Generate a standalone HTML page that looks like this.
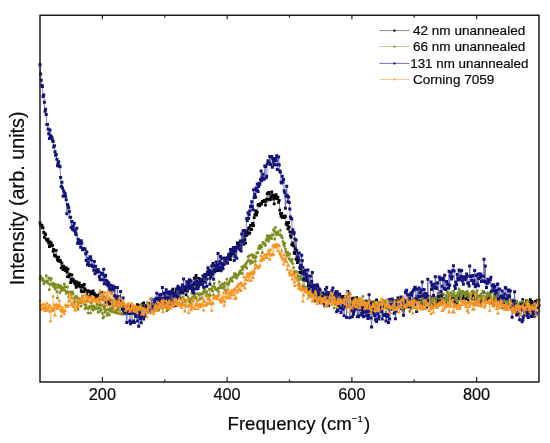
<!DOCTYPE html>
<html><head><meta charset="utf-8"><title>Raman spectra</title>
<style>
html,body{margin:0;padding:0;background:#fff}
svg{display:block}
text{font-family:"Liberation Sans",Arial,Helvetica,sans-serif;fill:#0a0a0a;stroke:#0a0a0a;stroke-width:0.2px}
</style></head>
<body>
<svg width="550" height="443" viewBox="0 0 550 443">
<rect width="550" height="443" fill="#fff"/>
<g id="data">
<path d="M40.0 223.0 L40.6 225.4 L41.2 225.3 L41.9 225.1 L42.5 227.8 L43.1 227.8 L43.7 232.3 L44.4 237.4 L45.0 233.6 L45.6 234.6 L46.2 239.2 L46.9 240.2 L47.5 240.8 L48.1 239.2 L48.7 243.1 L49.4 246.5 L50.0 241.9 L50.6 245.7 L51.2 242.8 L51.9 245.8 L52.5 245.4 L53.1 251.3 L53.7 249.5 L54.4 255.1 L55.0 255.9 L55.6 256.0 L56.2 250.4 L56.9 257.1 L57.5 259.5 L58.1 260.9 L58.7 257.1 L59.4 261.0 L60.0 260.4 L60.6 261.7 L61.2 267.9 L61.9 263.2 L62.5 266.3 L63.1 269.7 L63.7 266.2 L64.4 268.4 L65.0 269.8 L65.6 270.5 L66.2 267.6 L66.9 272.2 L67.5 276.7 L68.1 269.1 L68.7 276.9 L69.4 275.5 L70.0 274.1 L70.6 282.5 L71.2 279.7 L71.9 274.8 L72.5 279.2 L73.1 281.4 L73.7 280.0 L74.3 283.2 L75.0 281.7 L75.6 284.5 L76.2 287.4 L76.8 281.9 L77.5 285.1 L78.1 283.8 L78.7 286.2 L79.3 283.0 L80.0 285.3 L80.6 287.0 L81.2 290.7 L81.8 291.9 L82.5 285.1 L83.1 287.1 L83.7 291.6 L84.3 284.3 L85.0 289.0 L85.6 290.4 L86.2 294.6 L86.8 293.3 L87.5 290.6 L88.1 290.7 L88.7 291.3 L89.3 296.7 L90.0 291.3 L90.6 292.0 L91.2 294.2 L91.8 293.1 L92.5 293.2 L93.1 290.8 L93.7 294.3 L94.3 293.4 L95.0 298.3 L95.6 297.2 L96.2 295.5 L96.8 297.8 L97.5 295.2 L98.1 299.6 L98.7 296.8 L99.3 298.8 L100.0 293.7 L100.6 298.8 L101.2 293.2 L101.8 292.5 L102.5 297.8 L103.1 296.4 L103.7 299.8 L104.3 306.2 L105.0 297.6 L105.6 298.5 L106.2 301.3 L106.8 302.5 L107.4 300.9 L108.1 301.1 L108.7 304.1 L109.3 303.9 L109.9 299.7 L110.6 302.8 L111.2 303.5 L111.8 300.6 L112.4 304.7 L113.1 301.7 L113.7 307.3 L114.3 305.3 L114.9 305.2 L115.6 303.5 L116.2 305.1 L116.8 299.9 L117.4 302.6 L118.1 307.2 L118.7 300.2 L119.3 309.0 L119.9 301.7 L120.6 309.2 L121.2 304.8 L121.8 309.7 L122.4 308.0 L123.1 303.4 L123.7 311.6 L124.3 312.4 L124.9 308.1 L125.6 307.7 L126.2 308.1 L126.8 305.9 L127.4 312.0 L128.1 307.3 L128.7 308.8 L129.3 306.7 L129.9 307.2 L130.6 305.3 L131.2 312.6 L131.8 308.5 L132.4 311.8 L133.1 309.0 L133.7 306.9 L134.3 308.0 L134.9 307.2 L135.6 308.9 L136.2 307.7 L136.8 307.9 L137.4 304.7 L138.1 306.3 L138.7 313.4 L139.3 306.6 L139.9 305.5 L140.5 309.4 L141.2 312.5 L141.8 304.1 L142.4 307.7 L143.0 306.4 L143.7 303.0 L144.3 310.2 L144.9 307.9 L145.5 308.1 L146.2 305.6 L146.8 309.0 L147.4 306.0 L148.0 307.0 L148.7 304.0 L149.3 303.5 L149.9 310.7 L150.5 305.1 L151.2 307.2 L151.8 306.0 L152.4 304.5 L153.0 304.0 L153.7 307.0 L154.3 304.0 L154.9 304.1 L155.5 304.3 L156.2 307.3 L156.8 305.5 L157.4 304.3 L158.0 301.2 L158.7 298.5 L159.3 304.9 L159.9 304.6 L160.5 301.1 L161.2 302.7 L161.8 303.0 L162.4 302.8 L163.0 302.7 L163.7 298.4 L164.3 303.8 L164.9 295.4 L165.5 301.2 L166.2 299.8 L166.8 300.6 L167.4 303.3 L168.0 301.8 L168.7 293.9 L169.3 292.0 L169.9 299.0 L170.5 293.4 L171.2 296.0 L171.8 298.2 L172.4 290.7 L173.0 289.1 L173.6 295.6 L174.3 294.7 L174.9 293.6 L175.5 294.1 L176.1 291.2 L176.8 289.1 L177.4 292.7 L178.0 290.0 L178.6 287.8 L179.3 293.7 L179.9 291.8 L180.5 292.9 L181.1 288.5 L181.8 289.2 L182.4 287.9 L183.0 287.9 L183.6 290.7 L184.3 287.6 L184.9 290.6 L185.5 290.2 L186.1 294.8 L186.8 284.6 L187.4 290.8 L188.0 287.7 L188.6 287.6 L189.3 283.1 L189.9 285.6 L190.5 288.7 L191.1 286.0 L191.8 286.1 L192.4 284.7 L193.0 288.5 L193.6 284.8 L194.3 278.1 L194.9 282.1 L195.5 278.0 L196.1 275.5 L196.8 281.4 L197.4 286.4 L198.0 282.2 L198.6 278.3 L199.3 278.6 L199.9 284.1 L200.5 280.9 L201.1 280.2 L201.8 279.4 L202.4 279.3 L203.0 281.0 L203.6 279.8 L204.3 278.4 L204.9 274.3 L205.5 278.3 L206.1 274.4 L206.7 279.1 L207.4 271.8 L208.0 274.6 L208.6 274.5 L209.2 270.1 L209.9 278.5 L210.5 277.2 L211.1 271.1 L211.7 274.2 L212.4 272.6 L213.0 263.4 L213.6 271.2 L214.2 269.8 L214.9 269.7 L215.5 265.8 L216.1 267.6 L216.7 267.3 L217.4 270.7 L218.0 267.7 L218.6 266.2 L219.2 270.1 L219.9 263.5 L220.5 263.4 L221.1 258.7 L221.7 268.0 L222.4 265.7 L223.0 265.0 L223.6 263.7 L224.2 261.5 L224.9 261.2 L225.5 259.2 L226.1 258.8 L226.7 258.9 L227.4 262.5 L228.0 259.1 L228.6 256.7 L229.2 254.6 L229.9 253.8 L230.5 259.6 L231.1 255.8 L231.7 253.8 L232.4 252.0 L233.0 249.1 L233.6 251.4 L234.2 253.5 L234.9 249.1 L235.5 248.9 L236.1 248.2 L236.7 248.4 L237.4 242.8 L238.0 246.0 L238.6 243.5 L239.2 247.8 L239.8 242.3 L240.5 245.5 L241.1 247.5 L241.7 241.4 L242.3 239.8 L243.0 241.3 L243.6 239.9 L244.2 236.2 L244.8 239.6 L245.5 243.2 L246.1 235.7 L246.7 234.8 L247.3 231.4 L248.0 234.2 L248.6 228.5 L249.2 227.6 L249.8 233.1 L250.5 225.3 L251.1 229.5 L251.7 229.2 L252.3 224.0 L253.0 223.3 L253.6 225.7 L254.2 217.7 L254.8 214.7 L255.5 210.6 L256.1 212.8 L256.7 215.2 L257.3 212.1 L258.0 205.2 L258.6 204.4 L259.2 204.5 L259.8 205.9 L260.5 203.7 L261.1 204.1 L261.7 203.6 L262.3 201.3 L263.0 201.4 L263.6 201.6 L264.2 200.3 L264.8 201.6 L265.5 205.1 L266.1 201.0 L266.7 199.1 L267.3 193.7 L268.0 199.4 L268.6 192.3 L269.2 193.6 L269.8 199.9 L270.5 199.3 L271.1 196.6 L271.7 192.0 L272.3 195.9 L272.9 195.1 L273.6 199.0 L274.2 203.9 L274.8 198.2 L275.4 195.5 L276.1 194.6 L276.7 198.4 L277.3 198.9 L277.9 197.2 L278.6 202.3 L279.2 200.3 L279.8 210.1 L280.4 213.7 L281.1 216.3 L281.7 213.3 L282.3 217.4 L282.9 216.5 L283.6 216.7 L284.2 217.7 L284.8 215.8 L285.4 216.5 L286.1 224.2 L286.7 222.7 L287.3 225.2 L287.9 228.9 L288.6 222.5 L289.2 227.1 L289.8 231.9 L290.4 235.6 L291.1 237.0 L291.7 244.6 L292.3 244.8 L292.9 242.9 L293.6 245.8 L294.2 252.7 L294.8 253.5 L295.4 248.3 L296.1 259.4 L296.7 258.9 L297.3 262.7 L297.9 259.4 L298.6 261.2 L299.2 260.4 L299.8 272.5 L300.4 266.2 L301.1 272.8 L301.7 267.7 L302.3 271.4 L302.9 267.4 L303.6 272.5 L304.2 277.8 L304.8 272.6 L305.4 280.7 L306.1 279.8 L306.7 277.1 L307.3 279.8 L307.9 281.1 L308.5 283.4 L309.2 283.0 L309.8 283.1 L310.4 285.4 L311.0 284.1 L311.7 284.0 L312.3 288.2 L312.9 291.6 L313.5 285.2 L314.2 290.2 L314.8 288.9 L315.4 288.5 L316.0 294.3 L316.7 290.8 L317.3 297.2 L317.9 291.0 L318.5 294.8 L319.2 293.4 L319.8 292.3 L320.4 296.5 L321.0 294.7 L321.7 297.2 L322.3 295.6 L322.9 292.8 L323.5 295.9 L324.2 296.6 L324.8 299.4 L325.4 294.2 L326.0 296.9 L326.7 292.2 L327.3 299.3 L327.9 294.5 L328.5 292.6 L329.2 297.8 L329.8 301.3 L330.4 293.9 L331.0 295.3 L331.7 296.5 L332.3 295.5 L332.9 300.0 L333.5 296.7 L334.2 297.1 L334.8 301.0 L335.4 297.3 L336.0 300.8 L336.7 296.9 L337.3 296.3 L337.9 294.6 L338.5 305.5 L339.2 299.3 L339.8 301.0 L340.4 300.3 L341.0 301.0 L341.6 300.8 L342.3 306.3 L342.9 297.8 L343.5 296.4 L344.1 298.1 L344.8 297.3 L345.4 303.4 L346.0 303.7 L346.6 298.7 L347.3 297.5 L347.9 300.6 L348.5 305.8 L349.1 294.0 L349.8 303.5 L350.4 298.9 L351.0 305.2 L351.6 299.2 L352.3 301.6 L352.9 298.1 L353.5 299.8 L354.1 306.7 L354.8 305.2 L355.4 301.8 L356.0 300.5 L356.6 297.7 L357.3 302.1 L357.9 303.3 L358.5 303.3 L359.1 303.4 L359.8 300.5 L360.4 303.7 L361.0 303.8 L361.6 307.8 L362.3 309.6 L362.9 303.9 L363.5 302.2 L364.1 304.3 L364.8 302.8 L365.4 302.5 L366.0 304.6 L366.6 301.9 L367.3 306.7 L367.9 304.8 L368.5 305.9 L369.1 304.7 L369.8 303.2 L370.4 302.6 L371.0 304.8 L371.6 303.9 L372.3 306.3 L372.9 305.6 L373.5 301.8 L374.1 305.9 L374.7 301.9 L375.4 304.1 L376.0 305.0 L376.6 299.9 L377.2 306.2 L377.9 306.4 L378.5 305.5 L379.1 304.8 L379.7 304.9 L380.4 303.2 L381.0 305.2 L381.6 304.4 L382.2 306.3 L382.9 302.5 L383.5 306.6 L384.1 306.4 L384.7 305.5 L385.4 304.6 L386.0 307.5 L386.6 301.0 L387.2 307.2 L387.9 306.5 L388.5 306.6 L389.1 306.9 L389.7 303.8 L390.4 304.9 L391.0 307.5 L391.6 306.9 L392.2 306.2 L392.9 301.2 L393.5 307.1 L394.1 308.8 L394.7 308.3 L395.4 306.0 L396.0 300.8 L396.6 308.0 L397.2 304.8 L397.9 297.8 L398.5 306.2 L399.1 300.7 L399.7 301.3 L400.4 303.1 L401.0 308.6 L401.6 303.8 L402.2 305.6 L402.9 309.8 L403.5 309.3 L404.1 304.3 L404.7 303.8 L405.4 300.8 L406.0 302.4 L406.6 305.6 L407.2 305.4 L407.8 304.6 L408.5 307.1 L409.1 301.9 L409.7 303.9 L410.3 306.1 L411.0 305.6 L411.6 307.0 L412.2 304.9 L412.8 302.8 L413.5 304.7 L414.1 300.7 L414.7 298.8 L415.3 305.2 L416.0 303.2 L416.6 304.2 L417.2 298.4 L417.8 302.2 L418.5 301.4 L419.1 300.6 L419.7 296.5 L420.3 302.0 L421.0 305.5 L421.6 303.9 L422.2 301.0 L422.8 302.7 L423.5 304.8 L424.1 294.7 L424.7 302.1 L425.3 304.0 L426.0 304.3 L426.6 307.2 L427.2 305.5 L427.8 303.0 L428.5 302.9 L429.1 304.2 L429.7 300.3 L430.3 301.6 L431.0 304.3 L431.6 307.2 L432.2 301.0 L432.8 301.2 L433.5 301.9 L434.1 305.1 L434.7 301.0 L435.3 305.3 L436.0 298.1 L436.6 300.3 L437.2 300.2 L437.8 302.9 L438.5 303.6 L439.1 296.1 L439.7 297.7 L440.3 301.3 L440.9 298.3 L441.6 295.7 L442.2 303.0 L442.8 301.4 L443.4 301.3 L444.1 298.4 L444.7 302.6 L445.3 298.9 L445.9 302.7 L446.6 296.8 L447.2 296.9 L447.8 299.9 L448.4 297.1 L449.1 301.1 L449.7 299.8 L450.3 296.3 L450.9 299.1 L451.6 297.8 L452.2 301.4 L452.8 296.8 L453.4 297.3 L454.1 302.0 L454.7 304.9 L455.3 304.1 L455.9 298.4 L456.6 298.8 L457.2 302.5 L457.8 297.6 L458.4 295.1 L459.1 298.2 L459.7 299.1 L460.3 295.3 L460.9 292.8 L461.6 293.4 L462.2 299.4 L462.8 295.2 L463.4 296.9 L464.1 297.9 L464.7 299.0 L465.3 296.2 L465.9 298.6 L466.6 294.5 L467.2 296.0 L467.8 294.1 L468.4 300.3 L469.1 296.9 L469.7 294.9 L470.3 296.0 L470.9 296.4 L471.6 299.0 L472.2 292.4 L472.8 294.1 L473.4 296.0 L474.0 304.5 L474.7 299.9 L475.3 296.9 L475.9 299.3 L476.5 303.3 L477.2 296.7 L477.8 296.3 L478.4 301.0 L479.0 299.0 L479.7 299.6 L480.3 296.2 L480.9 303.3 L481.5 302.8 L482.2 299.5 L482.8 300.0 L483.4 292.2 L484.0 300.0 L484.7 297.7 L485.3 299.6 L485.9 300.4 L486.5 297.5 L487.2 293.7 L487.8 299.7 L488.4 296.6 L489.0 297.9 L489.7 297.2 L490.3 298.1 L490.9 292.4 L491.5 302.8 L492.2 300.1 L492.8 302.7 L493.4 305.4 L494.0 299.9 L494.7 294.8 L495.3 297.6 L495.9 296.8 L496.5 299.1 L497.2 300.9 L497.8 295.1 L498.4 302.1 L499.0 296.9 L499.7 302.3 L500.3 301.3 L500.9 300.9 L501.5 301.8 L502.2 300.7 L502.8 300.6 L503.4 297.7 L504.0 302.7 L504.7 308.3 L505.3 308.9 L505.9 307.1 L506.5 305.5 L507.1 301.6 L507.8 307.8 L508.4 303.6 L509.0 303.7 L509.6 303.1 L510.3 304.3 L510.9 302.8 L511.5 303.9 L512.1 301.1 L512.8 303.2 L513.4 311.0 L514.0 304.2 L514.6 303.8 L515.3 306.1 L515.9 306.7 L516.5 301.5 L517.1 304.2 L517.8 307.5 L518.4 305.7 L519.0 305.3 L519.6 309.5 L520.3 303.1 L520.9 305.3 L521.5 303.7 L522.1 309.5 L522.8 299.6 L523.4 303.4 L524.0 303.8 L524.6 307.3 L525.3 307.2 L525.9 309.6 L526.5 301.0 L527.1 307.8 L527.8 304.8 L528.4 303.7 L529.0 307.3 L529.6 303.1 L530.3 299.7 L530.9 304.7 L531.5 301.5 L532.1 304.0 L532.8 307.0 L533.4 306.8 L534.0 310.5 L534.6 305.4 L535.3 301.5 L535.9 303.8 L536.5 303.3 L537.1 302.5 L537.8 307.3 L538.4 304.1 L539.0 300.3" fill="none" stroke="#6e6e78" stroke-width="0.7"/>
<path d="M38.6 221.6h2.8v2.8h-2.8zM39.2 224.0h2.8v2.8h-2.8zM39.8 223.9h2.8v2.8h-2.8zM40.5 223.7h2.8v2.8h-2.8zM41.1 226.4h2.8v2.8h-2.8zM41.7 226.4h2.8v2.8h-2.8zM42.3 230.9h2.8v2.8h-2.8zM43.0 236.0h2.8v2.8h-2.8zM43.6 232.2h2.8v2.8h-2.8zM44.2 233.2h2.8v2.8h-2.8zM44.8 237.8h2.8v2.8h-2.8zM45.5 238.8h2.8v2.8h-2.8zM46.1 239.4h2.8v2.8h-2.8zM46.7 237.8h2.8v2.8h-2.8zM47.3 241.7h2.8v2.8h-2.8zM48.0 245.1h2.8v2.8h-2.8zM48.6 240.5h2.8v2.8h-2.8zM49.2 244.3h2.8v2.8h-2.8zM49.8 241.4h2.8v2.8h-2.8zM50.5 244.4h2.8v2.8h-2.8zM51.1 244.0h2.8v2.8h-2.8zM51.7 249.9h2.8v2.8h-2.8zM52.3 248.1h2.8v2.8h-2.8zM53.0 253.7h2.8v2.8h-2.8zM53.6 254.5h2.8v2.8h-2.8zM54.2 254.6h2.8v2.8h-2.8zM54.8 249.0h2.8v2.8h-2.8zM55.5 255.7h2.8v2.8h-2.8zM56.1 258.1h2.8v2.8h-2.8zM56.7 259.5h2.8v2.8h-2.8zM57.3 255.7h2.8v2.8h-2.8zM58.0 259.6h2.8v2.8h-2.8zM58.6 259.0h2.8v2.8h-2.8zM59.2 260.3h2.8v2.8h-2.8zM59.8 266.5h2.8v2.8h-2.8zM60.5 261.8h2.8v2.8h-2.8zM61.1 264.9h2.8v2.8h-2.8zM61.7 268.3h2.8v2.8h-2.8zM62.3 264.8h2.8v2.8h-2.8zM63.0 267.0h2.8v2.8h-2.8zM63.6 268.4h2.8v2.8h-2.8zM64.2 269.1h2.8v2.8h-2.8zM64.8 266.2h2.8v2.8h-2.8zM65.5 270.8h2.8v2.8h-2.8zM66.1 275.3h2.8v2.8h-2.8zM66.7 267.7h2.8v2.8h-2.8zM67.3 275.5h2.8v2.8h-2.8zM68.0 274.1h2.8v2.8h-2.8zM68.6 272.7h2.8v2.8h-2.8zM69.2 281.1h2.8v2.8h-2.8zM69.8 278.3h2.8v2.8h-2.8zM70.5 273.4h2.8v2.8h-2.8zM71.1 277.8h2.8v2.8h-2.8zM71.7 280.0h2.8v2.8h-2.8zM72.3 278.6h2.8v2.8h-2.8zM72.9 281.8h2.8v2.8h-2.8zM73.6 280.3h2.8v2.8h-2.8zM74.2 283.1h2.8v2.8h-2.8zM74.8 286.0h2.8v2.8h-2.8zM75.4 280.5h2.8v2.8h-2.8zM76.1 283.7h2.8v2.8h-2.8zM76.7 282.4h2.8v2.8h-2.8zM77.3 284.8h2.8v2.8h-2.8zM77.9 281.6h2.8v2.8h-2.8zM78.6 283.9h2.8v2.8h-2.8zM79.2 285.6h2.8v2.8h-2.8zM79.8 289.3h2.8v2.8h-2.8zM80.4 290.5h2.8v2.8h-2.8zM81.1 283.7h2.8v2.8h-2.8zM81.7 285.7h2.8v2.8h-2.8zM82.3 290.2h2.8v2.8h-2.8zM82.9 282.9h2.8v2.8h-2.8zM83.6 287.6h2.8v2.8h-2.8zM84.2 289.0h2.8v2.8h-2.8zM84.8 293.2h2.8v2.8h-2.8zM85.4 291.9h2.8v2.8h-2.8zM86.1 289.2h2.8v2.8h-2.8zM86.7 289.3h2.8v2.8h-2.8zM87.3 289.9h2.8v2.8h-2.8zM87.9 295.3h2.8v2.8h-2.8zM88.6 289.9h2.8v2.8h-2.8zM89.2 290.6h2.8v2.8h-2.8zM89.8 292.8h2.8v2.8h-2.8zM90.4 291.7h2.8v2.8h-2.8zM91.1 291.8h2.8v2.8h-2.8zM91.7 289.4h2.8v2.8h-2.8zM92.3 292.9h2.8v2.8h-2.8zM92.9 292.0h2.8v2.8h-2.8zM93.6 296.9h2.8v2.8h-2.8zM94.2 295.8h2.8v2.8h-2.8zM94.8 294.1h2.8v2.8h-2.8zM95.4 296.4h2.8v2.8h-2.8zM96.1 293.8h2.8v2.8h-2.8zM96.7 298.2h2.8v2.8h-2.8zM97.3 295.4h2.8v2.8h-2.8zM97.9 297.4h2.8v2.8h-2.8zM98.6 292.3h2.8v2.8h-2.8zM99.2 297.4h2.8v2.8h-2.8zM99.8 291.8h2.8v2.8h-2.8zM100.4 291.1h2.8v2.8h-2.8zM101.1 296.4h2.8v2.8h-2.8zM101.7 295.0h2.8v2.8h-2.8zM102.3 298.4h2.8v2.8h-2.8zM102.9 304.8h2.8v2.8h-2.8zM103.6 296.2h2.8v2.8h-2.8zM104.2 297.1h2.8v2.8h-2.8zM104.8 299.9h2.8v2.8h-2.8zM105.4 301.1h2.8v2.8h-2.8zM106.0 299.5h2.8v2.8h-2.8zM106.7 299.7h2.8v2.8h-2.8zM107.3 302.7h2.8v2.8h-2.8zM107.9 302.5h2.8v2.8h-2.8zM108.5 298.3h2.8v2.8h-2.8zM109.2 301.4h2.8v2.8h-2.8zM109.8 302.1h2.8v2.8h-2.8zM110.4 299.2h2.8v2.8h-2.8zM111.0 303.3h2.8v2.8h-2.8zM111.7 300.3h2.8v2.8h-2.8zM112.3 305.9h2.8v2.8h-2.8zM112.9 303.9h2.8v2.8h-2.8zM113.5 303.8h2.8v2.8h-2.8zM114.2 302.1h2.8v2.8h-2.8zM114.8 303.7h2.8v2.8h-2.8zM115.4 298.5h2.8v2.8h-2.8zM116.0 301.2h2.8v2.8h-2.8zM116.7 305.8h2.8v2.8h-2.8zM117.3 298.8h2.8v2.8h-2.8zM117.9 307.6h2.8v2.8h-2.8zM118.5 300.3h2.8v2.8h-2.8zM119.2 307.8h2.8v2.8h-2.8zM119.8 303.4h2.8v2.8h-2.8zM120.4 308.3h2.8v2.8h-2.8zM121.0 306.6h2.8v2.8h-2.8zM121.7 302.0h2.8v2.8h-2.8zM122.3 310.2h2.8v2.8h-2.8zM122.9 311.0h2.8v2.8h-2.8zM123.5 306.7h2.8v2.8h-2.8zM124.2 306.3h2.8v2.8h-2.8zM124.8 306.7h2.8v2.8h-2.8zM125.4 304.5h2.8v2.8h-2.8zM126.0 310.6h2.8v2.8h-2.8zM126.7 305.9h2.8v2.8h-2.8zM127.3 307.4h2.8v2.8h-2.8zM127.9 305.3h2.8v2.8h-2.8zM128.5 305.8h2.8v2.8h-2.8zM129.2 303.9h2.8v2.8h-2.8zM129.8 311.2h2.8v2.8h-2.8zM130.4 307.1h2.8v2.8h-2.8zM131.0 310.4h2.8v2.8h-2.8zM131.7 307.6h2.8v2.8h-2.8zM132.3 305.5h2.8v2.8h-2.8zM132.9 306.6h2.8v2.8h-2.8zM133.5 305.8h2.8v2.8h-2.8zM134.2 307.5h2.8v2.8h-2.8zM134.8 306.3h2.8v2.8h-2.8zM135.4 306.5h2.8v2.8h-2.8zM136.0 303.3h2.8v2.8h-2.8zM136.7 304.9h2.8v2.8h-2.8zM137.3 312.0h2.8v2.8h-2.8zM137.9 305.2h2.8v2.8h-2.8zM138.5 304.1h2.8v2.8h-2.8zM139.1 308.0h2.8v2.8h-2.8zM139.8 311.1h2.8v2.8h-2.8zM140.4 302.7h2.8v2.8h-2.8zM141.0 306.3h2.8v2.8h-2.8zM141.6 305.0h2.8v2.8h-2.8zM142.3 301.6h2.8v2.8h-2.8zM142.9 308.8h2.8v2.8h-2.8zM143.5 306.5h2.8v2.8h-2.8zM144.1 306.7h2.8v2.8h-2.8zM144.8 304.2h2.8v2.8h-2.8zM145.4 307.6h2.8v2.8h-2.8zM146.0 304.6h2.8v2.8h-2.8zM146.6 305.6h2.8v2.8h-2.8zM147.3 302.6h2.8v2.8h-2.8zM147.9 302.1h2.8v2.8h-2.8zM148.5 309.3h2.8v2.8h-2.8zM149.1 303.7h2.8v2.8h-2.8zM149.8 305.8h2.8v2.8h-2.8zM150.4 304.6h2.8v2.8h-2.8zM151.0 303.1h2.8v2.8h-2.8zM151.6 302.6h2.8v2.8h-2.8zM152.3 305.6h2.8v2.8h-2.8zM152.9 302.6h2.8v2.8h-2.8zM153.5 302.7h2.8v2.8h-2.8zM154.1 302.9h2.8v2.8h-2.8zM154.8 305.9h2.8v2.8h-2.8zM155.4 304.1h2.8v2.8h-2.8zM156.0 302.9h2.8v2.8h-2.8zM156.6 299.8h2.8v2.8h-2.8zM157.3 297.1h2.8v2.8h-2.8zM157.9 303.5h2.8v2.8h-2.8zM158.5 303.2h2.8v2.8h-2.8zM159.1 299.7h2.8v2.8h-2.8zM159.8 301.3h2.8v2.8h-2.8zM160.4 301.6h2.8v2.8h-2.8zM161.0 301.4h2.8v2.8h-2.8zM161.6 301.3h2.8v2.8h-2.8zM162.3 297.0h2.8v2.8h-2.8zM162.9 302.4h2.8v2.8h-2.8zM163.5 294.0h2.8v2.8h-2.8zM164.1 299.8h2.8v2.8h-2.8zM164.8 298.4h2.8v2.8h-2.8zM165.4 299.2h2.8v2.8h-2.8zM166.0 301.9h2.8v2.8h-2.8zM166.6 300.4h2.8v2.8h-2.8zM167.3 292.5h2.8v2.8h-2.8zM167.9 290.6h2.8v2.8h-2.8zM168.5 297.6h2.8v2.8h-2.8zM169.1 292.0h2.8v2.8h-2.8zM169.8 294.6h2.8v2.8h-2.8zM170.4 296.8h2.8v2.8h-2.8zM171.0 289.3h2.8v2.8h-2.8zM171.6 287.7h2.8v2.8h-2.8zM172.2 294.2h2.8v2.8h-2.8zM172.9 293.3h2.8v2.8h-2.8zM173.5 292.2h2.8v2.8h-2.8zM174.1 292.7h2.8v2.8h-2.8zM174.7 289.8h2.8v2.8h-2.8zM175.4 287.7h2.8v2.8h-2.8zM176.0 291.3h2.8v2.8h-2.8zM176.6 288.6h2.8v2.8h-2.8zM177.2 286.4h2.8v2.8h-2.8zM177.9 292.3h2.8v2.8h-2.8zM178.5 290.4h2.8v2.8h-2.8zM179.1 291.5h2.8v2.8h-2.8zM179.7 287.1h2.8v2.8h-2.8zM180.4 287.8h2.8v2.8h-2.8zM181.0 286.5h2.8v2.8h-2.8zM181.6 286.5h2.8v2.8h-2.8zM182.2 289.3h2.8v2.8h-2.8zM182.9 286.2h2.8v2.8h-2.8zM183.5 289.2h2.8v2.8h-2.8zM184.1 288.8h2.8v2.8h-2.8zM184.7 293.4h2.8v2.8h-2.8zM185.4 283.2h2.8v2.8h-2.8zM186.0 289.4h2.8v2.8h-2.8zM186.6 286.3h2.8v2.8h-2.8zM187.2 286.2h2.8v2.8h-2.8zM187.9 281.7h2.8v2.8h-2.8zM188.5 284.2h2.8v2.8h-2.8zM189.1 287.3h2.8v2.8h-2.8zM189.7 284.6h2.8v2.8h-2.8zM190.4 284.7h2.8v2.8h-2.8zM191.0 283.3h2.8v2.8h-2.8zM191.6 287.1h2.8v2.8h-2.8zM192.2 283.4h2.8v2.8h-2.8zM192.9 276.7h2.8v2.8h-2.8zM193.5 280.7h2.8v2.8h-2.8zM194.1 276.6h2.8v2.8h-2.8zM194.7 274.1h2.8v2.8h-2.8zM195.4 280.0h2.8v2.8h-2.8zM196.0 285.0h2.8v2.8h-2.8zM196.6 280.8h2.8v2.8h-2.8zM197.2 276.9h2.8v2.8h-2.8zM197.9 277.2h2.8v2.8h-2.8zM198.5 282.7h2.8v2.8h-2.8zM199.1 279.5h2.8v2.8h-2.8zM199.7 278.8h2.8v2.8h-2.8zM200.4 278.0h2.8v2.8h-2.8zM201.0 277.9h2.8v2.8h-2.8zM201.6 279.6h2.8v2.8h-2.8zM202.2 278.4h2.8v2.8h-2.8zM202.9 277.0h2.8v2.8h-2.8zM203.5 272.9h2.8v2.8h-2.8zM204.1 276.9h2.8v2.8h-2.8zM204.7 273.0h2.8v2.8h-2.8zM205.3 277.7h2.8v2.8h-2.8zM206.0 270.4h2.8v2.8h-2.8zM206.6 273.2h2.8v2.8h-2.8zM207.2 273.1h2.8v2.8h-2.8zM207.8 268.7h2.8v2.8h-2.8zM208.5 277.1h2.8v2.8h-2.8zM209.1 275.8h2.8v2.8h-2.8zM209.7 269.7h2.8v2.8h-2.8zM210.3 272.8h2.8v2.8h-2.8zM211.0 271.2h2.8v2.8h-2.8zM211.6 262.0h2.8v2.8h-2.8zM212.2 269.8h2.8v2.8h-2.8zM212.8 268.4h2.8v2.8h-2.8zM213.5 268.3h2.8v2.8h-2.8zM214.1 264.4h2.8v2.8h-2.8zM214.7 266.2h2.8v2.8h-2.8zM215.3 265.9h2.8v2.8h-2.8zM216.0 269.3h2.8v2.8h-2.8zM216.6 266.3h2.8v2.8h-2.8zM217.2 264.8h2.8v2.8h-2.8zM217.8 268.7h2.8v2.8h-2.8zM218.5 262.1h2.8v2.8h-2.8zM219.1 262.0h2.8v2.8h-2.8zM219.7 257.3h2.8v2.8h-2.8zM220.3 266.6h2.8v2.8h-2.8zM221.0 264.3h2.8v2.8h-2.8zM221.6 263.6h2.8v2.8h-2.8zM222.2 262.3h2.8v2.8h-2.8zM222.8 260.1h2.8v2.8h-2.8zM223.5 259.8h2.8v2.8h-2.8zM224.1 257.8h2.8v2.8h-2.8zM224.7 257.4h2.8v2.8h-2.8zM225.3 257.5h2.8v2.8h-2.8zM226.0 261.1h2.8v2.8h-2.8zM226.6 257.7h2.8v2.8h-2.8zM227.2 255.3h2.8v2.8h-2.8zM227.8 253.2h2.8v2.8h-2.8zM228.5 252.4h2.8v2.8h-2.8zM229.1 258.2h2.8v2.8h-2.8zM229.7 254.4h2.8v2.8h-2.8zM230.3 252.4h2.8v2.8h-2.8zM231.0 250.6h2.8v2.8h-2.8zM231.6 247.7h2.8v2.8h-2.8zM232.2 250.0h2.8v2.8h-2.8zM232.8 252.1h2.8v2.8h-2.8zM233.5 247.7h2.8v2.8h-2.8zM234.1 247.5h2.8v2.8h-2.8zM234.7 246.8h2.8v2.8h-2.8zM235.3 247.0h2.8v2.8h-2.8zM236.0 241.4h2.8v2.8h-2.8zM236.6 244.6h2.8v2.8h-2.8zM237.2 242.1h2.8v2.8h-2.8zM237.8 246.4h2.8v2.8h-2.8zM238.4 240.9h2.8v2.8h-2.8zM239.1 244.1h2.8v2.8h-2.8zM239.7 246.1h2.8v2.8h-2.8zM240.3 240.0h2.8v2.8h-2.8zM240.9 238.4h2.8v2.8h-2.8zM241.6 239.9h2.8v2.8h-2.8zM242.2 238.5h2.8v2.8h-2.8zM242.8 234.8h2.8v2.8h-2.8zM243.4 238.2h2.8v2.8h-2.8zM244.1 241.8h2.8v2.8h-2.8zM244.7 234.3h2.8v2.8h-2.8zM245.3 233.4h2.8v2.8h-2.8zM245.9 230.0h2.8v2.8h-2.8zM246.6 232.8h2.8v2.8h-2.8zM247.2 227.1h2.8v2.8h-2.8zM247.8 226.2h2.8v2.8h-2.8zM248.4 231.7h2.8v2.8h-2.8zM249.1 223.9h2.8v2.8h-2.8zM249.7 228.1h2.8v2.8h-2.8zM250.3 227.8h2.8v2.8h-2.8zM250.9 222.6h2.8v2.8h-2.8zM251.6 221.9h2.8v2.8h-2.8zM252.2 224.3h2.8v2.8h-2.8zM252.8 216.3h2.8v2.8h-2.8zM253.4 213.3h2.8v2.8h-2.8zM254.1 209.2h2.8v2.8h-2.8zM254.7 211.4h2.8v2.8h-2.8zM255.3 213.8h2.8v2.8h-2.8zM255.9 210.7h2.8v2.8h-2.8zM256.6 203.8h2.8v2.8h-2.8zM257.2 203.0h2.8v2.8h-2.8zM257.8 203.1h2.8v2.8h-2.8zM258.4 204.5h2.8v2.8h-2.8zM259.1 202.3h2.8v2.8h-2.8zM259.7 202.7h2.8v2.8h-2.8zM260.3 202.2h2.8v2.8h-2.8zM260.9 199.9h2.8v2.8h-2.8zM261.6 200.0h2.8v2.8h-2.8zM262.2 200.2h2.8v2.8h-2.8zM262.8 198.9h2.8v2.8h-2.8zM263.4 200.2h2.8v2.8h-2.8zM264.1 203.7h2.8v2.8h-2.8zM264.7 199.6h2.8v2.8h-2.8zM265.3 197.7h2.8v2.8h-2.8zM265.9 192.3h2.8v2.8h-2.8zM266.6 198.0h2.8v2.8h-2.8zM267.2 190.9h2.8v2.8h-2.8zM267.8 192.2h2.8v2.8h-2.8zM268.4 198.5h2.8v2.8h-2.8zM269.1 197.9h2.8v2.8h-2.8zM269.7 195.2h2.8v2.8h-2.8zM270.3 190.6h2.8v2.8h-2.8zM270.9 194.5h2.8v2.8h-2.8zM271.5 193.7h2.8v2.8h-2.8zM272.2 197.6h2.8v2.8h-2.8zM272.8 202.5h2.8v2.8h-2.8zM273.4 196.8h2.8v2.8h-2.8zM274.0 194.1h2.8v2.8h-2.8zM274.7 193.2h2.8v2.8h-2.8zM275.3 197.0h2.8v2.8h-2.8zM275.9 197.5h2.8v2.8h-2.8zM276.5 195.8h2.8v2.8h-2.8zM277.2 200.9h2.8v2.8h-2.8zM277.8 198.9h2.8v2.8h-2.8zM278.4 208.7h2.8v2.8h-2.8zM279.0 212.3h2.8v2.8h-2.8zM279.7 214.9h2.8v2.8h-2.8zM280.3 211.9h2.8v2.8h-2.8zM280.9 216.0h2.8v2.8h-2.8zM281.5 215.1h2.8v2.8h-2.8zM282.2 215.3h2.8v2.8h-2.8zM282.8 216.3h2.8v2.8h-2.8zM283.4 214.4h2.8v2.8h-2.8zM284.0 215.1h2.8v2.8h-2.8zM284.7 222.8h2.8v2.8h-2.8zM285.3 221.3h2.8v2.8h-2.8zM285.9 223.8h2.8v2.8h-2.8zM286.5 227.5h2.8v2.8h-2.8zM287.2 221.1h2.8v2.8h-2.8zM287.8 225.7h2.8v2.8h-2.8zM288.4 230.5h2.8v2.8h-2.8zM289.0 234.2h2.8v2.8h-2.8zM289.7 235.6h2.8v2.8h-2.8zM290.3 243.2h2.8v2.8h-2.8zM290.9 243.4h2.8v2.8h-2.8zM291.5 241.5h2.8v2.8h-2.8zM292.2 244.4h2.8v2.8h-2.8zM292.8 251.3h2.8v2.8h-2.8zM293.4 252.1h2.8v2.8h-2.8zM294.0 246.9h2.8v2.8h-2.8zM294.7 258.0h2.8v2.8h-2.8zM295.3 257.5h2.8v2.8h-2.8zM295.9 261.3h2.8v2.8h-2.8zM296.5 258.0h2.8v2.8h-2.8zM297.2 259.8h2.8v2.8h-2.8zM297.8 259.0h2.8v2.8h-2.8zM298.4 271.1h2.8v2.8h-2.8zM299.0 264.8h2.8v2.8h-2.8zM299.7 271.4h2.8v2.8h-2.8zM300.3 266.3h2.8v2.8h-2.8zM300.9 270.0h2.8v2.8h-2.8zM301.5 266.0h2.8v2.8h-2.8zM302.2 271.1h2.8v2.8h-2.8zM302.8 276.4h2.8v2.8h-2.8zM303.4 271.2h2.8v2.8h-2.8zM304.0 279.3h2.8v2.8h-2.8zM304.7 278.4h2.8v2.8h-2.8zM305.3 275.7h2.8v2.8h-2.8zM305.9 278.4h2.8v2.8h-2.8zM306.5 279.7h2.8v2.8h-2.8zM307.1 282.0h2.8v2.8h-2.8zM307.8 281.6h2.8v2.8h-2.8zM308.4 281.7h2.8v2.8h-2.8zM309.0 284.0h2.8v2.8h-2.8zM309.6 282.7h2.8v2.8h-2.8zM310.3 282.6h2.8v2.8h-2.8zM310.9 286.8h2.8v2.8h-2.8zM311.5 290.2h2.8v2.8h-2.8zM312.1 283.8h2.8v2.8h-2.8zM312.8 288.8h2.8v2.8h-2.8zM313.4 287.5h2.8v2.8h-2.8zM314.0 287.1h2.8v2.8h-2.8zM314.6 292.9h2.8v2.8h-2.8zM315.3 289.4h2.8v2.8h-2.8zM315.9 295.8h2.8v2.8h-2.8zM316.5 289.6h2.8v2.8h-2.8zM317.1 293.4h2.8v2.8h-2.8zM317.8 292.0h2.8v2.8h-2.8zM318.4 290.9h2.8v2.8h-2.8zM319.0 295.1h2.8v2.8h-2.8zM319.6 293.3h2.8v2.8h-2.8zM320.3 295.8h2.8v2.8h-2.8zM320.9 294.2h2.8v2.8h-2.8zM321.5 291.4h2.8v2.8h-2.8zM322.1 294.5h2.8v2.8h-2.8zM322.8 295.2h2.8v2.8h-2.8zM323.4 298.0h2.8v2.8h-2.8zM324.0 292.8h2.8v2.8h-2.8zM324.6 295.5h2.8v2.8h-2.8zM325.3 290.8h2.8v2.8h-2.8zM325.9 297.9h2.8v2.8h-2.8zM326.5 293.1h2.8v2.8h-2.8zM327.1 291.2h2.8v2.8h-2.8zM327.8 296.4h2.8v2.8h-2.8zM328.4 299.9h2.8v2.8h-2.8zM329.0 292.5h2.8v2.8h-2.8zM329.6 293.9h2.8v2.8h-2.8zM330.3 295.1h2.8v2.8h-2.8zM330.9 294.1h2.8v2.8h-2.8zM331.5 298.6h2.8v2.8h-2.8zM332.1 295.3h2.8v2.8h-2.8zM332.8 295.7h2.8v2.8h-2.8zM333.4 299.6h2.8v2.8h-2.8zM334.0 295.9h2.8v2.8h-2.8zM334.6 299.4h2.8v2.8h-2.8zM335.3 295.5h2.8v2.8h-2.8zM335.9 294.9h2.8v2.8h-2.8zM336.5 293.2h2.8v2.8h-2.8zM337.1 304.1h2.8v2.8h-2.8zM337.8 297.9h2.8v2.8h-2.8zM338.4 299.6h2.8v2.8h-2.8zM339.0 298.9h2.8v2.8h-2.8zM339.6 299.6h2.8v2.8h-2.8zM340.2 299.4h2.8v2.8h-2.8zM340.9 304.9h2.8v2.8h-2.8zM341.5 296.4h2.8v2.8h-2.8zM342.1 295.0h2.8v2.8h-2.8zM342.7 296.7h2.8v2.8h-2.8zM343.4 295.9h2.8v2.8h-2.8zM344.0 302.0h2.8v2.8h-2.8zM344.6 302.3h2.8v2.8h-2.8zM345.2 297.3h2.8v2.8h-2.8zM345.9 296.1h2.8v2.8h-2.8zM346.5 299.2h2.8v2.8h-2.8zM347.1 304.4h2.8v2.8h-2.8zM347.7 292.6h2.8v2.8h-2.8zM348.4 302.1h2.8v2.8h-2.8zM349.0 297.5h2.8v2.8h-2.8zM349.6 303.8h2.8v2.8h-2.8zM350.2 297.8h2.8v2.8h-2.8zM350.9 300.2h2.8v2.8h-2.8zM351.5 296.7h2.8v2.8h-2.8zM352.1 298.4h2.8v2.8h-2.8zM352.7 305.3h2.8v2.8h-2.8zM353.4 303.8h2.8v2.8h-2.8zM354.0 300.4h2.8v2.8h-2.8zM354.6 299.1h2.8v2.8h-2.8zM355.2 296.3h2.8v2.8h-2.8zM355.9 300.7h2.8v2.8h-2.8zM356.5 301.9h2.8v2.8h-2.8zM357.1 301.9h2.8v2.8h-2.8zM357.7 302.0h2.8v2.8h-2.8zM358.4 299.1h2.8v2.8h-2.8zM359.0 302.3h2.8v2.8h-2.8zM359.6 302.4h2.8v2.8h-2.8zM360.2 306.4h2.8v2.8h-2.8zM360.9 308.2h2.8v2.8h-2.8zM361.5 302.5h2.8v2.8h-2.8zM362.1 300.8h2.8v2.8h-2.8zM362.7 302.9h2.8v2.8h-2.8zM363.4 301.4h2.8v2.8h-2.8zM364.0 301.1h2.8v2.8h-2.8zM364.6 303.2h2.8v2.8h-2.8zM365.2 300.5h2.8v2.8h-2.8zM365.9 305.3h2.8v2.8h-2.8zM366.5 303.4h2.8v2.8h-2.8zM367.1 304.5h2.8v2.8h-2.8zM367.7 303.3h2.8v2.8h-2.8zM368.4 301.8h2.8v2.8h-2.8zM369.0 301.2h2.8v2.8h-2.8zM369.6 303.4h2.8v2.8h-2.8zM370.2 302.5h2.8v2.8h-2.8zM370.9 304.9h2.8v2.8h-2.8zM371.5 304.2h2.8v2.8h-2.8zM372.1 300.4h2.8v2.8h-2.8zM372.7 304.5h2.8v2.8h-2.8zM373.3 300.5h2.8v2.8h-2.8zM374.0 302.7h2.8v2.8h-2.8zM374.6 303.6h2.8v2.8h-2.8zM375.2 298.5h2.8v2.8h-2.8zM375.8 304.8h2.8v2.8h-2.8zM376.5 305.0h2.8v2.8h-2.8zM377.1 304.1h2.8v2.8h-2.8zM377.7 303.4h2.8v2.8h-2.8zM378.3 303.5h2.8v2.8h-2.8zM379.0 301.8h2.8v2.8h-2.8zM379.6 303.8h2.8v2.8h-2.8zM380.2 303.0h2.8v2.8h-2.8zM380.8 304.9h2.8v2.8h-2.8zM381.5 301.1h2.8v2.8h-2.8zM382.1 305.2h2.8v2.8h-2.8zM382.7 305.0h2.8v2.8h-2.8zM383.3 304.1h2.8v2.8h-2.8zM384.0 303.2h2.8v2.8h-2.8zM384.6 306.1h2.8v2.8h-2.8zM385.2 299.6h2.8v2.8h-2.8zM385.8 305.8h2.8v2.8h-2.8zM386.5 305.1h2.8v2.8h-2.8zM387.1 305.2h2.8v2.8h-2.8zM387.7 305.5h2.8v2.8h-2.8zM388.3 302.4h2.8v2.8h-2.8zM389.0 303.5h2.8v2.8h-2.8zM389.6 306.1h2.8v2.8h-2.8zM390.2 305.5h2.8v2.8h-2.8zM390.8 304.8h2.8v2.8h-2.8zM391.5 299.8h2.8v2.8h-2.8zM392.1 305.7h2.8v2.8h-2.8zM392.7 307.4h2.8v2.8h-2.8zM393.3 306.9h2.8v2.8h-2.8zM394.0 304.6h2.8v2.8h-2.8zM394.6 299.4h2.8v2.8h-2.8zM395.2 306.6h2.8v2.8h-2.8zM395.8 303.4h2.8v2.8h-2.8zM396.5 296.4h2.8v2.8h-2.8zM397.1 304.8h2.8v2.8h-2.8zM397.7 299.3h2.8v2.8h-2.8zM398.3 299.9h2.8v2.8h-2.8zM399.0 301.7h2.8v2.8h-2.8zM399.6 307.2h2.8v2.8h-2.8zM400.2 302.4h2.8v2.8h-2.8zM400.8 304.2h2.8v2.8h-2.8zM401.5 308.4h2.8v2.8h-2.8zM402.1 307.9h2.8v2.8h-2.8zM402.7 302.9h2.8v2.8h-2.8zM403.3 302.4h2.8v2.8h-2.8zM404.0 299.4h2.8v2.8h-2.8zM404.6 301.0h2.8v2.8h-2.8zM405.2 304.2h2.8v2.8h-2.8zM405.8 304.0h2.8v2.8h-2.8zM406.4 303.2h2.8v2.8h-2.8zM407.1 305.7h2.8v2.8h-2.8zM407.7 300.5h2.8v2.8h-2.8zM408.3 302.5h2.8v2.8h-2.8zM408.9 304.7h2.8v2.8h-2.8zM409.6 304.2h2.8v2.8h-2.8zM410.2 305.6h2.8v2.8h-2.8zM410.8 303.5h2.8v2.8h-2.8zM411.4 301.4h2.8v2.8h-2.8zM412.1 303.3h2.8v2.8h-2.8zM412.7 299.3h2.8v2.8h-2.8zM413.3 297.4h2.8v2.8h-2.8zM413.9 303.8h2.8v2.8h-2.8zM414.6 301.8h2.8v2.8h-2.8zM415.2 302.8h2.8v2.8h-2.8zM415.8 297.0h2.8v2.8h-2.8zM416.4 300.8h2.8v2.8h-2.8zM417.1 300.0h2.8v2.8h-2.8zM417.7 299.2h2.8v2.8h-2.8zM418.3 295.1h2.8v2.8h-2.8zM418.9 300.6h2.8v2.8h-2.8zM419.6 304.1h2.8v2.8h-2.8zM420.2 302.5h2.8v2.8h-2.8zM420.8 299.6h2.8v2.8h-2.8zM421.4 301.3h2.8v2.8h-2.8zM422.1 303.4h2.8v2.8h-2.8zM422.7 293.3h2.8v2.8h-2.8zM423.3 300.7h2.8v2.8h-2.8zM423.9 302.6h2.8v2.8h-2.8zM424.6 302.9h2.8v2.8h-2.8zM425.2 305.8h2.8v2.8h-2.8zM425.8 304.1h2.8v2.8h-2.8zM426.4 301.6h2.8v2.8h-2.8zM427.1 301.5h2.8v2.8h-2.8zM427.7 302.8h2.8v2.8h-2.8zM428.3 298.9h2.8v2.8h-2.8zM428.9 300.2h2.8v2.8h-2.8zM429.6 302.9h2.8v2.8h-2.8zM430.2 305.8h2.8v2.8h-2.8zM430.8 299.6h2.8v2.8h-2.8zM431.4 299.8h2.8v2.8h-2.8zM432.1 300.5h2.8v2.8h-2.8zM432.7 303.7h2.8v2.8h-2.8zM433.3 299.6h2.8v2.8h-2.8zM433.9 303.9h2.8v2.8h-2.8zM434.6 296.7h2.8v2.8h-2.8zM435.2 298.9h2.8v2.8h-2.8zM435.8 298.8h2.8v2.8h-2.8zM436.4 301.5h2.8v2.8h-2.8zM437.1 302.2h2.8v2.8h-2.8zM437.7 294.7h2.8v2.8h-2.8zM438.3 296.3h2.8v2.8h-2.8zM438.9 299.9h2.8v2.8h-2.8zM439.5 296.9h2.8v2.8h-2.8zM440.2 294.3h2.8v2.8h-2.8zM440.8 301.6h2.8v2.8h-2.8zM441.4 300.0h2.8v2.8h-2.8zM442.0 299.9h2.8v2.8h-2.8zM442.7 297.0h2.8v2.8h-2.8zM443.3 301.2h2.8v2.8h-2.8zM443.9 297.5h2.8v2.8h-2.8zM444.5 301.3h2.8v2.8h-2.8zM445.2 295.4h2.8v2.8h-2.8zM445.8 295.5h2.8v2.8h-2.8zM446.4 298.5h2.8v2.8h-2.8zM447.0 295.7h2.8v2.8h-2.8zM447.7 299.7h2.8v2.8h-2.8zM448.3 298.4h2.8v2.8h-2.8zM448.9 294.9h2.8v2.8h-2.8zM449.5 297.7h2.8v2.8h-2.8zM450.2 296.4h2.8v2.8h-2.8zM450.8 300.0h2.8v2.8h-2.8zM451.4 295.4h2.8v2.8h-2.8zM452.0 295.9h2.8v2.8h-2.8zM452.7 300.6h2.8v2.8h-2.8zM453.3 303.5h2.8v2.8h-2.8zM453.9 302.7h2.8v2.8h-2.8zM454.5 297.0h2.8v2.8h-2.8zM455.2 297.4h2.8v2.8h-2.8zM455.8 301.1h2.8v2.8h-2.8zM456.4 296.2h2.8v2.8h-2.8zM457.0 293.7h2.8v2.8h-2.8zM457.7 296.8h2.8v2.8h-2.8zM458.3 297.7h2.8v2.8h-2.8zM458.9 293.9h2.8v2.8h-2.8zM459.5 291.4h2.8v2.8h-2.8zM460.2 292.0h2.8v2.8h-2.8zM460.8 298.0h2.8v2.8h-2.8zM461.4 293.8h2.8v2.8h-2.8zM462.0 295.5h2.8v2.8h-2.8zM462.7 296.5h2.8v2.8h-2.8zM463.3 297.6h2.8v2.8h-2.8zM463.9 294.8h2.8v2.8h-2.8zM464.5 297.2h2.8v2.8h-2.8zM465.2 293.1h2.8v2.8h-2.8zM465.8 294.6h2.8v2.8h-2.8zM466.4 292.7h2.8v2.8h-2.8zM467.0 298.9h2.8v2.8h-2.8zM467.7 295.5h2.8v2.8h-2.8zM468.3 293.5h2.8v2.8h-2.8zM468.9 294.6h2.8v2.8h-2.8zM469.5 295.0h2.8v2.8h-2.8zM470.2 297.6h2.8v2.8h-2.8zM470.8 291.0h2.8v2.8h-2.8zM471.4 292.7h2.8v2.8h-2.8zM472.0 294.6h2.8v2.8h-2.8zM472.6 303.1h2.8v2.8h-2.8zM473.3 298.5h2.8v2.8h-2.8zM473.9 295.5h2.8v2.8h-2.8zM474.5 297.9h2.8v2.8h-2.8zM475.1 301.9h2.8v2.8h-2.8zM475.8 295.3h2.8v2.8h-2.8zM476.4 294.9h2.8v2.8h-2.8zM477.0 299.6h2.8v2.8h-2.8zM477.6 297.6h2.8v2.8h-2.8zM478.3 298.2h2.8v2.8h-2.8zM478.9 294.8h2.8v2.8h-2.8zM479.5 301.9h2.8v2.8h-2.8zM480.1 301.4h2.8v2.8h-2.8zM480.8 298.1h2.8v2.8h-2.8zM481.4 298.6h2.8v2.8h-2.8zM482.0 290.8h2.8v2.8h-2.8zM482.6 298.6h2.8v2.8h-2.8zM483.3 296.3h2.8v2.8h-2.8zM483.9 298.2h2.8v2.8h-2.8zM484.5 299.0h2.8v2.8h-2.8zM485.1 296.1h2.8v2.8h-2.8zM485.8 292.3h2.8v2.8h-2.8zM486.4 298.3h2.8v2.8h-2.8zM487.0 295.2h2.8v2.8h-2.8zM487.6 296.5h2.8v2.8h-2.8zM488.3 295.8h2.8v2.8h-2.8zM488.9 296.7h2.8v2.8h-2.8zM489.5 291.0h2.8v2.8h-2.8zM490.1 301.4h2.8v2.8h-2.8zM490.8 298.7h2.8v2.8h-2.8zM491.4 301.3h2.8v2.8h-2.8zM492.0 304.0h2.8v2.8h-2.8zM492.6 298.5h2.8v2.8h-2.8zM493.3 293.4h2.8v2.8h-2.8zM493.9 296.2h2.8v2.8h-2.8zM494.5 295.4h2.8v2.8h-2.8zM495.1 297.7h2.8v2.8h-2.8zM495.8 299.5h2.8v2.8h-2.8zM496.4 293.7h2.8v2.8h-2.8zM497.0 300.7h2.8v2.8h-2.8zM497.6 295.5h2.8v2.8h-2.8zM498.3 300.9h2.8v2.8h-2.8zM498.9 299.9h2.8v2.8h-2.8zM499.5 299.5h2.8v2.8h-2.8zM500.1 300.4h2.8v2.8h-2.8zM500.8 299.3h2.8v2.8h-2.8zM501.4 299.2h2.8v2.8h-2.8zM502.0 296.3h2.8v2.8h-2.8zM502.6 301.3h2.8v2.8h-2.8zM503.3 306.9h2.8v2.8h-2.8zM503.9 307.5h2.8v2.8h-2.8zM504.5 305.7h2.8v2.8h-2.8zM505.1 304.1h2.8v2.8h-2.8zM505.7 300.2h2.8v2.8h-2.8zM506.4 306.4h2.8v2.8h-2.8zM507.0 302.2h2.8v2.8h-2.8zM507.6 302.3h2.8v2.8h-2.8zM508.2 301.7h2.8v2.8h-2.8zM508.9 302.9h2.8v2.8h-2.8zM509.5 301.4h2.8v2.8h-2.8zM510.1 302.5h2.8v2.8h-2.8zM510.7 299.7h2.8v2.8h-2.8zM511.4 301.8h2.8v2.8h-2.8zM512.0 309.6h2.8v2.8h-2.8zM512.6 302.8h2.8v2.8h-2.8zM513.2 302.4h2.8v2.8h-2.8zM513.9 304.7h2.8v2.8h-2.8zM514.5 305.3h2.8v2.8h-2.8zM515.1 300.1h2.8v2.8h-2.8zM515.7 302.8h2.8v2.8h-2.8zM516.4 306.1h2.8v2.8h-2.8zM517.0 304.3h2.8v2.8h-2.8zM517.6 303.9h2.8v2.8h-2.8zM518.2 308.1h2.8v2.8h-2.8zM518.9 301.7h2.8v2.8h-2.8zM519.5 303.9h2.8v2.8h-2.8zM520.1 302.3h2.8v2.8h-2.8zM520.7 308.1h2.8v2.8h-2.8zM521.4 298.2h2.8v2.8h-2.8zM522.0 302.0h2.8v2.8h-2.8zM522.6 302.4h2.8v2.8h-2.8zM523.2 305.9h2.8v2.8h-2.8zM523.9 305.8h2.8v2.8h-2.8zM524.5 308.2h2.8v2.8h-2.8zM525.1 299.6h2.8v2.8h-2.8zM525.7 306.4h2.8v2.8h-2.8zM526.4 303.4h2.8v2.8h-2.8zM527.0 302.3h2.8v2.8h-2.8zM527.6 305.9h2.8v2.8h-2.8zM528.2 301.7h2.8v2.8h-2.8zM528.9 298.3h2.8v2.8h-2.8zM529.5 303.3h2.8v2.8h-2.8zM530.1 300.1h2.8v2.8h-2.8zM530.7 302.6h2.8v2.8h-2.8zM531.4 305.6h2.8v2.8h-2.8zM532.0 305.4h2.8v2.8h-2.8zM532.6 309.1h2.8v2.8h-2.8zM533.2 304.0h2.8v2.8h-2.8zM533.9 300.1h2.8v2.8h-2.8zM534.5 302.4h2.8v2.8h-2.8zM535.1 301.9h2.8v2.8h-2.8zM535.7 301.1h2.8v2.8h-2.8zM536.4 305.9h2.8v2.8h-2.8zM537.0 302.7h2.8v2.8h-2.8zM537.6 298.9h2.8v2.8h-2.8z" fill="#000000"/>
<path d="M40.0 278.6 L40.6 276.1 L41.2 278.5 L41.9 278.1 L42.5 280.6 L43.1 278.9 L43.7 283.9 L44.4 281.4 L45.0 281.7 L45.6 282.3 L46.2 275.8 L46.9 281.1 L47.5 281.2 L48.1 283.4 L48.7 278.0 L49.4 289.7 L50.0 284.4 L50.6 279.9 L51.2 278.4 L51.9 284.2 L52.5 285.3 L53.1 283.3 L53.7 286.7 L54.4 284.3 L55.0 289.1 L55.6 284.7 L56.2 287.6 L56.9 291.8 L57.5 298.1 L58.1 285.0 L58.7 287.3 L59.4 286.3 L60.0 292.7 L60.6 285.7 L61.2 288.6 L61.9 290.6 L62.5 287.4 L63.1 287.8 L63.7 289.9 L64.4 284.2 L65.0 287.0 L65.6 291.2 L66.2 293.6 L66.9 292.7 L67.5 287.0 L68.1 292.3 L68.7 297.3 L69.4 296.8 L70.0 294.7 L70.6 292.0 L71.2 298.0 L71.9 293.9 L72.5 292.0 L73.1 293.7 L73.7 302.6 L74.3 298.3 L75.0 302.2 L75.6 296.5 L76.2 302.2 L76.8 296.8 L77.5 298.9 L78.1 309.2 L78.7 303.1 L79.3 298.8 L80.0 300.7 L80.6 302.6 L81.2 306.3 L81.8 300.3 L82.5 296.0 L83.1 301.8 L83.7 303.2 L84.3 303.9 L85.0 308.7 L85.6 305.3 L86.2 307.4 L86.8 300.5 L87.5 308.2 L88.1 313.1 L88.7 308.4 L89.3 306.8 L90.0 306.7 L90.6 313.1 L91.2 303.2 L91.8 306.5 L92.5 308.9 L93.1 310.2 L93.7 306.0 L94.3 309.0 L95.0 307.1 L95.6 308.7 L96.2 308.0 L96.8 304.3 L97.5 308.7 L98.1 312.2 L98.7 305.3 L99.3 308.1 L100.0 311.6 L100.6 305.1 L101.2 309.9 L101.8 305.3 L102.5 313.6 L103.1 318.0 L103.7 317.0 L104.3 308.6 L105.0 312.3 L105.6 310.0 L106.2 309.9 L106.8 315.4 L107.4 304.7 L108.1 313.6 L108.7 309.5 L109.3 315.0 L109.9 310.5 L110.6 307.8 L111.2 310.6 L111.8 312.0 L112.4 310.0 L113.1 311.4 L113.7 308.4 L114.3 303.6 L114.9 312.7 L115.6 312.1 L116.2 310.5 L116.8 310.3 L117.4 313.3 L118.1 308.8 L118.7 308.1 L119.3 309.7 L119.9 313.9 L120.6 306.2 L121.2 314.0 L121.8 308.5 L122.4 307.2 L123.1 314.3 L123.7 310.3 L124.3 306.7 L124.9 309.6 L125.6 313.5 L126.2 314.3 L126.8 309.5 L127.4 312.0 L128.1 313.0 L128.7 308.9 L129.3 311.9 L129.9 310.8 L130.6 309.3 L131.2 309.5 L131.8 311.2 L132.4 311.1 L133.1 309.3 L133.7 309.7 L134.3 314.3 L134.9 311.6 L135.6 313.7 L136.2 314.6 L136.8 312.7 L137.4 317.7 L138.1 308.4 L138.7 313.2 L139.3 309.8 L139.9 316.2 L140.5 315.7 L141.2 304.7 L141.8 307.5 L142.4 312.3 L143.0 312.6 L143.7 312.3 L144.3 309.8 L144.9 311.3 L145.5 311.8 L146.2 309.5 L146.8 312.7 L147.4 302.7 L148.0 311.2 L148.7 306.1 L149.3 312.0 L149.9 308.3 L150.5 306.2 L151.2 309.9 L151.8 305.9 L152.4 305.8 L153.0 303.7 L153.7 308.2 L154.3 309.6 L154.9 311.1 L155.5 307.4 L156.2 310.8 L156.8 307.6 L157.4 307.1 L158.0 308.9 L158.7 310.2 L159.3 305.9 L159.9 306.0 L160.5 306.1 L161.2 306.6 L161.8 303.5 L162.4 309.1 L163.0 304.7 L163.7 307.1 L164.3 303.0 L164.9 306.4 L165.5 306.3 L166.2 303.7 L166.8 310.9 L167.4 305.8 L168.0 309.8 L168.7 307.2 L169.3 302.2 L169.9 302.9 L170.5 305.2 L171.2 303.9 L171.8 303.7 L172.4 302.6 L173.0 297.9 L173.6 302.5 L174.3 296.3 L174.9 304.0 L175.5 300.5 L176.1 300.4 L176.8 301.8 L177.4 303.1 L178.0 297.9 L178.6 296.8 L179.3 298.7 L179.9 295.6 L180.5 298.7 L181.1 306.2 L181.8 298.2 L182.4 303.2 L183.0 296.9 L183.6 301.8 L184.3 299.8 L184.9 300.5 L185.5 302.2 L186.1 305.6 L186.8 300.8 L187.4 300.4 L188.0 297.0 L188.6 301.5 L189.3 298.8 L189.9 301.9 L190.5 299.1 L191.1 304.3 L191.8 293.0 L192.4 297.9 L193.0 301.2 L193.6 297.3 L194.3 295.8 L194.9 297.2 L195.5 293.7 L196.1 298.0 L196.8 304.8 L197.4 300.7 L198.0 293.7 L198.6 294.2 L199.3 295.3 L199.9 299.3 L200.5 293.6 L201.1 293.8 L201.8 298.3 L202.4 297.9 L203.0 294.0 L203.6 291.5 L204.3 290.0 L204.9 292.3 L205.5 287.4 L206.1 296.1 L206.7 291.7 L207.4 294.8 L208.0 298.7 L208.6 296.4 L209.2 289.2 L209.9 295.0 L210.5 295.6 L211.1 289.7 L211.7 288.8 L212.4 291.1 L213.0 286.4 L213.6 295.3 L214.2 283.5 L214.9 287.1 L215.5 289.3 L216.1 289.2 L216.7 290.1 L217.4 290.1 L218.0 288.4 L218.6 292.1 L219.2 282.0 L219.9 288.1 L220.5 285.6 L221.1 287.8 L221.7 287.7 L222.4 283.9 L223.0 284.3 L223.6 288.2 L224.2 286.4 L224.9 282.9 L225.5 290.6 L226.1 290.9 L226.7 279.2 L227.4 284.0 L228.0 290.1 L228.6 284.4 L229.2 282.3 L229.9 280.5 L230.5 279.0 L231.1 279.5 L231.7 277.9 L232.4 281.3 L233.0 277.4 L233.6 276.7 L234.2 273.9 L234.9 276.8 L235.5 273.7 L236.1 275.2 L236.7 278.3 L237.4 275.7 L238.0 275.5 L238.6 274.5 L239.2 273.0 L239.8 271.8 L240.5 270.7 L241.1 273.2 L241.7 267.1 L242.3 273.7 L243.0 269.2 L243.6 266.2 L244.2 266.3 L244.8 265.0 L245.5 266.8 L246.1 263.5 L246.7 268.3 L247.3 261.8 L248.0 256.6 L248.6 260.4 L249.2 255.8 L249.8 260.9 L250.5 263.5 L251.1 261.4 L251.7 254.7 L252.3 255.6 L253.0 262.4 L253.6 257.3 L254.2 255.5 L254.8 257.9 L255.5 261.3 L256.1 257.1 L256.7 252.9 L257.3 252.8 L258.0 252.8 L258.6 248.4 L259.2 246.3 L259.8 248.8 L260.5 245.1 L261.1 246.9 L261.7 246.7 L262.3 252.7 L263.0 242.4 L263.6 243.9 L264.2 243.1 L264.8 244.3 L265.5 245.5 L266.1 240.3 L266.7 238.8 L267.3 235.8 L268.0 237.4 L268.6 241.3 L269.2 239.3 L269.8 235.6 L270.5 237.1 L271.1 237.8 L271.7 238.6 L272.3 234.7 L272.9 235.1 L273.6 229.8 L274.2 231.3 L274.8 239.2 L275.4 227.5 L276.1 233.0 L276.7 234.7 L277.3 233.0 L277.9 231.9 L278.6 234.4 L279.2 234.8 L279.8 235.0 L280.4 230.3 L281.1 236.6 L281.7 235.7 L282.3 237.9 L282.9 241.6 L283.6 244.1 L284.2 246.3 L284.8 243.5 L285.4 249.3 L286.1 251.7 L286.7 253.1 L287.3 255.5 L287.9 252.5 L288.6 254.2 L289.2 258.9 L289.8 254.1 L290.4 260.6 L291.1 260.0 L291.7 262.1 L292.3 259.5 L292.9 263.6 L293.6 267.7 L294.2 271.8 L294.8 273.5 L295.4 271.7 L296.1 272.6 L296.7 271.9 L297.3 276.8 L297.9 275.9 L298.6 279.5 L299.2 284.0 L299.8 279.6 L300.4 276.2 L301.1 279.0 L301.7 278.1 L302.3 279.8 L302.9 288.1 L303.6 285.7 L304.2 281.2 L304.8 288.6 L305.4 291.2 L306.1 287.1 L306.7 286.9 L307.3 288.6 L307.9 291.2 L308.5 292.9 L309.2 295.1 L309.8 295.8 L310.4 296.2 L311.0 297.1 L311.7 295.4 L312.3 289.2 L312.9 293.7 L313.5 295.4 L314.2 293.6 L314.8 297.8 L315.4 294.3 L316.0 292.9 L316.7 300.3 L317.3 298.2 L317.9 297.1 L318.5 299.5 L319.2 300.1 L319.8 298.1 L320.4 289.9 L321.0 295.5 L321.7 296.3 L322.3 294.9 L322.9 298.6 L323.5 301.7 L324.2 296.8 L324.8 295.0 L325.4 304.6 L326.0 297.3 L326.7 295.1 L327.3 299.6 L327.9 300.3 L328.5 297.0 L329.2 301.6 L329.8 297.9 L330.4 296.7 L331.0 300.1 L331.7 301.9 L332.3 297.8 L332.9 300.8 L333.5 299.6 L334.2 308.1 L334.8 298.0 L335.4 304.3 L336.0 300.1 L336.7 300.0 L337.3 302.6 L337.9 303.2 L338.5 304.4 L339.2 301.6 L339.8 298.9 L340.4 299.2 L341.0 302.4 L341.6 302.7 L342.3 305.2 L342.9 302.3 L343.5 304.3 L344.1 305.8 L344.8 301.8 L345.4 296.9 L346.0 297.9 L346.6 297.2 L347.3 306.4 L347.9 299.2 L348.5 305.5 L349.1 303.6 L349.8 307.1 L350.4 305.1 L351.0 301.8 L351.6 301.6 L352.3 302.6 L352.9 303.0 L353.5 300.9 L354.1 302.5 L354.8 307.6 L355.4 297.7 L356.0 303.7 L356.6 300.3 L357.3 303.7 L357.9 305.8 L358.5 303.2 L359.1 305.8 L359.8 298.8 L360.4 307.1 L361.0 302.0 L361.6 305.8 L362.3 304.6 L362.9 296.4 L363.5 302.0 L364.1 305.0 L364.8 309.1 L365.4 305.5 L366.0 305.5 L366.6 300.6 L367.3 309.2 L367.9 310.4 L368.5 305.2 L369.1 304.5 L369.8 300.4 L370.4 308.0 L371.0 313.5 L371.6 307.6 L372.3 309.3 L372.9 307.2 L373.5 302.7 L374.1 309.7 L374.7 302.1 L375.4 305.2 L376.0 306.7 L376.6 308.6 L377.2 307.2 L377.9 307.1 L378.5 303.7 L379.1 302.1 L379.7 306.2 L380.4 303.9 L381.0 302.1 L381.6 302.2 L382.2 304.5 L382.9 300.4 L383.5 301.9 L384.1 301.0 L384.7 306.5 L385.4 307.1 L386.0 311.9 L386.6 301.3 L387.2 303.8 L387.9 308.5 L388.5 305.1 L389.1 304.7 L389.7 310.8 L390.4 304.6 L391.0 302.1 L391.6 301.6 L392.2 306.5 L392.9 306.3 L393.5 301.2 L394.1 302.3 L394.7 306.8 L395.4 306.9 L396.0 303.2 L396.6 306.9 L397.2 306.7 L397.9 299.6 L398.5 303.9 L399.1 306.0 L399.7 303.0 L400.4 298.2 L401.0 303.7 L401.6 306.7 L402.2 309.2 L402.9 297.8 L403.5 312.1 L404.1 300.8 L404.7 307.0 L405.4 307.7 L406.0 306.9 L406.6 304.3 L407.2 300.3 L407.8 305.6 L408.5 301.5 L409.1 295.9 L409.7 311.5 L410.3 305.5 L411.0 308.7 L411.6 300.4 L412.2 307.5 L412.8 307.8 L413.5 307.6 L414.1 302.8 L414.7 299.1 L415.3 302.1 L416.0 295.9 L416.6 297.4 L417.2 302.7 L417.8 299.3 L418.5 301.7 L419.1 301.8 L419.7 307.8 L420.3 305.8 L421.0 301.7 L421.6 305.4 L422.2 299.3 L422.8 300.6 L423.5 304.2 L424.1 297.6 L424.7 300.4 L425.3 297.1 L426.0 301.3 L426.6 305.8 L427.2 298.5 L427.8 301.3 L428.5 297.8 L429.1 296.9 L429.7 296.5 L430.3 304.4 L431.0 307.0 L431.6 301.2 L432.2 297.5 L432.8 301.6 L433.5 298.3 L434.1 301.6 L434.7 299.9 L435.3 299.7 L436.0 300.6 L436.6 296.9 L437.2 297.3 L437.8 293.2 L438.5 296.9 L439.1 293.8 L439.7 297.5 L440.3 294.9 L440.9 297.9 L441.6 298.9 L442.2 293.1 L442.8 294.8 L443.4 294.3 L444.1 299.2 L444.7 302.0 L445.3 299.3 L445.9 295.6 L446.6 300.9 L447.2 291.9 L447.8 300.8 L448.4 294.3 L449.1 288.0 L449.7 304.0 L450.3 300.7 L450.9 292.8 L451.6 296.3 L452.2 295.1 L452.8 295.9 L453.4 291.1 L454.1 293.4 L454.7 296.8 L455.3 295.9 L455.9 298.8 L456.6 295.3 L457.2 302.1 L457.8 292.8 L458.4 295.6 L459.1 289.0 L459.7 291.0 L460.3 298.6 L460.9 291.7 L461.6 296.1 L462.2 294.2 L462.8 291.2 L463.4 293.3 L464.1 292.7 L464.7 292.8 L465.3 296.4 L465.9 296.1 L466.6 292.4 L467.2 291.3 L467.8 294.9 L468.4 293.7 L469.1 297.1 L469.7 302.0 L470.3 296.5 L470.9 293.9 L471.6 293.5 L472.2 291.5 L472.8 291.3 L473.4 291.1 L474.0 292.9 L474.7 292.9 L475.3 296.4 L475.9 293.0 L476.5 293.7 L477.2 290.7 L477.8 299.3 L478.4 296.0 L479.0 299.9 L479.7 297.0 L480.3 299.1 L480.9 294.0 L481.5 296.9 L482.2 303.0 L482.8 291.3 L483.4 298.6 L484.0 300.2 L484.7 296.5 L485.3 297.6 L485.9 299.2 L486.5 293.5 L487.2 296.8 L487.8 293.0 L488.4 293.7 L489.0 294.0 L489.7 295.5 L490.3 296.5 L490.9 297.6 L491.5 292.0 L492.2 302.5 L492.8 300.2 L493.4 299.1 L494.0 295.9 L494.7 297.0 L495.3 299.2 L495.9 299.0 L496.5 292.8 L497.2 300.5 L497.8 306.6 L498.4 293.1 L499.0 302.1 L499.7 300.5 L500.3 299.3 L500.9 304.1 L501.5 296.5 L502.2 300.9 L502.8 305.2 L503.4 300.3 L504.0 299.9 L504.7 301.8 L505.3 300.3 L505.9 306.7 L506.5 299.3 L507.1 305.0 L507.8 298.6 L508.4 304.7 L509.0 302.5 L509.6 295.0 L510.3 303.0 L510.9 299.9 L511.5 301.9 L512.1 308.1 L512.8 300.0 L513.4 300.3 L514.0 308.1 L514.6 304.1 L515.3 308.6 L515.9 304.9 L516.5 301.3 L517.1 303.9 L517.8 308.0 L518.4 307.2 L519.0 304.4 L519.6 304.6 L520.3 304.2 L520.9 302.9 L521.5 310.7 L522.1 304.8 L522.8 301.4 L523.4 303.5 L524.0 307.3 L524.6 307.1 L525.3 304.8 L525.9 303.2 L526.5 305.4 L527.1 300.2 L527.8 301.4 L528.4 308.0 L529.0 304.1 L529.6 306.8 L530.3 309.4 L530.9 307.7 L531.5 305.8 L532.1 312.3 L532.8 307.9 L533.4 304.8 L534.0 308.1 L534.6 307.2 L535.3 303.3 L535.9 306.2 L536.5 305.5 L537.1 299.9 L537.8 305.5 L538.4 305.1 L539.0 304.6" fill="none" stroke="#b0b67c" stroke-width="0.7"/>
<path d="M38.5 278.6a1.45 1.45 0 1 0 2.9 0a1.45 1.45 0 1 0 -2.9 0zM39.2 276.1a1.45 1.45 0 1 0 2.9 0a1.45 1.45 0 1 0 -2.9 0zM39.8 278.5a1.45 1.45 0 1 0 2.9 0a1.45 1.45 0 1 0 -2.9 0zM40.4 278.1a1.45 1.45 0 1 0 2.9 0a1.45 1.45 0 1 0 -2.9 0zM41.0 280.6a1.45 1.45 0 1 0 2.9 0a1.45 1.45 0 1 0 -2.9 0zM41.7 278.9a1.45 1.45 0 1 0 2.9 0a1.45 1.45 0 1 0 -2.9 0zM42.3 283.9a1.45 1.45 0 1 0 2.9 0a1.45 1.45 0 1 0 -2.9 0zM42.9 281.4a1.45 1.45 0 1 0 2.9 0a1.45 1.45 0 1 0 -2.9 0zM43.5 281.7a1.45 1.45 0 1 0 2.9 0a1.45 1.45 0 1 0 -2.9 0zM44.2 282.3a1.45 1.45 0 1 0 2.9 0a1.45 1.45 0 1 0 -2.9 0zM44.8 275.8a1.45 1.45 0 1 0 2.9 0a1.45 1.45 0 1 0 -2.9 0zM45.4 281.1a1.45 1.45 0 1 0 2.9 0a1.45 1.45 0 1 0 -2.9 0zM46.0 281.2a1.45 1.45 0 1 0 2.9 0a1.45 1.45 0 1 0 -2.9 0zM46.7 283.4a1.45 1.45 0 1 0 2.9 0a1.45 1.45 0 1 0 -2.9 0zM47.3 278.0a1.45 1.45 0 1 0 2.9 0a1.45 1.45 0 1 0 -2.9 0zM47.9 289.7a1.45 1.45 0 1 0 2.9 0a1.45 1.45 0 1 0 -2.9 0zM48.5 284.4a1.45 1.45 0 1 0 2.9 0a1.45 1.45 0 1 0 -2.9 0zM49.2 279.9a1.45 1.45 0 1 0 2.9 0a1.45 1.45 0 1 0 -2.9 0zM49.8 278.4a1.45 1.45 0 1 0 2.9 0a1.45 1.45 0 1 0 -2.9 0zM50.4 284.2a1.45 1.45 0 1 0 2.9 0a1.45 1.45 0 1 0 -2.9 0zM51.0 285.3a1.45 1.45 0 1 0 2.9 0a1.45 1.45 0 1 0 -2.9 0zM51.7 283.3a1.45 1.45 0 1 0 2.9 0a1.45 1.45 0 1 0 -2.9 0zM52.3 286.7a1.45 1.45 0 1 0 2.9 0a1.45 1.45 0 1 0 -2.9 0zM52.9 284.3a1.45 1.45 0 1 0 2.9 0a1.45 1.45 0 1 0 -2.9 0zM53.5 289.1a1.45 1.45 0 1 0 2.9 0a1.45 1.45 0 1 0 -2.9 0zM54.2 284.7a1.45 1.45 0 1 0 2.9 0a1.45 1.45 0 1 0 -2.9 0zM54.8 287.6a1.45 1.45 0 1 0 2.9 0a1.45 1.45 0 1 0 -2.9 0zM55.4 291.8a1.45 1.45 0 1 0 2.9 0a1.45 1.45 0 1 0 -2.9 0zM56.0 298.1a1.45 1.45 0 1 0 2.9 0a1.45 1.45 0 1 0 -2.9 0zM56.7 285.0a1.45 1.45 0 1 0 2.9 0a1.45 1.45 0 1 0 -2.9 0zM57.3 287.3a1.45 1.45 0 1 0 2.9 0a1.45 1.45 0 1 0 -2.9 0zM57.9 286.3a1.45 1.45 0 1 0 2.9 0a1.45 1.45 0 1 0 -2.9 0zM58.5 292.7a1.45 1.45 0 1 0 2.9 0a1.45 1.45 0 1 0 -2.9 0zM59.2 285.7a1.45 1.45 0 1 0 2.9 0a1.45 1.45 0 1 0 -2.9 0zM59.8 288.6a1.45 1.45 0 1 0 2.9 0a1.45 1.45 0 1 0 -2.9 0zM60.4 290.6a1.45 1.45 0 1 0 2.9 0a1.45 1.45 0 1 0 -2.9 0zM61.0 287.4a1.45 1.45 0 1 0 2.9 0a1.45 1.45 0 1 0 -2.9 0zM61.7 287.8a1.45 1.45 0 1 0 2.9 0a1.45 1.45 0 1 0 -2.9 0zM62.3 289.9a1.45 1.45 0 1 0 2.9 0a1.45 1.45 0 1 0 -2.9 0zM62.9 284.2a1.45 1.45 0 1 0 2.9 0a1.45 1.45 0 1 0 -2.9 0zM63.5 287.0a1.45 1.45 0 1 0 2.9 0a1.45 1.45 0 1 0 -2.9 0zM64.2 291.2a1.45 1.45 0 1 0 2.9 0a1.45 1.45 0 1 0 -2.9 0zM64.8 293.6a1.45 1.45 0 1 0 2.9 0a1.45 1.45 0 1 0 -2.9 0zM65.4 292.7a1.45 1.45 0 1 0 2.9 0a1.45 1.45 0 1 0 -2.9 0zM66.0 287.0a1.45 1.45 0 1 0 2.9 0a1.45 1.45 0 1 0 -2.9 0zM66.7 292.3a1.45 1.45 0 1 0 2.9 0a1.45 1.45 0 1 0 -2.9 0zM67.3 297.3a1.45 1.45 0 1 0 2.9 0a1.45 1.45 0 1 0 -2.9 0zM67.9 296.8a1.45 1.45 0 1 0 2.9 0a1.45 1.45 0 1 0 -2.9 0zM68.5 294.7a1.45 1.45 0 1 0 2.9 0a1.45 1.45 0 1 0 -2.9 0zM69.2 292.0a1.45 1.45 0 1 0 2.9 0a1.45 1.45 0 1 0 -2.9 0zM69.8 298.0a1.45 1.45 0 1 0 2.9 0a1.45 1.45 0 1 0 -2.9 0zM70.4 293.9a1.45 1.45 0 1 0 2.9 0a1.45 1.45 0 1 0 -2.9 0zM71.0 292.0a1.45 1.45 0 1 0 2.9 0a1.45 1.45 0 1 0 -2.9 0zM71.7 293.7a1.45 1.45 0 1 0 2.9 0a1.45 1.45 0 1 0 -2.9 0zM72.3 302.6a1.45 1.45 0 1 0 2.9 0a1.45 1.45 0 1 0 -2.9 0zM72.9 298.3a1.45 1.45 0 1 0 2.9 0a1.45 1.45 0 1 0 -2.9 0zM73.5 302.2a1.45 1.45 0 1 0 2.9 0a1.45 1.45 0 1 0 -2.9 0zM74.1 296.5a1.45 1.45 0 1 0 2.9 0a1.45 1.45 0 1 0 -2.9 0zM74.8 302.2a1.45 1.45 0 1 0 2.9 0a1.45 1.45 0 1 0 -2.9 0zM75.4 296.8a1.45 1.45 0 1 0 2.9 0a1.45 1.45 0 1 0 -2.9 0zM76.0 298.9a1.45 1.45 0 1 0 2.9 0a1.45 1.45 0 1 0 -2.9 0zM76.6 309.2a1.45 1.45 0 1 0 2.9 0a1.45 1.45 0 1 0 -2.9 0zM77.3 303.1a1.45 1.45 0 1 0 2.9 0a1.45 1.45 0 1 0 -2.9 0zM77.9 298.8a1.45 1.45 0 1 0 2.9 0a1.45 1.45 0 1 0 -2.9 0zM78.5 300.7a1.45 1.45 0 1 0 2.9 0a1.45 1.45 0 1 0 -2.9 0zM79.1 302.6a1.45 1.45 0 1 0 2.9 0a1.45 1.45 0 1 0 -2.9 0zM79.8 306.3a1.45 1.45 0 1 0 2.9 0a1.45 1.45 0 1 0 -2.9 0zM80.4 300.3a1.45 1.45 0 1 0 2.9 0a1.45 1.45 0 1 0 -2.9 0zM81.0 296.0a1.45 1.45 0 1 0 2.9 0a1.45 1.45 0 1 0 -2.9 0zM81.6 301.8a1.45 1.45 0 1 0 2.9 0a1.45 1.45 0 1 0 -2.9 0zM82.3 303.2a1.45 1.45 0 1 0 2.9 0a1.45 1.45 0 1 0 -2.9 0zM82.9 303.9a1.45 1.45 0 1 0 2.9 0a1.45 1.45 0 1 0 -2.9 0zM83.5 308.7a1.45 1.45 0 1 0 2.9 0a1.45 1.45 0 1 0 -2.9 0zM84.1 305.3a1.45 1.45 0 1 0 2.9 0a1.45 1.45 0 1 0 -2.9 0zM84.8 307.4a1.45 1.45 0 1 0 2.9 0a1.45 1.45 0 1 0 -2.9 0zM85.4 300.5a1.45 1.45 0 1 0 2.9 0a1.45 1.45 0 1 0 -2.9 0zM86.0 308.2a1.45 1.45 0 1 0 2.9 0a1.45 1.45 0 1 0 -2.9 0zM86.6 313.1a1.45 1.45 0 1 0 2.9 0a1.45 1.45 0 1 0 -2.9 0zM87.3 308.4a1.45 1.45 0 1 0 2.9 0a1.45 1.45 0 1 0 -2.9 0zM87.9 306.8a1.45 1.45 0 1 0 2.9 0a1.45 1.45 0 1 0 -2.9 0zM88.5 306.7a1.45 1.45 0 1 0 2.9 0a1.45 1.45 0 1 0 -2.9 0zM89.1 313.1a1.45 1.45 0 1 0 2.9 0a1.45 1.45 0 1 0 -2.9 0zM89.8 303.2a1.45 1.45 0 1 0 2.9 0a1.45 1.45 0 1 0 -2.9 0zM90.4 306.5a1.45 1.45 0 1 0 2.9 0a1.45 1.45 0 1 0 -2.9 0zM91.0 308.9a1.45 1.45 0 1 0 2.9 0a1.45 1.45 0 1 0 -2.9 0zM91.6 310.2a1.45 1.45 0 1 0 2.9 0a1.45 1.45 0 1 0 -2.9 0zM92.3 306.0a1.45 1.45 0 1 0 2.9 0a1.45 1.45 0 1 0 -2.9 0zM92.9 309.0a1.45 1.45 0 1 0 2.9 0a1.45 1.45 0 1 0 -2.9 0zM93.5 307.1a1.45 1.45 0 1 0 2.9 0a1.45 1.45 0 1 0 -2.9 0zM94.1 308.7a1.45 1.45 0 1 0 2.9 0a1.45 1.45 0 1 0 -2.9 0zM94.8 308.0a1.45 1.45 0 1 0 2.9 0a1.45 1.45 0 1 0 -2.9 0zM95.4 304.3a1.45 1.45 0 1 0 2.9 0a1.45 1.45 0 1 0 -2.9 0zM96.0 308.7a1.45 1.45 0 1 0 2.9 0a1.45 1.45 0 1 0 -2.9 0zM96.6 312.2a1.45 1.45 0 1 0 2.9 0a1.45 1.45 0 1 0 -2.9 0zM97.3 305.3a1.45 1.45 0 1 0 2.9 0a1.45 1.45 0 1 0 -2.9 0zM97.9 308.1a1.45 1.45 0 1 0 2.9 0a1.45 1.45 0 1 0 -2.9 0zM98.5 311.6a1.45 1.45 0 1 0 2.9 0a1.45 1.45 0 1 0 -2.9 0zM99.1 305.1a1.45 1.45 0 1 0 2.9 0a1.45 1.45 0 1 0 -2.9 0zM99.8 309.9a1.45 1.45 0 1 0 2.9 0a1.45 1.45 0 1 0 -2.9 0zM100.4 305.3a1.45 1.45 0 1 0 2.9 0a1.45 1.45 0 1 0 -2.9 0zM101.0 313.6a1.45 1.45 0 1 0 2.9 0a1.45 1.45 0 1 0 -2.9 0zM101.6 318.0a1.45 1.45 0 1 0 2.9 0a1.45 1.45 0 1 0 -2.9 0zM102.3 317.0a1.45 1.45 0 1 0 2.9 0a1.45 1.45 0 1 0 -2.9 0zM102.9 308.6a1.45 1.45 0 1 0 2.9 0a1.45 1.45 0 1 0 -2.9 0zM103.5 312.3a1.45 1.45 0 1 0 2.9 0a1.45 1.45 0 1 0 -2.9 0zM104.1 310.0a1.45 1.45 0 1 0 2.9 0a1.45 1.45 0 1 0 -2.9 0zM104.8 309.9a1.45 1.45 0 1 0 2.9 0a1.45 1.45 0 1 0 -2.9 0zM105.4 315.4a1.45 1.45 0 1 0 2.9 0a1.45 1.45 0 1 0 -2.9 0zM106.0 304.7a1.45 1.45 0 1 0 2.9 0a1.45 1.45 0 1 0 -2.9 0zM106.6 313.6a1.45 1.45 0 1 0 2.9 0a1.45 1.45 0 1 0 -2.9 0zM107.2 309.5a1.45 1.45 0 1 0 2.9 0a1.45 1.45 0 1 0 -2.9 0zM107.9 315.0a1.45 1.45 0 1 0 2.9 0a1.45 1.45 0 1 0 -2.9 0zM108.5 310.5a1.45 1.45 0 1 0 2.9 0a1.45 1.45 0 1 0 -2.9 0zM109.1 307.8a1.45 1.45 0 1 0 2.9 0a1.45 1.45 0 1 0 -2.9 0zM109.7 310.6a1.45 1.45 0 1 0 2.9 0a1.45 1.45 0 1 0 -2.9 0zM110.4 312.0a1.45 1.45 0 1 0 2.9 0a1.45 1.45 0 1 0 -2.9 0zM111.0 310.0a1.45 1.45 0 1 0 2.9 0a1.45 1.45 0 1 0 -2.9 0zM111.6 311.4a1.45 1.45 0 1 0 2.9 0a1.45 1.45 0 1 0 -2.9 0zM112.2 308.4a1.45 1.45 0 1 0 2.9 0a1.45 1.45 0 1 0 -2.9 0zM112.9 303.6a1.45 1.45 0 1 0 2.9 0a1.45 1.45 0 1 0 -2.9 0zM113.5 312.7a1.45 1.45 0 1 0 2.9 0a1.45 1.45 0 1 0 -2.9 0zM114.1 312.1a1.45 1.45 0 1 0 2.9 0a1.45 1.45 0 1 0 -2.9 0zM114.7 310.5a1.45 1.45 0 1 0 2.9 0a1.45 1.45 0 1 0 -2.9 0zM115.4 310.3a1.45 1.45 0 1 0 2.9 0a1.45 1.45 0 1 0 -2.9 0zM116.0 313.3a1.45 1.45 0 1 0 2.9 0a1.45 1.45 0 1 0 -2.9 0zM116.6 308.8a1.45 1.45 0 1 0 2.9 0a1.45 1.45 0 1 0 -2.9 0zM117.2 308.1a1.45 1.45 0 1 0 2.9 0a1.45 1.45 0 1 0 -2.9 0zM117.9 309.7a1.45 1.45 0 1 0 2.9 0a1.45 1.45 0 1 0 -2.9 0zM118.5 313.9a1.45 1.45 0 1 0 2.9 0a1.45 1.45 0 1 0 -2.9 0zM119.1 306.2a1.45 1.45 0 1 0 2.9 0a1.45 1.45 0 1 0 -2.9 0zM119.7 314.0a1.45 1.45 0 1 0 2.9 0a1.45 1.45 0 1 0 -2.9 0zM120.4 308.5a1.45 1.45 0 1 0 2.9 0a1.45 1.45 0 1 0 -2.9 0zM121.0 307.2a1.45 1.45 0 1 0 2.9 0a1.45 1.45 0 1 0 -2.9 0zM121.6 314.3a1.45 1.45 0 1 0 2.9 0a1.45 1.45 0 1 0 -2.9 0zM122.2 310.3a1.45 1.45 0 1 0 2.9 0a1.45 1.45 0 1 0 -2.9 0zM122.9 306.7a1.45 1.45 0 1 0 2.9 0a1.45 1.45 0 1 0 -2.9 0zM123.5 309.6a1.45 1.45 0 1 0 2.9 0a1.45 1.45 0 1 0 -2.9 0zM124.1 313.5a1.45 1.45 0 1 0 2.9 0a1.45 1.45 0 1 0 -2.9 0zM124.7 314.3a1.45 1.45 0 1 0 2.9 0a1.45 1.45 0 1 0 -2.9 0zM125.4 309.5a1.45 1.45 0 1 0 2.9 0a1.45 1.45 0 1 0 -2.9 0zM126.0 312.0a1.45 1.45 0 1 0 2.9 0a1.45 1.45 0 1 0 -2.9 0zM126.6 313.0a1.45 1.45 0 1 0 2.9 0a1.45 1.45 0 1 0 -2.9 0zM127.2 308.9a1.45 1.45 0 1 0 2.9 0a1.45 1.45 0 1 0 -2.9 0zM127.9 311.9a1.45 1.45 0 1 0 2.9 0a1.45 1.45 0 1 0 -2.9 0zM128.5 310.8a1.45 1.45 0 1 0 2.9 0a1.45 1.45 0 1 0 -2.9 0zM129.1 309.3a1.45 1.45 0 1 0 2.9 0a1.45 1.45 0 1 0 -2.9 0zM129.7 309.5a1.45 1.45 0 1 0 2.9 0a1.45 1.45 0 1 0 -2.9 0zM130.4 311.2a1.45 1.45 0 1 0 2.9 0a1.45 1.45 0 1 0 -2.9 0zM131.0 311.1a1.45 1.45 0 1 0 2.9 0a1.45 1.45 0 1 0 -2.9 0zM131.6 309.3a1.45 1.45 0 1 0 2.9 0a1.45 1.45 0 1 0 -2.9 0zM132.2 309.7a1.45 1.45 0 1 0 2.9 0a1.45 1.45 0 1 0 -2.9 0zM132.9 314.3a1.45 1.45 0 1 0 2.9 0a1.45 1.45 0 1 0 -2.9 0zM133.5 311.6a1.45 1.45 0 1 0 2.9 0a1.45 1.45 0 1 0 -2.9 0zM134.1 313.7a1.45 1.45 0 1 0 2.9 0a1.45 1.45 0 1 0 -2.9 0zM134.7 314.6a1.45 1.45 0 1 0 2.9 0a1.45 1.45 0 1 0 -2.9 0zM135.4 312.7a1.45 1.45 0 1 0 2.9 0a1.45 1.45 0 1 0 -2.9 0zM136.0 317.7a1.45 1.45 0 1 0 2.9 0a1.45 1.45 0 1 0 -2.9 0zM136.6 308.4a1.45 1.45 0 1 0 2.9 0a1.45 1.45 0 1 0 -2.9 0zM137.2 313.2a1.45 1.45 0 1 0 2.9 0a1.45 1.45 0 1 0 -2.9 0zM137.9 309.8a1.45 1.45 0 1 0 2.9 0a1.45 1.45 0 1 0 -2.9 0zM138.5 316.2a1.45 1.45 0 1 0 2.9 0a1.45 1.45 0 1 0 -2.9 0zM139.1 315.7a1.45 1.45 0 1 0 2.9 0a1.45 1.45 0 1 0 -2.9 0zM139.7 304.7a1.45 1.45 0 1 0 2.9 0a1.45 1.45 0 1 0 -2.9 0zM140.3 307.5a1.45 1.45 0 1 0 2.9 0a1.45 1.45 0 1 0 -2.9 0zM141.0 312.3a1.45 1.45 0 1 0 2.9 0a1.45 1.45 0 1 0 -2.9 0zM141.6 312.6a1.45 1.45 0 1 0 2.9 0a1.45 1.45 0 1 0 -2.9 0zM142.2 312.3a1.45 1.45 0 1 0 2.9 0a1.45 1.45 0 1 0 -2.9 0zM142.8 309.8a1.45 1.45 0 1 0 2.9 0a1.45 1.45 0 1 0 -2.9 0zM143.5 311.3a1.45 1.45 0 1 0 2.9 0a1.45 1.45 0 1 0 -2.9 0zM144.1 311.8a1.45 1.45 0 1 0 2.9 0a1.45 1.45 0 1 0 -2.9 0zM144.7 309.5a1.45 1.45 0 1 0 2.9 0a1.45 1.45 0 1 0 -2.9 0zM145.3 312.7a1.45 1.45 0 1 0 2.9 0a1.45 1.45 0 1 0 -2.9 0zM146.0 302.7a1.45 1.45 0 1 0 2.9 0a1.45 1.45 0 1 0 -2.9 0zM146.6 311.2a1.45 1.45 0 1 0 2.9 0a1.45 1.45 0 1 0 -2.9 0zM147.2 306.1a1.45 1.45 0 1 0 2.9 0a1.45 1.45 0 1 0 -2.9 0zM147.8 312.0a1.45 1.45 0 1 0 2.9 0a1.45 1.45 0 1 0 -2.9 0zM148.5 308.3a1.45 1.45 0 1 0 2.9 0a1.45 1.45 0 1 0 -2.9 0zM149.1 306.2a1.45 1.45 0 1 0 2.9 0a1.45 1.45 0 1 0 -2.9 0zM149.7 309.9a1.45 1.45 0 1 0 2.9 0a1.45 1.45 0 1 0 -2.9 0zM150.3 305.9a1.45 1.45 0 1 0 2.9 0a1.45 1.45 0 1 0 -2.9 0zM151.0 305.8a1.45 1.45 0 1 0 2.9 0a1.45 1.45 0 1 0 -2.9 0zM151.6 303.7a1.45 1.45 0 1 0 2.9 0a1.45 1.45 0 1 0 -2.9 0zM152.2 308.2a1.45 1.45 0 1 0 2.9 0a1.45 1.45 0 1 0 -2.9 0zM152.8 309.6a1.45 1.45 0 1 0 2.9 0a1.45 1.45 0 1 0 -2.9 0zM153.5 311.1a1.45 1.45 0 1 0 2.9 0a1.45 1.45 0 1 0 -2.9 0zM154.1 307.4a1.45 1.45 0 1 0 2.9 0a1.45 1.45 0 1 0 -2.9 0zM154.7 310.8a1.45 1.45 0 1 0 2.9 0a1.45 1.45 0 1 0 -2.9 0zM155.3 307.6a1.45 1.45 0 1 0 2.9 0a1.45 1.45 0 1 0 -2.9 0zM156.0 307.1a1.45 1.45 0 1 0 2.9 0a1.45 1.45 0 1 0 -2.9 0zM156.6 308.9a1.45 1.45 0 1 0 2.9 0a1.45 1.45 0 1 0 -2.9 0zM157.2 310.2a1.45 1.45 0 1 0 2.9 0a1.45 1.45 0 1 0 -2.9 0zM157.8 305.9a1.45 1.45 0 1 0 2.9 0a1.45 1.45 0 1 0 -2.9 0zM158.5 306.0a1.45 1.45 0 1 0 2.9 0a1.45 1.45 0 1 0 -2.9 0zM159.1 306.1a1.45 1.45 0 1 0 2.9 0a1.45 1.45 0 1 0 -2.9 0zM159.7 306.6a1.45 1.45 0 1 0 2.9 0a1.45 1.45 0 1 0 -2.9 0zM160.3 303.5a1.45 1.45 0 1 0 2.9 0a1.45 1.45 0 1 0 -2.9 0zM161.0 309.1a1.45 1.45 0 1 0 2.9 0a1.45 1.45 0 1 0 -2.9 0zM161.6 304.7a1.45 1.45 0 1 0 2.9 0a1.45 1.45 0 1 0 -2.9 0zM162.2 307.1a1.45 1.45 0 1 0 2.9 0a1.45 1.45 0 1 0 -2.9 0zM162.8 303.0a1.45 1.45 0 1 0 2.9 0a1.45 1.45 0 1 0 -2.9 0zM163.5 306.4a1.45 1.45 0 1 0 2.9 0a1.45 1.45 0 1 0 -2.9 0zM164.1 306.3a1.45 1.45 0 1 0 2.9 0a1.45 1.45 0 1 0 -2.9 0zM164.7 303.7a1.45 1.45 0 1 0 2.9 0a1.45 1.45 0 1 0 -2.9 0zM165.3 310.9a1.45 1.45 0 1 0 2.9 0a1.45 1.45 0 1 0 -2.9 0zM166.0 305.8a1.45 1.45 0 1 0 2.9 0a1.45 1.45 0 1 0 -2.9 0zM166.6 309.8a1.45 1.45 0 1 0 2.9 0a1.45 1.45 0 1 0 -2.9 0zM167.2 307.2a1.45 1.45 0 1 0 2.9 0a1.45 1.45 0 1 0 -2.9 0zM167.8 302.2a1.45 1.45 0 1 0 2.9 0a1.45 1.45 0 1 0 -2.9 0zM168.5 302.9a1.45 1.45 0 1 0 2.9 0a1.45 1.45 0 1 0 -2.9 0zM169.1 305.2a1.45 1.45 0 1 0 2.9 0a1.45 1.45 0 1 0 -2.9 0zM169.7 303.9a1.45 1.45 0 1 0 2.9 0a1.45 1.45 0 1 0 -2.9 0zM170.3 303.7a1.45 1.45 0 1 0 2.9 0a1.45 1.45 0 1 0 -2.9 0zM171.0 302.6a1.45 1.45 0 1 0 2.9 0a1.45 1.45 0 1 0 -2.9 0zM171.6 297.9a1.45 1.45 0 1 0 2.9 0a1.45 1.45 0 1 0 -2.9 0zM172.2 302.5a1.45 1.45 0 1 0 2.9 0a1.45 1.45 0 1 0 -2.9 0zM172.8 296.3a1.45 1.45 0 1 0 2.9 0a1.45 1.45 0 1 0 -2.9 0zM173.4 304.0a1.45 1.45 0 1 0 2.9 0a1.45 1.45 0 1 0 -2.9 0zM174.1 300.5a1.45 1.45 0 1 0 2.9 0a1.45 1.45 0 1 0 -2.9 0zM174.7 300.4a1.45 1.45 0 1 0 2.9 0a1.45 1.45 0 1 0 -2.9 0zM175.3 301.8a1.45 1.45 0 1 0 2.9 0a1.45 1.45 0 1 0 -2.9 0zM175.9 303.1a1.45 1.45 0 1 0 2.9 0a1.45 1.45 0 1 0 -2.9 0zM176.6 297.9a1.45 1.45 0 1 0 2.9 0a1.45 1.45 0 1 0 -2.9 0zM177.2 296.8a1.45 1.45 0 1 0 2.9 0a1.45 1.45 0 1 0 -2.9 0zM177.8 298.7a1.45 1.45 0 1 0 2.9 0a1.45 1.45 0 1 0 -2.9 0zM178.4 295.6a1.45 1.45 0 1 0 2.9 0a1.45 1.45 0 1 0 -2.9 0zM179.1 298.7a1.45 1.45 0 1 0 2.9 0a1.45 1.45 0 1 0 -2.9 0zM179.7 306.2a1.45 1.45 0 1 0 2.9 0a1.45 1.45 0 1 0 -2.9 0zM180.3 298.2a1.45 1.45 0 1 0 2.9 0a1.45 1.45 0 1 0 -2.9 0zM180.9 303.2a1.45 1.45 0 1 0 2.9 0a1.45 1.45 0 1 0 -2.9 0zM181.6 296.9a1.45 1.45 0 1 0 2.9 0a1.45 1.45 0 1 0 -2.9 0zM182.2 301.8a1.45 1.45 0 1 0 2.9 0a1.45 1.45 0 1 0 -2.9 0zM182.8 299.8a1.45 1.45 0 1 0 2.9 0a1.45 1.45 0 1 0 -2.9 0zM183.4 300.5a1.45 1.45 0 1 0 2.9 0a1.45 1.45 0 1 0 -2.9 0zM184.1 302.2a1.45 1.45 0 1 0 2.9 0a1.45 1.45 0 1 0 -2.9 0zM184.7 305.6a1.45 1.45 0 1 0 2.9 0a1.45 1.45 0 1 0 -2.9 0zM185.3 300.8a1.45 1.45 0 1 0 2.9 0a1.45 1.45 0 1 0 -2.9 0zM185.9 300.4a1.45 1.45 0 1 0 2.9 0a1.45 1.45 0 1 0 -2.9 0zM186.6 297.0a1.45 1.45 0 1 0 2.9 0a1.45 1.45 0 1 0 -2.9 0zM187.2 301.5a1.45 1.45 0 1 0 2.9 0a1.45 1.45 0 1 0 -2.9 0zM187.8 298.8a1.45 1.45 0 1 0 2.9 0a1.45 1.45 0 1 0 -2.9 0zM188.4 301.9a1.45 1.45 0 1 0 2.9 0a1.45 1.45 0 1 0 -2.9 0zM189.1 299.1a1.45 1.45 0 1 0 2.9 0a1.45 1.45 0 1 0 -2.9 0zM189.7 304.3a1.45 1.45 0 1 0 2.9 0a1.45 1.45 0 1 0 -2.9 0zM190.3 293.0a1.45 1.45 0 1 0 2.9 0a1.45 1.45 0 1 0 -2.9 0zM190.9 297.9a1.45 1.45 0 1 0 2.9 0a1.45 1.45 0 1 0 -2.9 0zM191.6 301.2a1.45 1.45 0 1 0 2.9 0a1.45 1.45 0 1 0 -2.9 0zM192.2 297.3a1.45 1.45 0 1 0 2.9 0a1.45 1.45 0 1 0 -2.9 0zM192.8 295.8a1.45 1.45 0 1 0 2.9 0a1.45 1.45 0 1 0 -2.9 0zM193.4 297.2a1.45 1.45 0 1 0 2.9 0a1.45 1.45 0 1 0 -2.9 0zM194.1 293.7a1.45 1.45 0 1 0 2.9 0a1.45 1.45 0 1 0 -2.9 0zM194.7 298.0a1.45 1.45 0 1 0 2.9 0a1.45 1.45 0 1 0 -2.9 0zM195.3 304.8a1.45 1.45 0 1 0 2.9 0a1.45 1.45 0 1 0 -2.9 0zM195.9 300.7a1.45 1.45 0 1 0 2.9 0a1.45 1.45 0 1 0 -2.9 0zM196.6 293.7a1.45 1.45 0 1 0 2.9 0a1.45 1.45 0 1 0 -2.9 0zM197.2 294.2a1.45 1.45 0 1 0 2.9 0a1.45 1.45 0 1 0 -2.9 0zM197.8 295.3a1.45 1.45 0 1 0 2.9 0a1.45 1.45 0 1 0 -2.9 0zM198.4 299.3a1.45 1.45 0 1 0 2.9 0a1.45 1.45 0 1 0 -2.9 0zM199.1 293.6a1.45 1.45 0 1 0 2.9 0a1.45 1.45 0 1 0 -2.9 0zM199.7 293.8a1.45 1.45 0 1 0 2.9 0a1.45 1.45 0 1 0 -2.9 0zM200.3 298.3a1.45 1.45 0 1 0 2.9 0a1.45 1.45 0 1 0 -2.9 0zM200.9 297.9a1.45 1.45 0 1 0 2.9 0a1.45 1.45 0 1 0 -2.9 0zM201.6 294.0a1.45 1.45 0 1 0 2.9 0a1.45 1.45 0 1 0 -2.9 0zM202.2 291.5a1.45 1.45 0 1 0 2.9 0a1.45 1.45 0 1 0 -2.9 0zM202.8 290.0a1.45 1.45 0 1 0 2.9 0a1.45 1.45 0 1 0 -2.9 0zM203.4 292.3a1.45 1.45 0 1 0 2.9 0a1.45 1.45 0 1 0 -2.9 0zM204.1 287.4a1.45 1.45 0 1 0 2.9 0a1.45 1.45 0 1 0 -2.9 0zM204.7 296.1a1.45 1.45 0 1 0 2.9 0a1.45 1.45 0 1 0 -2.9 0zM205.3 291.7a1.45 1.45 0 1 0 2.9 0a1.45 1.45 0 1 0 -2.9 0zM205.9 294.8a1.45 1.45 0 1 0 2.9 0a1.45 1.45 0 1 0 -2.9 0zM206.5 298.7a1.45 1.45 0 1 0 2.9 0a1.45 1.45 0 1 0 -2.9 0zM207.2 296.4a1.45 1.45 0 1 0 2.9 0a1.45 1.45 0 1 0 -2.9 0zM207.8 289.2a1.45 1.45 0 1 0 2.9 0a1.45 1.45 0 1 0 -2.9 0zM208.4 295.0a1.45 1.45 0 1 0 2.9 0a1.45 1.45 0 1 0 -2.9 0zM209.0 295.6a1.45 1.45 0 1 0 2.9 0a1.45 1.45 0 1 0 -2.9 0zM209.7 289.7a1.45 1.45 0 1 0 2.9 0a1.45 1.45 0 1 0 -2.9 0zM210.3 288.8a1.45 1.45 0 1 0 2.9 0a1.45 1.45 0 1 0 -2.9 0zM210.9 291.1a1.45 1.45 0 1 0 2.9 0a1.45 1.45 0 1 0 -2.9 0zM211.5 286.4a1.45 1.45 0 1 0 2.9 0a1.45 1.45 0 1 0 -2.9 0zM212.2 295.3a1.45 1.45 0 1 0 2.9 0a1.45 1.45 0 1 0 -2.9 0zM212.8 283.5a1.45 1.45 0 1 0 2.9 0a1.45 1.45 0 1 0 -2.9 0zM213.4 287.1a1.45 1.45 0 1 0 2.9 0a1.45 1.45 0 1 0 -2.9 0zM214.0 289.3a1.45 1.45 0 1 0 2.9 0a1.45 1.45 0 1 0 -2.9 0zM214.7 289.2a1.45 1.45 0 1 0 2.9 0a1.45 1.45 0 1 0 -2.9 0zM215.3 290.1a1.45 1.45 0 1 0 2.9 0a1.45 1.45 0 1 0 -2.9 0zM215.9 290.1a1.45 1.45 0 1 0 2.9 0a1.45 1.45 0 1 0 -2.9 0zM216.5 288.4a1.45 1.45 0 1 0 2.9 0a1.45 1.45 0 1 0 -2.9 0zM217.2 292.1a1.45 1.45 0 1 0 2.9 0a1.45 1.45 0 1 0 -2.9 0zM217.8 282.0a1.45 1.45 0 1 0 2.9 0a1.45 1.45 0 1 0 -2.9 0zM218.4 288.1a1.45 1.45 0 1 0 2.9 0a1.45 1.45 0 1 0 -2.9 0zM219.0 285.6a1.45 1.45 0 1 0 2.9 0a1.45 1.45 0 1 0 -2.9 0zM219.7 287.8a1.45 1.45 0 1 0 2.9 0a1.45 1.45 0 1 0 -2.9 0zM220.3 287.7a1.45 1.45 0 1 0 2.9 0a1.45 1.45 0 1 0 -2.9 0zM220.9 283.9a1.45 1.45 0 1 0 2.9 0a1.45 1.45 0 1 0 -2.9 0zM221.5 284.3a1.45 1.45 0 1 0 2.9 0a1.45 1.45 0 1 0 -2.9 0zM222.2 288.2a1.45 1.45 0 1 0 2.9 0a1.45 1.45 0 1 0 -2.9 0zM222.8 286.4a1.45 1.45 0 1 0 2.9 0a1.45 1.45 0 1 0 -2.9 0zM223.4 282.9a1.45 1.45 0 1 0 2.9 0a1.45 1.45 0 1 0 -2.9 0zM224.0 290.6a1.45 1.45 0 1 0 2.9 0a1.45 1.45 0 1 0 -2.9 0zM224.7 290.9a1.45 1.45 0 1 0 2.9 0a1.45 1.45 0 1 0 -2.9 0zM225.3 279.2a1.45 1.45 0 1 0 2.9 0a1.45 1.45 0 1 0 -2.9 0zM225.9 284.0a1.45 1.45 0 1 0 2.9 0a1.45 1.45 0 1 0 -2.9 0zM226.5 290.1a1.45 1.45 0 1 0 2.9 0a1.45 1.45 0 1 0 -2.9 0zM227.2 284.4a1.45 1.45 0 1 0 2.9 0a1.45 1.45 0 1 0 -2.9 0zM227.8 282.3a1.45 1.45 0 1 0 2.9 0a1.45 1.45 0 1 0 -2.9 0zM228.4 280.5a1.45 1.45 0 1 0 2.9 0a1.45 1.45 0 1 0 -2.9 0zM229.0 279.0a1.45 1.45 0 1 0 2.9 0a1.45 1.45 0 1 0 -2.9 0zM229.7 279.5a1.45 1.45 0 1 0 2.9 0a1.45 1.45 0 1 0 -2.9 0zM230.3 277.9a1.45 1.45 0 1 0 2.9 0a1.45 1.45 0 1 0 -2.9 0zM230.9 281.3a1.45 1.45 0 1 0 2.9 0a1.45 1.45 0 1 0 -2.9 0zM231.5 277.4a1.45 1.45 0 1 0 2.9 0a1.45 1.45 0 1 0 -2.9 0zM232.2 276.7a1.45 1.45 0 1 0 2.9 0a1.45 1.45 0 1 0 -2.9 0zM232.8 273.9a1.45 1.45 0 1 0 2.9 0a1.45 1.45 0 1 0 -2.9 0zM233.4 276.8a1.45 1.45 0 1 0 2.9 0a1.45 1.45 0 1 0 -2.9 0zM234.0 273.7a1.45 1.45 0 1 0 2.9 0a1.45 1.45 0 1 0 -2.9 0zM234.7 275.2a1.45 1.45 0 1 0 2.9 0a1.45 1.45 0 1 0 -2.9 0zM235.3 278.3a1.45 1.45 0 1 0 2.9 0a1.45 1.45 0 1 0 -2.9 0zM235.9 275.7a1.45 1.45 0 1 0 2.9 0a1.45 1.45 0 1 0 -2.9 0zM236.5 275.5a1.45 1.45 0 1 0 2.9 0a1.45 1.45 0 1 0 -2.9 0zM237.2 274.5a1.45 1.45 0 1 0 2.9 0a1.45 1.45 0 1 0 -2.9 0zM237.8 273.0a1.45 1.45 0 1 0 2.9 0a1.45 1.45 0 1 0 -2.9 0zM238.4 271.8a1.45 1.45 0 1 0 2.9 0a1.45 1.45 0 1 0 -2.9 0zM239.0 270.7a1.45 1.45 0 1 0 2.9 0a1.45 1.45 0 1 0 -2.9 0zM239.6 273.2a1.45 1.45 0 1 0 2.9 0a1.45 1.45 0 1 0 -2.9 0zM240.3 267.1a1.45 1.45 0 1 0 2.9 0a1.45 1.45 0 1 0 -2.9 0zM240.9 273.7a1.45 1.45 0 1 0 2.9 0a1.45 1.45 0 1 0 -2.9 0zM241.5 269.2a1.45 1.45 0 1 0 2.9 0a1.45 1.45 0 1 0 -2.9 0zM242.1 266.2a1.45 1.45 0 1 0 2.9 0a1.45 1.45 0 1 0 -2.9 0zM242.8 266.3a1.45 1.45 0 1 0 2.9 0a1.45 1.45 0 1 0 -2.9 0zM243.4 265.0a1.45 1.45 0 1 0 2.9 0a1.45 1.45 0 1 0 -2.9 0zM244.0 266.8a1.45 1.45 0 1 0 2.9 0a1.45 1.45 0 1 0 -2.9 0zM244.6 263.5a1.45 1.45 0 1 0 2.9 0a1.45 1.45 0 1 0 -2.9 0zM245.3 268.3a1.45 1.45 0 1 0 2.9 0a1.45 1.45 0 1 0 -2.9 0zM245.9 261.8a1.45 1.45 0 1 0 2.9 0a1.45 1.45 0 1 0 -2.9 0zM246.5 256.6a1.45 1.45 0 1 0 2.9 0a1.45 1.45 0 1 0 -2.9 0zM247.1 260.4a1.45 1.45 0 1 0 2.9 0a1.45 1.45 0 1 0 -2.9 0zM247.8 255.8a1.45 1.45 0 1 0 2.9 0a1.45 1.45 0 1 0 -2.9 0zM248.4 260.9a1.45 1.45 0 1 0 2.9 0a1.45 1.45 0 1 0 -2.9 0zM249.0 263.5a1.45 1.45 0 1 0 2.9 0a1.45 1.45 0 1 0 -2.9 0zM249.6 261.4a1.45 1.45 0 1 0 2.9 0a1.45 1.45 0 1 0 -2.9 0zM250.3 254.7a1.45 1.45 0 1 0 2.9 0a1.45 1.45 0 1 0 -2.9 0zM250.9 255.6a1.45 1.45 0 1 0 2.9 0a1.45 1.45 0 1 0 -2.9 0zM251.5 262.4a1.45 1.45 0 1 0 2.9 0a1.45 1.45 0 1 0 -2.9 0zM252.1 257.3a1.45 1.45 0 1 0 2.9 0a1.45 1.45 0 1 0 -2.9 0zM252.8 255.5a1.45 1.45 0 1 0 2.9 0a1.45 1.45 0 1 0 -2.9 0zM253.4 257.9a1.45 1.45 0 1 0 2.9 0a1.45 1.45 0 1 0 -2.9 0zM254.0 261.3a1.45 1.45 0 1 0 2.9 0a1.45 1.45 0 1 0 -2.9 0zM254.6 257.1a1.45 1.45 0 1 0 2.9 0a1.45 1.45 0 1 0 -2.9 0zM255.3 252.9a1.45 1.45 0 1 0 2.9 0a1.45 1.45 0 1 0 -2.9 0zM255.9 252.8a1.45 1.45 0 1 0 2.9 0a1.45 1.45 0 1 0 -2.9 0zM256.5 252.8a1.45 1.45 0 1 0 2.9 0a1.45 1.45 0 1 0 -2.9 0zM257.1 248.4a1.45 1.45 0 1 0 2.9 0a1.45 1.45 0 1 0 -2.9 0zM257.8 246.3a1.45 1.45 0 1 0 2.9 0a1.45 1.45 0 1 0 -2.9 0zM258.4 248.8a1.45 1.45 0 1 0 2.9 0a1.45 1.45 0 1 0 -2.9 0zM259.0 245.1a1.45 1.45 0 1 0 2.9 0a1.45 1.45 0 1 0 -2.9 0zM259.6 246.9a1.45 1.45 0 1 0 2.9 0a1.45 1.45 0 1 0 -2.9 0zM260.3 246.7a1.45 1.45 0 1 0 2.9 0a1.45 1.45 0 1 0 -2.9 0zM260.9 252.7a1.45 1.45 0 1 0 2.9 0a1.45 1.45 0 1 0 -2.9 0zM261.5 242.4a1.45 1.45 0 1 0 2.9 0a1.45 1.45 0 1 0 -2.9 0zM262.1 243.9a1.45 1.45 0 1 0 2.9 0a1.45 1.45 0 1 0 -2.9 0zM262.8 243.1a1.45 1.45 0 1 0 2.9 0a1.45 1.45 0 1 0 -2.9 0zM263.4 244.3a1.45 1.45 0 1 0 2.9 0a1.45 1.45 0 1 0 -2.9 0zM264.0 245.5a1.45 1.45 0 1 0 2.9 0a1.45 1.45 0 1 0 -2.9 0zM264.6 240.3a1.45 1.45 0 1 0 2.9 0a1.45 1.45 0 1 0 -2.9 0zM265.3 238.8a1.45 1.45 0 1 0 2.9 0a1.45 1.45 0 1 0 -2.9 0zM265.9 235.8a1.45 1.45 0 1 0 2.9 0a1.45 1.45 0 1 0 -2.9 0zM266.5 237.4a1.45 1.45 0 1 0 2.9 0a1.45 1.45 0 1 0 -2.9 0zM267.1 241.3a1.45 1.45 0 1 0 2.9 0a1.45 1.45 0 1 0 -2.9 0zM267.8 239.3a1.45 1.45 0 1 0 2.9 0a1.45 1.45 0 1 0 -2.9 0zM268.4 235.6a1.45 1.45 0 1 0 2.9 0a1.45 1.45 0 1 0 -2.9 0zM269.0 237.1a1.45 1.45 0 1 0 2.9 0a1.45 1.45 0 1 0 -2.9 0zM269.6 237.8a1.45 1.45 0 1 0 2.9 0a1.45 1.45 0 1 0 -2.9 0zM270.3 238.6a1.45 1.45 0 1 0 2.9 0a1.45 1.45 0 1 0 -2.9 0zM270.9 234.7a1.45 1.45 0 1 0 2.9 0a1.45 1.45 0 1 0 -2.9 0zM271.5 235.1a1.45 1.45 0 1 0 2.9 0a1.45 1.45 0 1 0 -2.9 0zM272.1 229.8a1.45 1.45 0 1 0 2.9 0a1.45 1.45 0 1 0 -2.9 0zM272.7 231.3a1.45 1.45 0 1 0 2.9 0a1.45 1.45 0 1 0 -2.9 0zM273.4 239.2a1.45 1.45 0 1 0 2.9 0a1.45 1.45 0 1 0 -2.9 0zM274.0 227.5a1.45 1.45 0 1 0 2.9 0a1.45 1.45 0 1 0 -2.9 0zM274.6 233.0a1.45 1.45 0 1 0 2.9 0a1.45 1.45 0 1 0 -2.9 0zM275.2 234.7a1.45 1.45 0 1 0 2.9 0a1.45 1.45 0 1 0 -2.9 0zM275.9 233.0a1.45 1.45 0 1 0 2.9 0a1.45 1.45 0 1 0 -2.9 0zM276.5 231.9a1.45 1.45 0 1 0 2.9 0a1.45 1.45 0 1 0 -2.9 0zM277.1 234.4a1.45 1.45 0 1 0 2.9 0a1.45 1.45 0 1 0 -2.9 0zM277.7 234.8a1.45 1.45 0 1 0 2.9 0a1.45 1.45 0 1 0 -2.9 0zM278.4 235.0a1.45 1.45 0 1 0 2.9 0a1.45 1.45 0 1 0 -2.9 0zM279.0 230.3a1.45 1.45 0 1 0 2.9 0a1.45 1.45 0 1 0 -2.9 0zM279.6 236.6a1.45 1.45 0 1 0 2.9 0a1.45 1.45 0 1 0 -2.9 0zM280.2 235.7a1.45 1.45 0 1 0 2.9 0a1.45 1.45 0 1 0 -2.9 0zM280.9 237.9a1.45 1.45 0 1 0 2.9 0a1.45 1.45 0 1 0 -2.9 0zM281.5 241.6a1.45 1.45 0 1 0 2.9 0a1.45 1.45 0 1 0 -2.9 0zM282.1 244.1a1.45 1.45 0 1 0 2.9 0a1.45 1.45 0 1 0 -2.9 0zM282.7 246.3a1.45 1.45 0 1 0 2.9 0a1.45 1.45 0 1 0 -2.9 0zM283.4 243.5a1.45 1.45 0 1 0 2.9 0a1.45 1.45 0 1 0 -2.9 0zM284.0 249.3a1.45 1.45 0 1 0 2.9 0a1.45 1.45 0 1 0 -2.9 0zM284.6 251.7a1.45 1.45 0 1 0 2.9 0a1.45 1.45 0 1 0 -2.9 0zM285.2 253.1a1.45 1.45 0 1 0 2.9 0a1.45 1.45 0 1 0 -2.9 0zM285.9 255.5a1.45 1.45 0 1 0 2.9 0a1.45 1.45 0 1 0 -2.9 0zM286.5 252.5a1.45 1.45 0 1 0 2.9 0a1.45 1.45 0 1 0 -2.9 0zM287.1 254.2a1.45 1.45 0 1 0 2.9 0a1.45 1.45 0 1 0 -2.9 0zM287.7 258.9a1.45 1.45 0 1 0 2.9 0a1.45 1.45 0 1 0 -2.9 0zM288.4 254.1a1.45 1.45 0 1 0 2.9 0a1.45 1.45 0 1 0 -2.9 0zM289.0 260.6a1.45 1.45 0 1 0 2.9 0a1.45 1.45 0 1 0 -2.9 0zM289.6 260.0a1.45 1.45 0 1 0 2.9 0a1.45 1.45 0 1 0 -2.9 0zM290.2 262.1a1.45 1.45 0 1 0 2.9 0a1.45 1.45 0 1 0 -2.9 0zM290.9 259.5a1.45 1.45 0 1 0 2.9 0a1.45 1.45 0 1 0 -2.9 0zM291.5 263.6a1.45 1.45 0 1 0 2.9 0a1.45 1.45 0 1 0 -2.9 0zM292.1 267.7a1.45 1.45 0 1 0 2.9 0a1.45 1.45 0 1 0 -2.9 0zM292.7 271.8a1.45 1.45 0 1 0 2.9 0a1.45 1.45 0 1 0 -2.9 0zM293.4 273.5a1.45 1.45 0 1 0 2.9 0a1.45 1.45 0 1 0 -2.9 0zM294.0 271.7a1.45 1.45 0 1 0 2.9 0a1.45 1.45 0 1 0 -2.9 0zM294.6 272.6a1.45 1.45 0 1 0 2.9 0a1.45 1.45 0 1 0 -2.9 0zM295.2 271.9a1.45 1.45 0 1 0 2.9 0a1.45 1.45 0 1 0 -2.9 0zM295.9 276.8a1.45 1.45 0 1 0 2.9 0a1.45 1.45 0 1 0 -2.9 0zM296.5 275.9a1.45 1.45 0 1 0 2.9 0a1.45 1.45 0 1 0 -2.9 0zM297.1 279.5a1.45 1.45 0 1 0 2.9 0a1.45 1.45 0 1 0 -2.9 0zM297.7 284.0a1.45 1.45 0 1 0 2.9 0a1.45 1.45 0 1 0 -2.9 0zM298.4 279.6a1.45 1.45 0 1 0 2.9 0a1.45 1.45 0 1 0 -2.9 0zM299.0 276.2a1.45 1.45 0 1 0 2.9 0a1.45 1.45 0 1 0 -2.9 0zM299.6 279.0a1.45 1.45 0 1 0 2.9 0a1.45 1.45 0 1 0 -2.9 0zM300.2 278.1a1.45 1.45 0 1 0 2.9 0a1.45 1.45 0 1 0 -2.9 0zM300.9 279.8a1.45 1.45 0 1 0 2.9 0a1.45 1.45 0 1 0 -2.9 0zM301.5 288.1a1.45 1.45 0 1 0 2.9 0a1.45 1.45 0 1 0 -2.9 0zM302.1 285.7a1.45 1.45 0 1 0 2.9 0a1.45 1.45 0 1 0 -2.9 0zM302.7 281.2a1.45 1.45 0 1 0 2.9 0a1.45 1.45 0 1 0 -2.9 0zM303.4 288.6a1.45 1.45 0 1 0 2.9 0a1.45 1.45 0 1 0 -2.9 0zM304.0 291.2a1.45 1.45 0 1 0 2.9 0a1.45 1.45 0 1 0 -2.9 0zM304.6 287.1a1.45 1.45 0 1 0 2.9 0a1.45 1.45 0 1 0 -2.9 0zM305.2 286.9a1.45 1.45 0 1 0 2.9 0a1.45 1.45 0 1 0 -2.9 0zM305.8 288.6a1.45 1.45 0 1 0 2.9 0a1.45 1.45 0 1 0 -2.9 0zM306.5 291.2a1.45 1.45 0 1 0 2.9 0a1.45 1.45 0 1 0 -2.9 0zM307.1 292.9a1.45 1.45 0 1 0 2.9 0a1.45 1.45 0 1 0 -2.9 0zM307.7 295.1a1.45 1.45 0 1 0 2.9 0a1.45 1.45 0 1 0 -2.9 0zM308.3 295.8a1.45 1.45 0 1 0 2.9 0a1.45 1.45 0 1 0 -2.9 0zM309.0 296.2a1.45 1.45 0 1 0 2.9 0a1.45 1.45 0 1 0 -2.9 0zM309.6 297.1a1.45 1.45 0 1 0 2.9 0a1.45 1.45 0 1 0 -2.9 0zM310.2 295.4a1.45 1.45 0 1 0 2.9 0a1.45 1.45 0 1 0 -2.9 0zM310.8 289.2a1.45 1.45 0 1 0 2.9 0a1.45 1.45 0 1 0 -2.9 0zM311.5 293.7a1.45 1.45 0 1 0 2.9 0a1.45 1.45 0 1 0 -2.9 0zM312.1 295.4a1.45 1.45 0 1 0 2.9 0a1.45 1.45 0 1 0 -2.9 0zM312.7 293.6a1.45 1.45 0 1 0 2.9 0a1.45 1.45 0 1 0 -2.9 0zM313.3 297.8a1.45 1.45 0 1 0 2.9 0a1.45 1.45 0 1 0 -2.9 0zM314.0 294.3a1.45 1.45 0 1 0 2.9 0a1.45 1.45 0 1 0 -2.9 0zM314.6 292.9a1.45 1.45 0 1 0 2.9 0a1.45 1.45 0 1 0 -2.9 0zM315.2 300.3a1.45 1.45 0 1 0 2.9 0a1.45 1.45 0 1 0 -2.9 0zM315.8 298.2a1.45 1.45 0 1 0 2.9 0a1.45 1.45 0 1 0 -2.9 0zM316.5 297.1a1.45 1.45 0 1 0 2.9 0a1.45 1.45 0 1 0 -2.9 0zM317.1 299.5a1.45 1.45 0 1 0 2.9 0a1.45 1.45 0 1 0 -2.9 0zM317.7 300.1a1.45 1.45 0 1 0 2.9 0a1.45 1.45 0 1 0 -2.9 0zM318.3 298.1a1.45 1.45 0 1 0 2.9 0a1.45 1.45 0 1 0 -2.9 0zM319.0 289.9a1.45 1.45 0 1 0 2.9 0a1.45 1.45 0 1 0 -2.9 0zM319.6 295.5a1.45 1.45 0 1 0 2.9 0a1.45 1.45 0 1 0 -2.9 0zM320.2 296.3a1.45 1.45 0 1 0 2.9 0a1.45 1.45 0 1 0 -2.9 0zM320.8 294.9a1.45 1.45 0 1 0 2.9 0a1.45 1.45 0 1 0 -2.9 0zM321.5 298.6a1.45 1.45 0 1 0 2.9 0a1.45 1.45 0 1 0 -2.9 0zM322.1 301.7a1.45 1.45 0 1 0 2.9 0a1.45 1.45 0 1 0 -2.9 0zM322.7 296.8a1.45 1.45 0 1 0 2.9 0a1.45 1.45 0 1 0 -2.9 0zM323.3 295.0a1.45 1.45 0 1 0 2.9 0a1.45 1.45 0 1 0 -2.9 0zM324.0 304.6a1.45 1.45 0 1 0 2.9 0a1.45 1.45 0 1 0 -2.9 0zM324.6 297.3a1.45 1.45 0 1 0 2.9 0a1.45 1.45 0 1 0 -2.9 0zM325.2 295.1a1.45 1.45 0 1 0 2.9 0a1.45 1.45 0 1 0 -2.9 0zM325.8 299.6a1.45 1.45 0 1 0 2.9 0a1.45 1.45 0 1 0 -2.9 0zM326.5 300.3a1.45 1.45 0 1 0 2.9 0a1.45 1.45 0 1 0 -2.9 0zM327.1 297.0a1.45 1.45 0 1 0 2.9 0a1.45 1.45 0 1 0 -2.9 0zM327.7 301.6a1.45 1.45 0 1 0 2.9 0a1.45 1.45 0 1 0 -2.9 0zM328.3 297.9a1.45 1.45 0 1 0 2.9 0a1.45 1.45 0 1 0 -2.9 0zM329.0 296.7a1.45 1.45 0 1 0 2.9 0a1.45 1.45 0 1 0 -2.9 0zM329.6 300.1a1.45 1.45 0 1 0 2.9 0a1.45 1.45 0 1 0 -2.9 0zM330.2 301.9a1.45 1.45 0 1 0 2.9 0a1.45 1.45 0 1 0 -2.9 0zM330.8 297.8a1.45 1.45 0 1 0 2.9 0a1.45 1.45 0 1 0 -2.9 0zM331.5 300.8a1.45 1.45 0 1 0 2.9 0a1.45 1.45 0 1 0 -2.9 0zM332.1 299.6a1.45 1.45 0 1 0 2.9 0a1.45 1.45 0 1 0 -2.9 0zM332.7 308.1a1.45 1.45 0 1 0 2.9 0a1.45 1.45 0 1 0 -2.9 0zM333.3 298.0a1.45 1.45 0 1 0 2.9 0a1.45 1.45 0 1 0 -2.9 0zM334.0 304.3a1.45 1.45 0 1 0 2.9 0a1.45 1.45 0 1 0 -2.9 0zM334.6 300.1a1.45 1.45 0 1 0 2.9 0a1.45 1.45 0 1 0 -2.9 0zM335.2 300.0a1.45 1.45 0 1 0 2.9 0a1.45 1.45 0 1 0 -2.9 0zM335.8 302.6a1.45 1.45 0 1 0 2.9 0a1.45 1.45 0 1 0 -2.9 0zM336.5 303.2a1.45 1.45 0 1 0 2.9 0a1.45 1.45 0 1 0 -2.9 0zM337.1 304.4a1.45 1.45 0 1 0 2.9 0a1.45 1.45 0 1 0 -2.9 0zM337.7 301.6a1.45 1.45 0 1 0 2.9 0a1.45 1.45 0 1 0 -2.9 0zM338.3 298.9a1.45 1.45 0 1 0 2.9 0a1.45 1.45 0 1 0 -2.9 0zM338.9 299.2a1.45 1.45 0 1 0 2.9 0a1.45 1.45 0 1 0 -2.9 0zM339.6 302.4a1.45 1.45 0 1 0 2.9 0a1.45 1.45 0 1 0 -2.9 0zM340.2 302.7a1.45 1.45 0 1 0 2.9 0a1.45 1.45 0 1 0 -2.9 0zM340.8 305.2a1.45 1.45 0 1 0 2.9 0a1.45 1.45 0 1 0 -2.9 0zM341.4 302.3a1.45 1.45 0 1 0 2.9 0a1.45 1.45 0 1 0 -2.9 0zM342.1 304.3a1.45 1.45 0 1 0 2.9 0a1.45 1.45 0 1 0 -2.9 0zM342.7 305.8a1.45 1.45 0 1 0 2.9 0a1.45 1.45 0 1 0 -2.9 0zM343.3 301.8a1.45 1.45 0 1 0 2.9 0a1.45 1.45 0 1 0 -2.9 0zM343.9 296.9a1.45 1.45 0 1 0 2.9 0a1.45 1.45 0 1 0 -2.9 0zM344.6 297.9a1.45 1.45 0 1 0 2.9 0a1.45 1.45 0 1 0 -2.9 0zM345.2 297.2a1.45 1.45 0 1 0 2.9 0a1.45 1.45 0 1 0 -2.9 0zM345.8 306.4a1.45 1.45 0 1 0 2.9 0a1.45 1.45 0 1 0 -2.9 0zM346.4 299.2a1.45 1.45 0 1 0 2.9 0a1.45 1.45 0 1 0 -2.9 0zM347.1 305.5a1.45 1.45 0 1 0 2.9 0a1.45 1.45 0 1 0 -2.9 0zM347.7 303.6a1.45 1.45 0 1 0 2.9 0a1.45 1.45 0 1 0 -2.9 0zM348.3 307.1a1.45 1.45 0 1 0 2.9 0a1.45 1.45 0 1 0 -2.9 0zM348.9 305.1a1.45 1.45 0 1 0 2.9 0a1.45 1.45 0 1 0 -2.9 0zM349.6 301.8a1.45 1.45 0 1 0 2.9 0a1.45 1.45 0 1 0 -2.9 0zM350.2 301.6a1.45 1.45 0 1 0 2.9 0a1.45 1.45 0 1 0 -2.9 0zM350.8 302.6a1.45 1.45 0 1 0 2.9 0a1.45 1.45 0 1 0 -2.9 0zM351.4 303.0a1.45 1.45 0 1 0 2.9 0a1.45 1.45 0 1 0 -2.9 0zM352.1 300.9a1.45 1.45 0 1 0 2.9 0a1.45 1.45 0 1 0 -2.9 0zM352.7 302.5a1.45 1.45 0 1 0 2.9 0a1.45 1.45 0 1 0 -2.9 0zM353.3 307.6a1.45 1.45 0 1 0 2.9 0a1.45 1.45 0 1 0 -2.9 0zM353.9 297.7a1.45 1.45 0 1 0 2.9 0a1.45 1.45 0 1 0 -2.9 0zM354.6 303.7a1.45 1.45 0 1 0 2.9 0a1.45 1.45 0 1 0 -2.9 0zM355.2 300.3a1.45 1.45 0 1 0 2.9 0a1.45 1.45 0 1 0 -2.9 0zM355.8 303.7a1.45 1.45 0 1 0 2.9 0a1.45 1.45 0 1 0 -2.9 0zM356.4 305.8a1.45 1.45 0 1 0 2.9 0a1.45 1.45 0 1 0 -2.9 0zM357.1 303.2a1.45 1.45 0 1 0 2.9 0a1.45 1.45 0 1 0 -2.9 0zM357.7 305.8a1.45 1.45 0 1 0 2.9 0a1.45 1.45 0 1 0 -2.9 0zM358.3 298.8a1.45 1.45 0 1 0 2.9 0a1.45 1.45 0 1 0 -2.9 0zM358.9 307.1a1.45 1.45 0 1 0 2.9 0a1.45 1.45 0 1 0 -2.9 0zM359.6 302.0a1.45 1.45 0 1 0 2.9 0a1.45 1.45 0 1 0 -2.9 0zM360.2 305.8a1.45 1.45 0 1 0 2.9 0a1.45 1.45 0 1 0 -2.9 0zM360.8 304.6a1.45 1.45 0 1 0 2.9 0a1.45 1.45 0 1 0 -2.9 0zM361.4 296.4a1.45 1.45 0 1 0 2.9 0a1.45 1.45 0 1 0 -2.9 0zM362.1 302.0a1.45 1.45 0 1 0 2.9 0a1.45 1.45 0 1 0 -2.9 0zM362.7 305.0a1.45 1.45 0 1 0 2.9 0a1.45 1.45 0 1 0 -2.9 0zM363.3 309.1a1.45 1.45 0 1 0 2.9 0a1.45 1.45 0 1 0 -2.9 0zM363.9 305.5a1.45 1.45 0 1 0 2.9 0a1.45 1.45 0 1 0 -2.9 0zM364.6 305.5a1.45 1.45 0 1 0 2.9 0a1.45 1.45 0 1 0 -2.9 0zM365.2 300.6a1.45 1.45 0 1 0 2.9 0a1.45 1.45 0 1 0 -2.9 0zM365.8 309.2a1.45 1.45 0 1 0 2.9 0a1.45 1.45 0 1 0 -2.9 0zM366.4 310.4a1.45 1.45 0 1 0 2.9 0a1.45 1.45 0 1 0 -2.9 0zM367.1 305.2a1.45 1.45 0 1 0 2.9 0a1.45 1.45 0 1 0 -2.9 0zM367.7 304.5a1.45 1.45 0 1 0 2.9 0a1.45 1.45 0 1 0 -2.9 0zM368.3 300.4a1.45 1.45 0 1 0 2.9 0a1.45 1.45 0 1 0 -2.9 0zM368.9 308.0a1.45 1.45 0 1 0 2.9 0a1.45 1.45 0 1 0 -2.9 0zM369.6 313.5a1.45 1.45 0 1 0 2.9 0a1.45 1.45 0 1 0 -2.9 0zM370.2 307.6a1.45 1.45 0 1 0 2.9 0a1.45 1.45 0 1 0 -2.9 0zM370.8 309.3a1.45 1.45 0 1 0 2.9 0a1.45 1.45 0 1 0 -2.9 0zM371.4 307.2a1.45 1.45 0 1 0 2.9 0a1.45 1.45 0 1 0 -2.9 0zM372.0 302.7a1.45 1.45 0 1 0 2.9 0a1.45 1.45 0 1 0 -2.9 0zM372.7 309.7a1.45 1.45 0 1 0 2.9 0a1.45 1.45 0 1 0 -2.9 0zM373.3 302.1a1.45 1.45 0 1 0 2.9 0a1.45 1.45 0 1 0 -2.9 0zM373.9 305.2a1.45 1.45 0 1 0 2.9 0a1.45 1.45 0 1 0 -2.9 0zM374.5 306.7a1.45 1.45 0 1 0 2.9 0a1.45 1.45 0 1 0 -2.9 0zM375.2 308.6a1.45 1.45 0 1 0 2.9 0a1.45 1.45 0 1 0 -2.9 0zM375.8 307.2a1.45 1.45 0 1 0 2.9 0a1.45 1.45 0 1 0 -2.9 0zM376.4 307.1a1.45 1.45 0 1 0 2.9 0a1.45 1.45 0 1 0 -2.9 0zM377.0 303.7a1.45 1.45 0 1 0 2.9 0a1.45 1.45 0 1 0 -2.9 0zM377.7 302.1a1.45 1.45 0 1 0 2.9 0a1.45 1.45 0 1 0 -2.9 0zM378.3 306.2a1.45 1.45 0 1 0 2.9 0a1.45 1.45 0 1 0 -2.9 0zM378.9 303.9a1.45 1.45 0 1 0 2.9 0a1.45 1.45 0 1 0 -2.9 0zM379.5 302.1a1.45 1.45 0 1 0 2.9 0a1.45 1.45 0 1 0 -2.9 0zM380.2 302.2a1.45 1.45 0 1 0 2.9 0a1.45 1.45 0 1 0 -2.9 0zM380.8 304.5a1.45 1.45 0 1 0 2.9 0a1.45 1.45 0 1 0 -2.9 0zM381.4 300.4a1.45 1.45 0 1 0 2.9 0a1.45 1.45 0 1 0 -2.9 0zM382.0 301.9a1.45 1.45 0 1 0 2.9 0a1.45 1.45 0 1 0 -2.9 0zM382.7 301.0a1.45 1.45 0 1 0 2.9 0a1.45 1.45 0 1 0 -2.9 0zM383.3 306.5a1.45 1.45 0 1 0 2.9 0a1.45 1.45 0 1 0 -2.9 0zM383.9 307.1a1.45 1.45 0 1 0 2.9 0a1.45 1.45 0 1 0 -2.9 0zM384.5 311.9a1.45 1.45 0 1 0 2.9 0a1.45 1.45 0 1 0 -2.9 0zM385.2 301.3a1.45 1.45 0 1 0 2.9 0a1.45 1.45 0 1 0 -2.9 0zM385.8 303.8a1.45 1.45 0 1 0 2.9 0a1.45 1.45 0 1 0 -2.9 0zM386.4 308.5a1.45 1.45 0 1 0 2.9 0a1.45 1.45 0 1 0 -2.9 0zM387.0 305.1a1.45 1.45 0 1 0 2.9 0a1.45 1.45 0 1 0 -2.9 0zM387.7 304.7a1.45 1.45 0 1 0 2.9 0a1.45 1.45 0 1 0 -2.9 0zM388.3 310.8a1.45 1.45 0 1 0 2.9 0a1.45 1.45 0 1 0 -2.9 0zM388.9 304.6a1.45 1.45 0 1 0 2.9 0a1.45 1.45 0 1 0 -2.9 0zM389.5 302.1a1.45 1.45 0 1 0 2.9 0a1.45 1.45 0 1 0 -2.9 0zM390.2 301.6a1.45 1.45 0 1 0 2.9 0a1.45 1.45 0 1 0 -2.9 0zM390.8 306.5a1.45 1.45 0 1 0 2.9 0a1.45 1.45 0 1 0 -2.9 0zM391.4 306.3a1.45 1.45 0 1 0 2.9 0a1.45 1.45 0 1 0 -2.9 0zM392.0 301.2a1.45 1.45 0 1 0 2.9 0a1.45 1.45 0 1 0 -2.9 0zM392.7 302.3a1.45 1.45 0 1 0 2.9 0a1.45 1.45 0 1 0 -2.9 0zM393.3 306.8a1.45 1.45 0 1 0 2.9 0a1.45 1.45 0 1 0 -2.9 0zM393.9 306.9a1.45 1.45 0 1 0 2.9 0a1.45 1.45 0 1 0 -2.9 0zM394.5 303.2a1.45 1.45 0 1 0 2.9 0a1.45 1.45 0 1 0 -2.9 0zM395.2 306.9a1.45 1.45 0 1 0 2.9 0a1.45 1.45 0 1 0 -2.9 0zM395.8 306.7a1.45 1.45 0 1 0 2.9 0a1.45 1.45 0 1 0 -2.9 0zM396.4 299.6a1.45 1.45 0 1 0 2.9 0a1.45 1.45 0 1 0 -2.9 0zM397.0 303.9a1.45 1.45 0 1 0 2.9 0a1.45 1.45 0 1 0 -2.9 0zM397.7 306.0a1.45 1.45 0 1 0 2.9 0a1.45 1.45 0 1 0 -2.9 0zM398.3 303.0a1.45 1.45 0 1 0 2.9 0a1.45 1.45 0 1 0 -2.9 0zM398.9 298.2a1.45 1.45 0 1 0 2.9 0a1.45 1.45 0 1 0 -2.9 0zM399.5 303.7a1.45 1.45 0 1 0 2.9 0a1.45 1.45 0 1 0 -2.9 0zM400.2 306.7a1.45 1.45 0 1 0 2.9 0a1.45 1.45 0 1 0 -2.9 0zM400.8 309.2a1.45 1.45 0 1 0 2.9 0a1.45 1.45 0 1 0 -2.9 0zM401.4 297.8a1.45 1.45 0 1 0 2.9 0a1.45 1.45 0 1 0 -2.9 0zM402.0 312.1a1.45 1.45 0 1 0 2.9 0a1.45 1.45 0 1 0 -2.9 0zM402.7 300.8a1.45 1.45 0 1 0 2.9 0a1.45 1.45 0 1 0 -2.9 0zM403.3 307.0a1.45 1.45 0 1 0 2.9 0a1.45 1.45 0 1 0 -2.9 0zM403.9 307.7a1.45 1.45 0 1 0 2.9 0a1.45 1.45 0 1 0 -2.9 0zM404.5 306.9a1.45 1.45 0 1 0 2.9 0a1.45 1.45 0 1 0 -2.9 0zM405.1 304.3a1.45 1.45 0 1 0 2.9 0a1.45 1.45 0 1 0 -2.9 0zM405.8 300.3a1.45 1.45 0 1 0 2.9 0a1.45 1.45 0 1 0 -2.9 0zM406.4 305.6a1.45 1.45 0 1 0 2.9 0a1.45 1.45 0 1 0 -2.9 0zM407.0 301.5a1.45 1.45 0 1 0 2.9 0a1.45 1.45 0 1 0 -2.9 0zM407.6 295.9a1.45 1.45 0 1 0 2.9 0a1.45 1.45 0 1 0 -2.9 0zM408.3 311.5a1.45 1.45 0 1 0 2.9 0a1.45 1.45 0 1 0 -2.9 0zM408.9 305.5a1.45 1.45 0 1 0 2.9 0a1.45 1.45 0 1 0 -2.9 0zM409.5 308.7a1.45 1.45 0 1 0 2.9 0a1.45 1.45 0 1 0 -2.9 0zM410.1 300.4a1.45 1.45 0 1 0 2.9 0a1.45 1.45 0 1 0 -2.9 0zM410.8 307.5a1.45 1.45 0 1 0 2.9 0a1.45 1.45 0 1 0 -2.9 0zM411.4 307.8a1.45 1.45 0 1 0 2.9 0a1.45 1.45 0 1 0 -2.9 0zM412.0 307.6a1.45 1.45 0 1 0 2.9 0a1.45 1.45 0 1 0 -2.9 0zM412.6 302.8a1.45 1.45 0 1 0 2.9 0a1.45 1.45 0 1 0 -2.9 0zM413.3 299.1a1.45 1.45 0 1 0 2.9 0a1.45 1.45 0 1 0 -2.9 0zM413.9 302.1a1.45 1.45 0 1 0 2.9 0a1.45 1.45 0 1 0 -2.9 0zM414.5 295.9a1.45 1.45 0 1 0 2.9 0a1.45 1.45 0 1 0 -2.9 0zM415.1 297.4a1.45 1.45 0 1 0 2.9 0a1.45 1.45 0 1 0 -2.9 0zM415.8 302.7a1.45 1.45 0 1 0 2.9 0a1.45 1.45 0 1 0 -2.9 0zM416.4 299.3a1.45 1.45 0 1 0 2.9 0a1.45 1.45 0 1 0 -2.9 0zM417.0 301.7a1.45 1.45 0 1 0 2.9 0a1.45 1.45 0 1 0 -2.9 0zM417.6 301.8a1.45 1.45 0 1 0 2.9 0a1.45 1.45 0 1 0 -2.9 0zM418.3 307.8a1.45 1.45 0 1 0 2.9 0a1.45 1.45 0 1 0 -2.9 0zM418.9 305.8a1.45 1.45 0 1 0 2.9 0a1.45 1.45 0 1 0 -2.9 0zM419.5 301.7a1.45 1.45 0 1 0 2.9 0a1.45 1.45 0 1 0 -2.9 0zM420.1 305.4a1.45 1.45 0 1 0 2.9 0a1.45 1.45 0 1 0 -2.9 0zM420.8 299.3a1.45 1.45 0 1 0 2.9 0a1.45 1.45 0 1 0 -2.9 0zM421.4 300.6a1.45 1.45 0 1 0 2.9 0a1.45 1.45 0 1 0 -2.9 0zM422.0 304.2a1.45 1.45 0 1 0 2.9 0a1.45 1.45 0 1 0 -2.9 0zM422.6 297.6a1.45 1.45 0 1 0 2.9 0a1.45 1.45 0 1 0 -2.9 0zM423.3 300.4a1.45 1.45 0 1 0 2.9 0a1.45 1.45 0 1 0 -2.9 0zM423.9 297.1a1.45 1.45 0 1 0 2.9 0a1.45 1.45 0 1 0 -2.9 0zM424.5 301.3a1.45 1.45 0 1 0 2.9 0a1.45 1.45 0 1 0 -2.9 0zM425.1 305.8a1.45 1.45 0 1 0 2.9 0a1.45 1.45 0 1 0 -2.9 0zM425.8 298.5a1.45 1.45 0 1 0 2.9 0a1.45 1.45 0 1 0 -2.9 0zM426.4 301.3a1.45 1.45 0 1 0 2.9 0a1.45 1.45 0 1 0 -2.9 0zM427.0 297.8a1.45 1.45 0 1 0 2.9 0a1.45 1.45 0 1 0 -2.9 0zM427.6 296.9a1.45 1.45 0 1 0 2.9 0a1.45 1.45 0 1 0 -2.9 0zM428.3 296.5a1.45 1.45 0 1 0 2.9 0a1.45 1.45 0 1 0 -2.9 0zM428.9 304.4a1.45 1.45 0 1 0 2.9 0a1.45 1.45 0 1 0 -2.9 0zM429.5 307.0a1.45 1.45 0 1 0 2.9 0a1.45 1.45 0 1 0 -2.9 0zM430.1 301.2a1.45 1.45 0 1 0 2.9 0a1.45 1.45 0 1 0 -2.9 0zM430.8 297.5a1.45 1.45 0 1 0 2.9 0a1.45 1.45 0 1 0 -2.9 0zM431.4 301.6a1.45 1.45 0 1 0 2.9 0a1.45 1.45 0 1 0 -2.9 0zM432.0 298.3a1.45 1.45 0 1 0 2.9 0a1.45 1.45 0 1 0 -2.9 0zM432.6 301.6a1.45 1.45 0 1 0 2.9 0a1.45 1.45 0 1 0 -2.9 0zM433.3 299.9a1.45 1.45 0 1 0 2.9 0a1.45 1.45 0 1 0 -2.9 0zM433.9 299.7a1.45 1.45 0 1 0 2.9 0a1.45 1.45 0 1 0 -2.9 0zM434.5 300.6a1.45 1.45 0 1 0 2.9 0a1.45 1.45 0 1 0 -2.9 0zM435.1 296.9a1.45 1.45 0 1 0 2.9 0a1.45 1.45 0 1 0 -2.9 0zM435.8 297.3a1.45 1.45 0 1 0 2.9 0a1.45 1.45 0 1 0 -2.9 0zM436.4 293.2a1.45 1.45 0 1 0 2.9 0a1.45 1.45 0 1 0 -2.9 0zM437.0 296.9a1.45 1.45 0 1 0 2.9 0a1.45 1.45 0 1 0 -2.9 0zM437.6 293.8a1.45 1.45 0 1 0 2.9 0a1.45 1.45 0 1 0 -2.9 0zM438.2 297.5a1.45 1.45 0 1 0 2.9 0a1.45 1.45 0 1 0 -2.9 0zM438.9 294.9a1.45 1.45 0 1 0 2.9 0a1.45 1.45 0 1 0 -2.9 0zM439.5 297.9a1.45 1.45 0 1 0 2.9 0a1.45 1.45 0 1 0 -2.9 0zM440.1 298.9a1.45 1.45 0 1 0 2.9 0a1.45 1.45 0 1 0 -2.9 0zM440.7 293.1a1.45 1.45 0 1 0 2.9 0a1.45 1.45 0 1 0 -2.9 0zM441.4 294.8a1.45 1.45 0 1 0 2.9 0a1.45 1.45 0 1 0 -2.9 0zM442.0 294.3a1.45 1.45 0 1 0 2.9 0a1.45 1.45 0 1 0 -2.9 0zM442.6 299.2a1.45 1.45 0 1 0 2.9 0a1.45 1.45 0 1 0 -2.9 0zM443.2 302.0a1.45 1.45 0 1 0 2.9 0a1.45 1.45 0 1 0 -2.9 0zM443.9 299.3a1.45 1.45 0 1 0 2.9 0a1.45 1.45 0 1 0 -2.9 0zM444.5 295.6a1.45 1.45 0 1 0 2.9 0a1.45 1.45 0 1 0 -2.9 0zM445.1 300.9a1.45 1.45 0 1 0 2.9 0a1.45 1.45 0 1 0 -2.9 0zM445.7 291.9a1.45 1.45 0 1 0 2.9 0a1.45 1.45 0 1 0 -2.9 0zM446.4 300.8a1.45 1.45 0 1 0 2.9 0a1.45 1.45 0 1 0 -2.9 0zM447.0 294.3a1.45 1.45 0 1 0 2.9 0a1.45 1.45 0 1 0 -2.9 0zM447.6 288.0a1.45 1.45 0 1 0 2.9 0a1.45 1.45 0 1 0 -2.9 0zM448.2 304.0a1.45 1.45 0 1 0 2.9 0a1.45 1.45 0 1 0 -2.9 0zM448.9 300.7a1.45 1.45 0 1 0 2.9 0a1.45 1.45 0 1 0 -2.9 0zM449.5 292.8a1.45 1.45 0 1 0 2.9 0a1.45 1.45 0 1 0 -2.9 0zM450.1 296.3a1.45 1.45 0 1 0 2.9 0a1.45 1.45 0 1 0 -2.9 0zM450.7 295.1a1.45 1.45 0 1 0 2.9 0a1.45 1.45 0 1 0 -2.9 0zM451.4 295.9a1.45 1.45 0 1 0 2.9 0a1.45 1.45 0 1 0 -2.9 0zM452.0 291.1a1.45 1.45 0 1 0 2.9 0a1.45 1.45 0 1 0 -2.9 0zM452.6 293.4a1.45 1.45 0 1 0 2.9 0a1.45 1.45 0 1 0 -2.9 0zM453.2 296.8a1.45 1.45 0 1 0 2.9 0a1.45 1.45 0 1 0 -2.9 0zM453.9 295.9a1.45 1.45 0 1 0 2.9 0a1.45 1.45 0 1 0 -2.9 0zM454.5 298.8a1.45 1.45 0 1 0 2.9 0a1.45 1.45 0 1 0 -2.9 0zM455.1 295.3a1.45 1.45 0 1 0 2.9 0a1.45 1.45 0 1 0 -2.9 0zM455.7 302.1a1.45 1.45 0 1 0 2.9 0a1.45 1.45 0 1 0 -2.9 0zM456.4 292.8a1.45 1.45 0 1 0 2.9 0a1.45 1.45 0 1 0 -2.9 0zM457.0 295.6a1.45 1.45 0 1 0 2.9 0a1.45 1.45 0 1 0 -2.9 0zM457.6 289.0a1.45 1.45 0 1 0 2.9 0a1.45 1.45 0 1 0 -2.9 0zM458.2 291.0a1.45 1.45 0 1 0 2.9 0a1.45 1.45 0 1 0 -2.9 0zM458.9 298.6a1.45 1.45 0 1 0 2.9 0a1.45 1.45 0 1 0 -2.9 0zM459.5 291.7a1.45 1.45 0 1 0 2.9 0a1.45 1.45 0 1 0 -2.9 0zM460.1 296.1a1.45 1.45 0 1 0 2.9 0a1.45 1.45 0 1 0 -2.9 0zM460.7 294.2a1.45 1.45 0 1 0 2.9 0a1.45 1.45 0 1 0 -2.9 0zM461.4 291.2a1.45 1.45 0 1 0 2.9 0a1.45 1.45 0 1 0 -2.9 0zM462.0 293.3a1.45 1.45 0 1 0 2.9 0a1.45 1.45 0 1 0 -2.9 0zM462.6 292.7a1.45 1.45 0 1 0 2.9 0a1.45 1.45 0 1 0 -2.9 0zM463.2 292.8a1.45 1.45 0 1 0 2.9 0a1.45 1.45 0 1 0 -2.9 0zM463.9 296.4a1.45 1.45 0 1 0 2.9 0a1.45 1.45 0 1 0 -2.9 0zM464.5 296.1a1.45 1.45 0 1 0 2.9 0a1.45 1.45 0 1 0 -2.9 0zM465.1 292.4a1.45 1.45 0 1 0 2.9 0a1.45 1.45 0 1 0 -2.9 0zM465.7 291.3a1.45 1.45 0 1 0 2.9 0a1.45 1.45 0 1 0 -2.9 0zM466.4 294.9a1.45 1.45 0 1 0 2.9 0a1.45 1.45 0 1 0 -2.9 0zM467.0 293.7a1.45 1.45 0 1 0 2.9 0a1.45 1.45 0 1 0 -2.9 0zM467.6 297.1a1.45 1.45 0 1 0 2.9 0a1.45 1.45 0 1 0 -2.9 0zM468.2 302.0a1.45 1.45 0 1 0 2.9 0a1.45 1.45 0 1 0 -2.9 0zM468.9 296.5a1.45 1.45 0 1 0 2.9 0a1.45 1.45 0 1 0 -2.9 0zM469.5 293.9a1.45 1.45 0 1 0 2.9 0a1.45 1.45 0 1 0 -2.9 0zM470.1 293.5a1.45 1.45 0 1 0 2.9 0a1.45 1.45 0 1 0 -2.9 0zM470.7 291.5a1.45 1.45 0 1 0 2.9 0a1.45 1.45 0 1 0 -2.9 0zM471.3 291.3a1.45 1.45 0 1 0 2.9 0a1.45 1.45 0 1 0 -2.9 0zM472.0 291.1a1.45 1.45 0 1 0 2.9 0a1.45 1.45 0 1 0 -2.9 0zM472.6 292.9a1.45 1.45 0 1 0 2.9 0a1.45 1.45 0 1 0 -2.9 0zM473.2 292.9a1.45 1.45 0 1 0 2.9 0a1.45 1.45 0 1 0 -2.9 0zM473.8 296.4a1.45 1.45 0 1 0 2.9 0a1.45 1.45 0 1 0 -2.9 0zM474.5 293.0a1.45 1.45 0 1 0 2.9 0a1.45 1.45 0 1 0 -2.9 0zM475.1 293.7a1.45 1.45 0 1 0 2.9 0a1.45 1.45 0 1 0 -2.9 0zM475.7 290.7a1.45 1.45 0 1 0 2.9 0a1.45 1.45 0 1 0 -2.9 0zM476.3 299.3a1.45 1.45 0 1 0 2.9 0a1.45 1.45 0 1 0 -2.9 0zM477.0 296.0a1.45 1.45 0 1 0 2.9 0a1.45 1.45 0 1 0 -2.9 0zM477.6 299.9a1.45 1.45 0 1 0 2.9 0a1.45 1.45 0 1 0 -2.9 0zM478.2 297.0a1.45 1.45 0 1 0 2.9 0a1.45 1.45 0 1 0 -2.9 0zM478.8 299.1a1.45 1.45 0 1 0 2.9 0a1.45 1.45 0 1 0 -2.9 0zM479.5 294.0a1.45 1.45 0 1 0 2.9 0a1.45 1.45 0 1 0 -2.9 0zM480.1 296.9a1.45 1.45 0 1 0 2.9 0a1.45 1.45 0 1 0 -2.9 0zM480.7 303.0a1.45 1.45 0 1 0 2.9 0a1.45 1.45 0 1 0 -2.9 0zM481.3 291.3a1.45 1.45 0 1 0 2.9 0a1.45 1.45 0 1 0 -2.9 0zM482.0 298.6a1.45 1.45 0 1 0 2.9 0a1.45 1.45 0 1 0 -2.9 0zM482.6 300.2a1.45 1.45 0 1 0 2.9 0a1.45 1.45 0 1 0 -2.9 0zM483.2 296.5a1.45 1.45 0 1 0 2.9 0a1.45 1.45 0 1 0 -2.9 0zM483.8 297.6a1.45 1.45 0 1 0 2.9 0a1.45 1.45 0 1 0 -2.9 0zM484.5 299.2a1.45 1.45 0 1 0 2.9 0a1.45 1.45 0 1 0 -2.9 0zM485.1 293.5a1.45 1.45 0 1 0 2.9 0a1.45 1.45 0 1 0 -2.9 0zM485.7 296.8a1.45 1.45 0 1 0 2.9 0a1.45 1.45 0 1 0 -2.9 0zM486.3 293.0a1.45 1.45 0 1 0 2.9 0a1.45 1.45 0 1 0 -2.9 0zM487.0 293.7a1.45 1.45 0 1 0 2.9 0a1.45 1.45 0 1 0 -2.9 0zM487.6 294.0a1.45 1.45 0 1 0 2.9 0a1.45 1.45 0 1 0 -2.9 0zM488.2 295.5a1.45 1.45 0 1 0 2.9 0a1.45 1.45 0 1 0 -2.9 0zM488.8 296.5a1.45 1.45 0 1 0 2.9 0a1.45 1.45 0 1 0 -2.9 0zM489.5 297.6a1.45 1.45 0 1 0 2.9 0a1.45 1.45 0 1 0 -2.9 0zM490.1 292.0a1.45 1.45 0 1 0 2.9 0a1.45 1.45 0 1 0 -2.9 0zM490.7 302.5a1.45 1.45 0 1 0 2.9 0a1.45 1.45 0 1 0 -2.9 0zM491.3 300.2a1.45 1.45 0 1 0 2.9 0a1.45 1.45 0 1 0 -2.9 0zM492.0 299.1a1.45 1.45 0 1 0 2.9 0a1.45 1.45 0 1 0 -2.9 0zM492.6 295.9a1.45 1.45 0 1 0 2.9 0a1.45 1.45 0 1 0 -2.9 0zM493.2 297.0a1.45 1.45 0 1 0 2.9 0a1.45 1.45 0 1 0 -2.9 0zM493.8 299.2a1.45 1.45 0 1 0 2.9 0a1.45 1.45 0 1 0 -2.9 0zM494.5 299.0a1.45 1.45 0 1 0 2.9 0a1.45 1.45 0 1 0 -2.9 0zM495.1 292.8a1.45 1.45 0 1 0 2.9 0a1.45 1.45 0 1 0 -2.9 0zM495.7 300.5a1.45 1.45 0 1 0 2.9 0a1.45 1.45 0 1 0 -2.9 0zM496.3 306.6a1.45 1.45 0 1 0 2.9 0a1.45 1.45 0 1 0 -2.9 0zM497.0 293.1a1.45 1.45 0 1 0 2.9 0a1.45 1.45 0 1 0 -2.9 0zM497.6 302.1a1.45 1.45 0 1 0 2.9 0a1.45 1.45 0 1 0 -2.9 0zM498.2 300.5a1.45 1.45 0 1 0 2.9 0a1.45 1.45 0 1 0 -2.9 0zM498.8 299.3a1.45 1.45 0 1 0 2.9 0a1.45 1.45 0 1 0 -2.9 0zM499.5 304.1a1.45 1.45 0 1 0 2.9 0a1.45 1.45 0 1 0 -2.9 0zM500.1 296.5a1.45 1.45 0 1 0 2.9 0a1.45 1.45 0 1 0 -2.9 0zM500.7 300.9a1.45 1.45 0 1 0 2.9 0a1.45 1.45 0 1 0 -2.9 0zM501.3 305.2a1.45 1.45 0 1 0 2.9 0a1.45 1.45 0 1 0 -2.9 0zM502.0 300.3a1.45 1.45 0 1 0 2.9 0a1.45 1.45 0 1 0 -2.9 0zM502.6 299.9a1.45 1.45 0 1 0 2.9 0a1.45 1.45 0 1 0 -2.9 0zM503.2 301.8a1.45 1.45 0 1 0 2.9 0a1.45 1.45 0 1 0 -2.9 0zM503.8 300.3a1.45 1.45 0 1 0 2.9 0a1.45 1.45 0 1 0 -2.9 0zM504.4 306.7a1.45 1.45 0 1 0 2.9 0a1.45 1.45 0 1 0 -2.9 0zM505.1 299.3a1.45 1.45 0 1 0 2.9 0a1.45 1.45 0 1 0 -2.9 0zM505.7 305.0a1.45 1.45 0 1 0 2.9 0a1.45 1.45 0 1 0 -2.9 0zM506.3 298.6a1.45 1.45 0 1 0 2.9 0a1.45 1.45 0 1 0 -2.9 0zM506.9 304.7a1.45 1.45 0 1 0 2.9 0a1.45 1.45 0 1 0 -2.9 0zM507.6 302.5a1.45 1.45 0 1 0 2.9 0a1.45 1.45 0 1 0 -2.9 0zM508.2 295.0a1.45 1.45 0 1 0 2.9 0a1.45 1.45 0 1 0 -2.9 0zM508.8 303.0a1.45 1.45 0 1 0 2.9 0a1.45 1.45 0 1 0 -2.9 0zM509.4 299.9a1.45 1.45 0 1 0 2.9 0a1.45 1.45 0 1 0 -2.9 0zM510.1 301.9a1.45 1.45 0 1 0 2.9 0a1.45 1.45 0 1 0 -2.9 0zM510.7 308.1a1.45 1.45 0 1 0 2.9 0a1.45 1.45 0 1 0 -2.9 0zM511.3 300.0a1.45 1.45 0 1 0 2.9 0a1.45 1.45 0 1 0 -2.9 0zM511.9 300.3a1.45 1.45 0 1 0 2.9 0a1.45 1.45 0 1 0 -2.9 0zM512.6 308.1a1.45 1.45 0 1 0 2.9 0a1.45 1.45 0 1 0 -2.9 0zM513.2 304.1a1.45 1.45 0 1 0 2.9 0a1.45 1.45 0 1 0 -2.9 0zM513.8 308.6a1.45 1.45 0 1 0 2.9 0a1.45 1.45 0 1 0 -2.9 0zM514.4 304.9a1.45 1.45 0 1 0 2.9 0a1.45 1.45 0 1 0 -2.9 0zM515.1 301.3a1.45 1.45 0 1 0 2.9 0a1.45 1.45 0 1 0 -2.9 0zM515.7 303.9a1.45 1.45 0 1 0 2.9 0a1.45 1.45 0 1 0 -2.9 0zM516.3 308.0a1.45 1.45 0 1 0 2.9 0a1.45 1.45 0 1 0 -2.9 0zM516.9 307.2a1.45 1.45 0 1 0 2.9 0a1.45 1.45 0 1 0 -2.9 0zM517.6 304.4a1.45 1.45 0 1 0 2.9 0a1.45 1.45 0 1 0 -2.9 0zM518.2 304.6a1.45 1.45 0 1 0 2.9 0a1.45 1.45 0 1 0 -2.9 0zM518.8 304.2a1.45 1.45 0 1 0 2.9 0a1.45 1.45 0 1 0 -2.9 0zM519.4 302.9a1.45 1.45 0 1 0 2.9 0a1.45 1.45 0 1 0 -2.9 0zM520.1 310.7a1.45 1.45 0 1 0 2.9 0a1.45 1.45 0 1 0 -2.9 0zM520.7 304.8a1.45 1.45 0 1 0 2.9 0a1.45 1.45 0 1 0 -2.9 0zM521.3 301.4a1.45 1.45 0 1 0 2.9 0a1.45 1.45 0 1 0 -2.9 0zM521.9 303.5a1.45 1.45 0 1 0 2.9 0a1.45 1.45 0 1 0 -2.9 0zM522.6 307.3a1.45 1.45 0 1 0 2.9 0a1.45 1.45 0 1 0 -2.9 0zM523.2 307.1a1.45 1.45 0 1 0 2.9 0a1.45 1.45 0 1 0 -2.9 0zM523.8 304.8a1.45 1.45 0 1 0 2.9 0a1.45 1.45 0 1 0 -2.9 0zM524.4 303.2a1.45 1.45 0 1 0 2.9 0a1.45 1.45 0 1 0 -2.9 0zM525.1 305.4a1.45 1.45 0 1 0 2.9 0a1.45 1.45 0 1 0 -2.9 0zM525.7 300.2a1.45 1.45 0 1 0 2.9 0a1.45 1.45 0 1 0 -2.9 0zM526.3 301.4a1.45 1.45 0 1 0 2.9 0a1.45 1.45 0 1 0 -2.9 0zM526.9 308.0a1.45 1.45 0 1 0 2.9 0a1.45 1.45 0 1 0 -2.9 0zM527.6 304.1a1.45 1.45 0 1 0 2.9 0a1.45 1.45 0 1 0 -2.9 0zM528.2 306.8a1.45 1.45 0 1 0 2.9 0a1.45 1.45 0 1 0 -2.9 0zM528.8 309.4a1.45 1.45 0 1 0 2.9 0a1.45 1.45 0 1 0 -2.9 0zM529.4 307.7a1.45 1.45 0 1 0 2.9 0a1.45 1.45 0 1 0 -2.9 0zM530.1 305.8a1.45 1.45 0 1 0 2.9 0a1.45 1.45 0 1 0 -2.9 0zM530.7 312.3a1.45 1.45 0 1 0 2.9 0a1.45 1.45 0 1 0 -2.9 0zM531.3 307.9a1.45 1.45 0 1 0 2.9 0a1.45 1.45 0 1 0 -2.9 0zM531.9 304.8a1.45 1.45 0 1 0 2.9 0a1.45 1.45 0 1 0 -2.9 0zM532.6 308.1a1.45 1.45 0 1 0 2.9 0a1.45 1.45 0 1 0 -2.9 0zM533.2 307.2a1.45 1.45 0 1 0 2.9 0a1.45 1.45 0 1 0 -2.9 0zM533.8 303.3a1.45 1.45 0 1 0 2.9 0a1.45 1.45 0 1 0 -2.9 0zM534.4 306.2a1.45 1.45 0 1 0 2.9 0a1.45 1.45 0 1 0 -2.9 0zM535.1 305.5a1.45 1.45 0 1 0 2.9 0a1.45 1.45 0 1 0 -2.9 0zM535.7 299.9a1.45 1.45 0 1 0 2.9 0a1.45 1.45 0 1 0 -2.9 0zM536.3 305.5a1.45 1.45 0 1 0 2.9 0a1.45 1.45 0 1 0 -2.9 0zM536.9 305.1a1.45 1.45 0 1 0 2.9 0a1.45 1.45 0 1 0 -2.9 0zM537.5 304.6a1.45 1.45 0 1 0 2.9 0a1.45 1.45 0 1 0 -2.9 0z" fill="#7d8c1c"/>
<path d="M40.0 64.8 L40.6 74.1 L41.2 80.2 L41.9 85.6 L42.5 86.4 L43.1 96.4 L43.7 94.9 L44.4 102.2 L45.0 111.3 L45.6 109.3 L46.2 114.6 L46.9 124.5 L47.5 124.6 L48.1 129.0 L48.7 133.7 L49.4 138.4 L50.0 129.9 L50.6 135.7 L51.2 136.5 L51.9 137.6 L52.5 139.8 L53.1 141.5 L53.7 147.1 L54.4 145.8 L55.0 151.7 L55.6 155.3 L56.2 154.4 L56.9 159.3 L57.5 165.8 L58.1 163.2 L58.7 161.8 L59.4 165.9 L60.0 166.7 L60.6 177.6 L61.2 186.5 L61.9 182.3 L62.5 187.9 L63.1 196.2 L63.7 191.1 L64.4 196.3 L65.0 193.2 L65.6 196.3 L66.2 199.8 L66.9 213.8 L67.5 204.5 L68.1 205.9 L68.7 207.8 L69.4 211.6 L70.0 217.2 L70.6 217.2 L71.2 227.5 L71.9 221.6 L72.5 229.2 L73.1 226.3 L73.7 230.0 L74.3 223.2 L75.0 231.1 L75.6 233.5 L76.2 234.7 L76.8 228.2 L77.5 243.2 L78.1 239.2 L78.7 240.3 L79.3 242.3 L80.0 243.4 L80.6 247.2 L81.2 240.7 L81.8 243.1 L82.5 249.4 L83.1 249.8 L83.7 248.6 L84.3 249.0 L85.0 249.1 L85.6 253.8 L86.2 260.5 L86.8 252.0 L87.5 264.7 L88.1 263.0 L88.7 258.7 L89.3 265.4 L90.0 256.8 L90.6 256.8 L91.2 259.9 L91.8 264.9 L92.5 266.3 L93.1 266.5 L93.7 270.2 L94.3 261.4 L95.0 273.8 L95.6 266.2 L96.2 270.3 L96.8 272.2 L97.5 269.7 L98.1 269.4 L98.7 271.6 L99.3 276.5 L100.0 279.6 L100.6 279.8 L101.2 273.1 L101.8 274.2 L102.5 273.8 L103.1 280.0 L103.7 269.2 L104.3 283.8 L105.0 276.4 L105.6 275.3 L106.2 280.6 L106.8 284.2 L107.4 281.8 L108.1 285.8 L108.7 282.8 L109.3 288.7 L109.9 289.9 L110.6 285.2 L111.2 293.1 L111.8 288.7 L112.4 289.5 L113.1 286.1 L113.7 289.8 L114.3 295.5 L114.9 287.3 L115.6 297.0 L116.2 296.6 L116.8 297.3 L117.4 287.4 L118.1 297.7 L118.7 302.0 L119.3 296.7 L119.9 301.5 L120.6 291.6 L121.2 306.1 L121.8 301.2 L122.4 308.9 L123.1 298.0 L123.7 310.2 L124.3 307.2 L124.9 313.0 L125.6 306.5 L126.2 308.9 L126.8 322.5 L127.4 309.8 L128.1 310.9 L128.7 313.4 L129.3 310.6 L129.9 320.9 L130.6 323.7 L131.2 313.4 L131.8 309.3 L132.4 322.3 L133.1 322.3 L133.7 321.1 L134.3 322.6 L134.9 313.6 L135.6 316.6 L136.2 311.0 L136.8 310.7 L137.4 321.0 L138.1 313.4 L138.7 326.2 L139.3 316.2 L139.9 312.7 L140.5 318.7 L141.2 322.8 L141.8 316.6 L142.4 308.6 L143.0 315.1 L143.7 319.0 L144.3 310.3 L144.9 308.5 L145.5 315.9 L146.2 311.5 L146.8 305.5 L147.4 308.0 L148.0 305.8 L148.7 309.8 L149.3 308.4 L149.9 312.3 L150.5 309.8 L151.2 299.3 L151.8 307.4 L152.4 309.2 L153.0 306.8 L153.7 308.9 L154.3 301.6 L154.9 299.5 L155.5 307.4 L156.2 298.3 L156.8 293.2 L157.4 306.8 L158.0 298.8 L158.7 300.3 L159.3 295.2 L159.9 295.2 L160.5 294.6 L161.2 298.5 L161.8 302.0 L162.4 287.6 L163.0 303.4 L163.7 292.9 L164.3 293.2 L164.9 302.1 L165.5 297.8 L166.2 289.8 L166.8 307.3 L167.4 292.8 L168.0 298.3 L168.7 297.8 L169.3 303.9 L169.9 293.8 L170.5 301.3 L171.2 291.8 L171.8 301.3 L172.4 291.1 L173.0 293.0 L173.6 304.6 L174.3 296.0 L174.9 294.6 L175.5 305.6 L176.1 295.4 L176.8 288.8 L177.4 296.7 L178.0 286.3 L178.6 298.2 L179.3 298.3 L179.9 288.5 L180.5 287.9 L181.1 291.9 L181.8 290.7 L182.4 285.1 L183.0 293.0 L183.6 278.9 L184.3 287.1 L184.9 287.0 L185.5 287.4 L186.1 290.1 L186.8 281.7 L187.4 291.0 L188.0 286.7 L188.6 283.9 L189.3 279.8 L189.9 280.5 L190.5 288.3 L191.1 281.0 L191.8 286.1 L192.4 291.1 L193.0 290.6 L193.6 293.0 L194.3 282.9 L194.9 278.3 L195.5 289.1 L196.1 284.9 L196.8 288.8 L197.4 282.6 L198.0 288.4 L198.6 286.1 L199.3 285.0 L199.9 283.5 L200.5 282.5 L201.1 281.1 L201.8 280.6 L202.4 284.2 L203.0 275.8 L203.6 287.2 L204.3 277.0 L204.9 282.3 L205.5 276.1 L206.1 274.7 L206.7 286.3 L207.4 273.4 L208.0 267.8 L208.6 270.2 L209.2 271.8 L209.9 284.3 L210.5 273.5 L211.1 276.8 L211.7 266.0 L212.4 272.6 L213.0 273.8 L213.6 279.2 L214.2 265.5 L214.9 271.8 L215.5 269.6 L216.1 262.1 L216.7 266.8 L217.4 265.0 L218.0 253.5 L218.6 268.4 L219.2 267.5 L219.9 261.8 L220.5 256.5 L221.1 270.8 L221.7 263.9 L222.4 267.3 L223.0 268.8 L223.6 258.0 L224.2 264.5 L224.9 258.4 L225.5 258.8 L226.1 258.1 L226.7 257.9 L227.4 263.2 L228.0 257.4 L228.6 255.3 L229.2 254.0 L229.9 256.7 L230.5 249.5 L231.1 250.9 L231.7 252.6 L232.4 249.2 L233.0 250.8 L233.6 247.5 L234.2 260.5 L234.9 256.2 L235.5 250.8 L236.1 247.3 L236.7 258.3 L237.4 247.6 L238.0 244.5 L238.6 245.7 L239.2 244.7 L239.8 249.5 L240.5 240.9 L241.1 250.9 L241.7 234.0 L242.3 241.1 L243.0 230.8 L243.6 244.2 L244.2 231.1 L244.8 230.6 L245.5 233.7 L246.1 233.3 L246.7 218.6 L247.3 220.4 L248.0 212.7 L248.6 218.4 L249.2 214.7 L249.8 210.9 L250.5 206.7 L251.1 205.9 L251.7 201.8 L252.3 206.6 L253.0 209.8 L253.6 189.8 L254.2 197.6 L254.8 194.2 L255.5 197.3 L256.1 188.0 L256.7 190.5 L257.3 184.1 L258.0 191.4 L258.6 186.5 L259.2 183.3 L259.8 184.3 L260.5 179.4 L261.1 170.9 L261.7 180.8 L262.3 177.8 L263.0 174.3 L263.6 179.1 L264.2 179.2 L264.8 165.9 L265.5 166.5 L266.1 177.8 L266.7 176.2 L267.3 164.0 L268.0 160.8 L268.6 162.9 L269.2 162.9 L269.8 156.5 L270.5 164.4 L271.1 156.8 L271.7 156.6 L272.3 167.3 L272.9 158.4 L273.6 161.2 L274.2 164.5 L274.8 165.1 L275.4 158.6 L276.1 160.4 L276.7 155.7 L277.3 169.4 L277.9 164.6 L278.6 157.1 L279.2 165.1 L279.8 171.1 L280.4 172.2 L281.1 182.2 L281.7 183.0 L282.3 176.2 L282.9 182.0 L283.6 179.4 L284.2 190.8 L284.8 192.8 L285.4 208.2 L286.1 196.2 L286.7 186.3 L287.3 195.6 L287.9 201.8 L288.6 197.1 L289.2 202.5 L289.8 209.1 L290.4 217.1 L291.1 218.5 L291.7 219.0 L292.3 232.4 L292.9 229.8 L293.6 234.0 L294.2 232.7 L294.8 238.9 L295.4 249.3 L296.1 240.0 L296.7 250.5 L297.3 256.8 L297.9 253.1 L298.6 258.3 L299.2 252.9 L299.8 267.4 L300.4 268.5 L301.1 265.1 L301.7 255.3 L302.3 260.8 L302.9 273.9 L303.6 279.6 L304.2 272.8 L304.8 279.6 L305.4 270.3 L306.1 274.0 L306.7 276.4 L307.3 280.0 L307.9 270.1 L308.5 285.6 L309.2 289.0 L309.8 276.0 L310.4 275.9 L311.0 286.6 L311.7 281.6 L312.3 272.5 L312.9 291.4 L313.5 288.4 L314.2 285.4 L314.8 300.8 L315.4 290.1 L316.0 285.5 L316.7 290.9 L317.3 284.8 L317.9 286.9 L318.5 293.9 L319.2 288.9 L319.8 289.9 L320.4 302.4 L321.0 298.2 L321.7 298.2 L322.3 297.0 L322.9 297.0 L323.5 302.9 L324.2 294.8 L324.8 305.8 L325.4 289.6 L326.0 294.2 L326.7 287.5 L327.3 294.2 L327.9 299.8 L328.5 305.8 L329.2 293.0 L329.8 297.4 L330.4 295.5 L331.0 293.4 L331.7 290.9 L332.3 298.8 L332.9 288.0 L333.5 299.6 L334.2 299.3 L334.8 295.4 L335.4 293.5 L336.0 291.4 L336.7 311.7 L337.3 292.1 L337.9 310.2 L338.5 304.6 L339.2 298.9 L339.8 294.3 L340.4 308.1 L341.0 312.6 L341.6 296.5 L342.3 300.7 L342.9 309.3 L343.5 305.1 L344.1 315.7 L344.8 300.1 L345.4 307.3 L346.0 296.5 L346.6 317.4 L347.3 300.3 L347.9 291.5 L348.5 304.6 L349.1 304.8 L349.8 317.7 L350.4 304.1 L351.0 306.4 L351.6 310.4 L352.3 316.8 L352.9 306.9 L353.5 314.0 L354.1 311.1 L354.8 306.3 L355.4 308.9 L356.0 308.9 L356.6 303.3 L357.3 316.7 L357.9 300.9 L358.5 316.8 L359.1 315.7 L359.8 309.4 L360.4 305.4 L361.0 308.8 L361.6 313.3 L362.3 315.0 L362.9 312.3 L363.5 316.8 L364.1 307.4 L364.8 312.3 L365.4 301.3 L366.0 315.8 L366.6 312.1 L367.3 308.7 L367.9 318.5 L368.5 315.6 L369.1 294.8 L369.8 311.7 L370.4 302.6 L371.0 318.1 L371.6 327.0 L372.3 308.5 L372.9 312.2 L373.5 310.2 L374.1 314.0 L374.7 315.8 L375.4 319.8 L376.0 305.8 L376.6 321.6 L377.2 306.2 L377.9 313.7 L378.5 319.1 L379.1 316.4 L379.7 306.2 L380.4 307.7 L381.0 309.1 L381.6 311.7 L382.2 319.0 L382.9 304.0 L383.5 314.8 L384.1 315.6 L384.7 315.2 L385.4 314.6 L386.0 321.0 L386.6 314.6 L387.2 316.8 L387.9 314.9 L388.5 322.4 L389.1 299.5 L389.7 319.0 L390.4 309.4 L391.0 309.2 L391.6 304.8 L392.2 299.1 L392.9 308.1 L393.5 306.1 L394.1 313.3 L394.7 301.0 L395.4 318.7 L396.0 311.3 L396.6 307.8 L397.2 304.6 L397.9 303.6 L398.5 301.0 L399.1 304.1 L399.7 307.0 L400.4 305.3 L401.0 297.1 L401.6 303.7 L402.2 299.3 L402.9 305.3 L403.5 315.2 L404.1 307.0 L404.7 300.6 L405.4 291.9 L406.0 292.5 L406.6 290.2 L407.2 304.5 L407.8 294.8 L408.5 299.4 L409.1 294.7 L409.7 298.7 L410.3 306.5 L411.0 293.3 L411.6 295.2 L412.2 292.0 L412.8 302.2 L413.5 290.2 L414.1 289.4 L414.7 287.6 L415.3 287.3 L416.0 298.7 L416.6 311.4 L417.2 289.3 L417.8 301.1 L418.5 296.6 L419.1 288.0 L419.7 292.9 L420.3 292.9 L421.0 289.9 L421.6 305.8 L422.2 282.0 L422.8 295.9 L423.5 295.4 L424.1 289.6 L424.7 293.8 L425.3 298.1 L426.0 293.4 L426.6 294.9 L427.2 296.3 L427.8 279.3 L428.5 300.7 L429.1 305.4 L429.7 297.2 L430.3 297.1 L431.0 281.9 L431.6 289.6 L432.2 285.0 L432.8 286.2 L433.5 295.4 L434.1 284.2 L434.7 288.1 L435.3 276.8 L436.0 287.3 L436.6 288.5 L437.2 283.2 L437.8 282.8 L438.5 296.5 L439.1 276.9 L439.7 277.8 L440.3 279.4 L440.9 291.5 L441.6 295.7 L442.2 286.2 L442.8 278.3 L443.4 280.1 L444.1 288.5 L444.7 275.3 L445.3 289.5 L445.9 288.9 L446.6 281.6 L447.2 284.2 L447.8 284.3 L448.4 288.0 L449.1 271.3 L449.7 285.3 L450.3 275.9 L450.9 272.6 L451.6 279.1 L452.2 276.8 L452.8 270.6 L453.4 265.8 L454.1 271.0 L454.7 285.9 L455.3 288.6 L455.9 281.9 L456.6 284.7 L457.2 274.5 L457.8 278.0 L458.4 280.1 L459.1 270.1 L459.7 270.9 L460.3 279.3 L460.9 276.3 L461.6 270.4 L462.2 280.9 L462.8 276.9 L463.4 284.2 L464.1 279.0 L464.7 276.7 L465.3 279.8 L465.9 277.8 L466.6 273.9 L467.2 276.1 L467.8 283.2 L468.4 282.7 L469.1 286.0 L469.7 266.0 L470.3 276.4 L470.9 276.3 L471.6 280.5 L472.2 276.0 L472.8 275.6 L473.4 283.7 L474.0 280.7 L474.7 270.5 L475.3 286.7 L475.9 285.0 L476.5 275.4 L477.2 284.2 L477.8 274.2 L478.4 285.8 L479.0 278.4 L479.7 273.8 L480.3 277.3 L480.9 274.3 L481.5 281.4 L482.2 281.4 L482.8 280.8 L483.4 276.3 L484.0 259.3 L484.7 281.4 L485.3 265.9 L485.9 282.5 L486.5 287.4 L487.2 283.4 L487.8 279.3 L488.4 281.4 L489.0 282.2 L489.7 279.4 L490.3 279.5 L490.9 277.3 L491.5 291.2 L492.2 285.6 L492.8 291.1 L493.4 284.8 L494.0 287.7 L494.7 286.5 L495.3 290.8 L495.9 293.1 L496.5 290.6 L497.2 284.5 L497.8 284.1 L498.4 299.2 L499.0 289.0 L499.7 289.3 L500.3 300.5 L500.9 298.7 L501.5 296.0 L502.2 291.1 L502.8 307.3 L503.4 296.5 L504.0 297.8 L504.7 294.1 L505.3 287.4 L505.9 288.3 L506.5 298.7 L507.1 299.0 L507.8 295.8 L508.4 290.9 L509.0 289.9 L509.6 296.8 L510.3 290.9 L510.9 305.0 L511.5 307.3 L512.1 317.2 L512.8 308.1 L513.4 301.1 L514.0 300.9 L514.6 291.7 L515.3 304.8 L515.9 307.9 L516.5 314.9 L517.1 313.3 L517.8 313.6 L518.4 311.9 L519.0 314.8 L519.6 319.7 L520.3 305.6 L520.9 309.4 L521.5 304.3 L522.1 321.8 L522.8 320.1 L523.4 317.1 L524.0 306.1 L524.6 314.0 L525.3 311.7 L525.9 313.4 L526.5 311.8 L527.1 315.8 L527.8 310.5 L528.4 317.5 L529.0 313.9 L529.6 310.7 L530.3 311.6 L530.9 309.5 L531.5 316.6 L532.1 310.2 L532.8 313.2 L533.4 309.2 L534.0 302.7 L534.6 316.3 L535.3 304.9 L535.9 314.7 L536.5 313.0 L537.1 301.0 L537.8 304.9 L538.4 307.2 L539.0 305.3" fill="none" stroke="#5050a8" stroke-width="0.7"/>
<path d="M38.5 63.3h3.0v3.0h-3.0zM39.1 72.6h3.0v3.0h-3.0zM39.7 78.7h3.0v3.0h-3.0zM40.4 84.1h3.0v3.0h-3.0zM41.0 84.9h3.0v3.0h-3.0zM41.6 94.9h3.0v3.0h-3.0zM42.2 93.4h3.0v3.0h-3.0zM42.9 100.7h3.0v3.0h-3.0zM43.5 109.8h3.0v3.0h-3.0zM44.1 107.8h3.0v3.0h-3.0zM44.7 113.1h3.0v3.0h-3.0zM45.4 123.0h3.0v3.0h-3.0zM46.0 123.1h3.0v3.0h-3.0zM46.6 127.5h3.0v3.0h-3.0zM47.2 132.2h3.0v3.0h-3.0zM47.9 136.9h3.0v3.0h-3.0zM48.5 128.4h3.0v3.0h-3.0zM49.1 134.2h3.0v3.0h-3.0zM49.7 135.0h3.0v3.0h-3.0zM50.4 136.1h3.0v3.0h-3.0zM51.0 138.3h3.0v3.0h-3.0zM51.6 140.0h3.0v3.0h-3.0zM52.2 145.6h3.0v3.0h-3.0zM52.9 144.3h3.0v3.0h-3.0zM53.5 150.2h3.0v3.0h-3.0zM54.1 153.8h3.0v3.0h-3.0zM54.7 152.9h3.0v3.0h-3.0zM55.4 157.8h3.0v3.0h-3.0zM56.0 164.3h3.0v3.0h-3.0zM56.6 161.7h3.0v3.0h-3.0zM57.2 160.3h3.0v3.0h-3.0zM57.9 164.4h3.0v3.0h-3.0zM58.5 165.2h3.0v3.0h-3.0zM59.1 176.1h3.0v3.0h-3.0zM59.7 185.0h3.0v3.0h-3.0zM60.4 180.8h3.0v3.0h-3.0zM61.0 186.4h3.0v3.0h-3.0zM61.6 194.7h3.0v3.0h-3.0zM62.2 189.6h3.0v3.0h-3.0zM62.9 194.8h3.0v3.0h-3.0zM63.5 191.7h3.0v3.0h-3.0zM64.1 194.8h3.0v3.0h-3.0zM64.7 198.3h3.0v3.0h-3.0zM65.4 212.3h3.0v3.0h-3.0zM66.0 203.0h3.0v3.0h-3.0zM66.6 204.4h3.0v3.0h-3.0zM67.2 206.3h3.0v3.0h-3.0zM67.9 210.1h3.0v3.0h-3.0zM68.5 215.7h3.0v3.0h-3.0zM69.1 215.7h3.0v3.0h-3.0zM69.7 226.0h3.0v3.0h-3.0zM70.4 220.1h3.0v3.0h-3.0zM71.0 227.7h3.0v3.0h-3.0zM71.6 224.8h3.0v3.0h-3.0zM72.2 228.5h3.0v3.0h-3.0zM72.8 221.7h3.0v3.0h-3.0zM73.5 229.6h3.0v3.0h-3.0zM74.1 232.0h3.0v3.0h-3.0zM74.7 233.2h3.0v3.0h-3.0zM75.3 226.7h3.0v3.0h-3.0zM76.0 241.7h3.0v3.0h-3.0zM76.6 237.7h3.0v3.0h-3.0zM77.2 238.8h3.0v3.0h-3.0zM77.8 240.8h3.0v3.0h-3.0zM78.5 241.9h3.0v3.0h-3.0zM79.1 245.7h3.0v3.0h-3.0zM79.7 239.2h3.0v3.0h-3.0zM80.3 241.6h3.0v3.0h-3.0zM81.0 247.9h3.0v3.0h-3.0zM81.6 248.3h3.0v3.0h-3.0zM82.2 247.1h3.0v3.0h-3.0zM82.8 247.5h3.0v3.0h-3.0zM83.5 247.6h3.0v3.0h-3.0zM84.1 252.3h3.0v3.0h-3.0zM84.7 259.0h3.0v3.0h-3.0zM85.3 250.5h3.0v3.0h-3.0zM86.0 263.2h3.0v3.0h-3.0zM86.6 261.5h3.0v3.0h-3.0zM87.2 257.2h3.0v3.0h-3.0zM87.8 263.9h3.0v3.0h-3.0zM88.5 255.3h3.0v3.0h-3.0zM89.1 255.3h3.0v3.0h-3.0zM89.7 258.4h3.0v3.0h-3.0zM90.3 263.4h3.0v3.0h-3.0zM91.0 264.8h3.0v3.0h-3.0zM91.6 265.0h3.0v3.0h-3.0zM92.2 268.7h3.0v3.0h-3.0zM92.8 259.9h3.0v3.0h-3.0zM93.5 272.3h3.0v3.0h-3.0zM94.1 264.7h3.0v3.0h-3.0zM94.7 268.8h3.0v3.0h-3.0zM95.3 270.7h3.0v3.0h-3.0zM96.0 268.2h3.0v3.0h-3.0zM96.6 267.9h3.0v3.0h-3.0zM97.2 270.1h3.0v3.0h-3.0zM97.8 275.0h3.0v3.0h-3.0zM98.5 278.1h3.0v3.0h-3.0zM99.1 278.3h3.0v3.0h-3.0zM99.7 271.6h3.0v3.0h-3.0zM100.3 272.7h3.0v3.0h-3.0zM101.0 272.3h3.0v3.0h-3.0zM101.6 278.5h3.0v3.0h-3.0zM102.2 267.7h3.0v3.0h-3.0zM102.8 282.3h3.0v3.0h-3.0zM103.5 274.9h3.0v3.0h-3.0zM104.1 273.8h3.0v3.0h-3.0zM104.7 279.1h3.0v3.0h-3.0zM105.3 282.7h3.0v3.0h-3.0zM105.9 280.3h3.0v3.0h-3.0zM106.6 284.3h3.0v3.0h-3.0zM107.2 281.3h3.0v3.0h-3.0zM107.8 287.2h3.0v3.0h-3.0zM108.4 288.4h3.0v3.0h-3.0zM109.1 283.7h3.0v3.0h-3.0zM109.7 291.6h3.0v3.0h-3.0zM110.3 287.2h3.0v3.0h-3.0zM110.9 288.0h3.0v3.0h-3.0zM111.6 284.6h3.0v3.0h-3.0zM112.2 288.3h3.0v3.0h-3.0zM112.8 294.0h3.0v3.0h-3.0zM113.4 285.8h3.0v3.0h-3.0zM114.1 295.5h3.0v3.0h-3.0zM114.7 295.1h3.0v3.0h-3.0zM115.3 295.8h3.0v3.0h-3.0zM115.9 285.9h3.0v3.0h-3.0zM116.6 296.2h3.0v3.0h-3.0zM117.2 300.5h3.0v3.0h-3.0zM117.8 295.2h3.0v3.0h-3.0zM118.4 300.0h3.0v3.0h-3.0zM119.1 290.1h3.0v3.0h-3.0zM119.7 304.6h3.0v3.0h-3.0zM120.3 299.7h3.0v3.0h-3.0zM120.9 307.4h3.0v3.0h-3.0zM121.6 296.5h3.0v3.0h-3.0zM122.2 308.7h3.0v3.0h-3.0zM122.8 305.7h3.0v3.0h-3.0zM123.4 311.5h3.0v3.0h-3.0zM124.1 305.0h3.0v3.0h-3.0zM124.7 307.4h3.0v3.0h-3.0zM125.3 321.0h3.0v3.0h-3.0zM125.9 308.3h3.0v3.0h-3.0zM126.6 309.4h3.0v3.0h-3.0zM127.2 311.9h3.0v3.0h-3.0zM127.8 309.1h3.0v3.0h-3.0zM128.4 319.4h3.0v3.0h-3.0zM129.1 322.2h3.0v3.0h-3.0zM129.7 311.9h3.0v3.0h-3.0zM130.3 307.8h3.0v3.0h-3.0zM130.9 320.8h3.0v3.0h-3.0zM131.6 320.8h3.0v3.0h-3.0zM132.2 319.6h3.0v3.0h-3.0zM132.8 321.1h3.0v3.0h-3.0zM133.4 312.1h3.0v3.0h-3.0zM134.1 315.1h3.0v3.0h-3.0zM134.7 309.5h3.0v3.0h-3.0zM135.3 309.2h3.0v3.0h-3.0zM135.9 319.5h3.0v3.0h-3.0zM136.6 311.9h3.0v3.0h-3.0zM137.2 324.7h3.0v3.0h-3.0zM137.8 314.7h3.0v3.0h-3.0zM138.4 311.2h3.0v3.0h-3.0zM139.0 317.2h3.0v3.0h-3.0zM139.7 321.3h3.0v3.0h-3.0zM140.3 315.1h3.0v3.0h-3.0zM140.9 307.1h3.0v3.0h-3.0zM141.5 313.6h3.0v3.0h-3.0zM142.2 317.5h3.0v3.0h-3.0zM142.8 308.8h3.0v3.0h-3.0zM143.4 307.0h3.0v3.0h-3.0zM144.0 314.4h3.0v3.0h-3.0zM144.7 310.0h3.0v3.0h-3.0zM145.3 304.0h3.0v3.0h-3.0zM145.9 306.5h3.0v3.0h-3.0zM146.5 304.3h3.0v3.0h-3.0zM147.2 308.3h3.0v3.0h-3.0zM147.8 306.9h3.0v3.0h-3.0zM148.4 310.8h3.0v3.0h-3.0zM149.0 308.3h3.0v3.0h-3.0zM149.7 297.8h3.0v3.0h-3.0zM150.3 305.9h3.0v3.0h-3.0zM150.9 307.7h3.0v3.0h-3.0zM151.5 305.3h3.0v3.0h-3.0zM152.2 307.4h3.0v3.0h-3.0zM152.8 300.1h3.0v3.0h-3.0zM153.4 298.0h3.0v3.0h-3.0zM154.0 305.9h3.0v3.0h-3.0zM154.7 296.8h3.0v3.0h-3.0zM155.3 291.7h3.0v3.0h-3.0zM155.9 305.3h3.0v3.0h-3.0zM156.5 297.3h3.0v3.0h-3.0zM157.2 298.8h3.0v3.0h-3.0zM157.8 293.7h3.0v3.0h-3.0zM158.4 293.7h3.0v3.0h-3.0zM159.0 293.1h3.0v3.0h-3.0zM159.7 297.0h3.0v3.0h-3.0zM160.3 300.5h3.0v3.0h-3.0zM160.9 286.1h3.0v3.0h-3.0zM161.5 301.9h3.0v3.0h-3.0zM162.2 291.4h3.0v3.0h-3.0zM162.8 291.7h3.0v3.0h-3.0zM163.4 300.6h3.0v3.0h-3.0zM164.0 296.3h3.0v3.0h-3.0zM164.7 288.3h3.0v3.0h-3.0zM165.3 305.8h3.0v3.0h-3.0zM165.9 291.3h3.0v3.0h-3.0zM166.5 296.8h3.0v3.0h-3.0zM167.2 296.3h3.0v3.0h-3.0zM167.8 302.4h3.0v3.0h-3.0zM168.4 292.3h3.0v3.0h-3.0zM169.0 299.8h3.0v3.0h-3.0zM169.7 290.3h3.0v3.0h-3.0zM170.3 299.8h3.0v3.0h-3.0zM170.9 289.6h3.0v3.0h-3.0zM171.5 291.5h3.0v3.0h-3.0zM172.1 303.1h3.0v3.0h-3.0zM172.8 294.5h3.0v3.0h-3.0zM173.4 293.1h3.0v3.0h-3.0zM174.0 304.1h3.0v3.0h-3.0zM174.6 293.9h3.0v3.0h-3.0zM175.3 287.3h3.0v3.0h-3.0zM175.9 295.2h3.0v3.0h-3.0zM176.5 284.8h3.0v3.0h-3.0zM177.1 296.7h3.0v3.0h-3.0zM177.8 296.8h3.0v3.0h-3.0zM178.4 287.0h3.0v3.0h-3.0zM179.0 286.4h3.0v3.0h-3.0zM179.6 290.4h3.0v3.0h-3.0zM180.3 289.2h3.0v3.0h-3.0zM180.9 283.6h3.0v3.0h-3.0zM181.5 291.5h3.0v3.0h-3.0zM182.1 277.4h3.0v3.0h-3.0zM182.8 285.6h3.0v3.0h-3.0zM183.4 285.5h3.0v3.0h-3.0zM184.0 285.9h3.0v3.0h-3.0zM184.6 288.6h3.0v3.0h-3.0zM185.3 280.2h3.0v3.0h-3.0zM185.9 289.5h3.0v3.0h-3.0zM186.5 285.2h3.0v3.0h-3.0zM187.1 282.4h3.0v3.0h-3.0zM187.8 278.3h3.0v3.0h-3.0zM188.4 279.0h3.0v3.0h-3.0zM189.0 286.8h3.0v3.0h-3.0zM189.6 279.5h3.0v3.0h-3.0zM190.3 284.6h3.0v3.0h-3.0zM190.9 289.6h3.0v3.0h-3.0zM191.5 289.1h3.0v3.0h-3.0zM192.1 291.5h3.0v3.0h-3.0zM192.8 281.4h3.0v3.0h-3.0zM193.4 276.8h3.0v3.0h-3.0zM194.0 287.6h3.0v3.0h-3.0zM194.6 283.4h3.0v3.0h-3.0zM195.3 287.3h3.0v3.0h-3.0zM195.9 281.1h3.0v3.0h-3.0zM196.5 286.9h3.0v3.0h-3.0zM197.1 284.6h3.0v3.0h-3.0zM197.8 283.5h3.0v3.0h-3.0zM198.4 282.0h3.0v3.0h-3.0zM199.0 281.0h3.0v3.0h-3.0zM199.6 279.6h3.0v3.0h-3.0zM200.3 279.1h3.0v3.0h-3.0zM200.9 282.7h3.0v3.0h-3.0zM201.5 274.3h3.0v3.0h-3.0zM202.1 285.7h3.0v3.0h-3.0zM202.8 275.5h3.0v3.0h-3.0zM203.4 280.8h3.0v3.0h-3.0zM204.0 274.6h3.0v3.0h-3.0zM204.6 273.2h3.0v3.0h-3.0zM205.2 284.8h3.0v3.0h-3.0zM205.9 271.9h3.0v3.0h-3.0zM206.5 266.3h3.0v3.0h-3.0zM207.1 268.7h3.0v3.0h-3.0zM207.7 270.3h3.0v3.0h-3.0zM208.4 282.8h3.0v3.0h-3.0zM209.0 272.0h3.0v3.0h-3.0zM209.6 275.3h3.0v3.0h-3.0zM210.2 264.5h3.0v3.0h-3.0zM210.9 271.1h3.0v3.0h-3.0zM211.5 272.3h3.0v3.0h-3.0zM212.1 277.7h3.0v3.0h-3.0zM212.7 264.0h3.0v3.0h-3.0zM213.4 270.3h3.0v3.0h-3.0zM214.0 268.1h3.0v3.0h-3.0zM214.6 260.6h3.0v3.0h-3.0zM215.2 265.3h3.0v3.0h-3.0zM215.9 263.5h3.0v3.0h-3.0zM216.5 252.0h3.0v3.0h-3.0zM217.1 266.9h3.0v3.0h-3.0zM217.7 266.0h3.0v3.0h-3.0zM218.4 260.3h3.0v3.0h-3.0zM219.0 255.0h3.0v3.0h-3.0zM219.6 269.3h3.0v3.0h-3.0zM220.2 262.4h3.0v3.0h-3.0zM220.9 265.8h3.0v3.0h-3.0zM221.5 267.3h3.0v3.0h-3.0zM222.1 256.5h3.0v3.0h-3.0zM222.7 263.0h3.0v3.0h-3.0zM223.4 256.9h3.0v3.0h-3.0zM224.0 257.3h3.0v3.0h-3.0zM224.6 256.6h3.0v3.0h-3.0zM225.2 256.4h3.0v3.0h-3.0zM225.9 261.7h3.0v3.0h-3.0zM226.5 255.9h3.0v3.0h-3.0zM227.1 253.8h3.0v3.0h-3.0zM227.7 252.5h3.0v3.0h-3.0zM228.4 255.2h3.0v3.0h-3.0zM229.0 248.0h3.0v3.0h-3.0zM229.6 249.4h3.0v3.0h-3.0zM230.2 251.1h3.0v3.0h-3.0zM230.9 247.7h3.0v3.0h-3.0zM231.5 249.3h3.0v3.0h-3.0zM232.1 246.0h3.0v3.0h-3.0zM232.7 259.0h3.0v3.0h-3.0zM233.4 254.7h3.0v3.0h-3.0zM234.0 249.3h3.0v3.0h-3.0zM234.6 245.8h3.0v3.0h-3.0zM235.2 256.8h3.0v3.0h-3.0zM235.9 246.1h3.0v3.0h-3.0zM236.5 243.0h3.0v3.0h-3.0zM237.1 244.2h3.0v3.0h-3.0zM237.7 243.2h3.0v3.0h-3.0zM238.3 248.0h3.0v3.0h-3.0zM239.0 239.4h3.0v3.0h-3.0zM239.6 249.4h3.0v3.0h-3.0zM240.2 232.5h3.0v3.0h-3.0zM240.8 239.6h3.0v3.0h-3.0zM241.5 229.3h3.0v3.0h-3.0zM242.1 242.7h3.0v3.0h-3.0zM242.7 229.6h3.0v3.0h-3.0zM243.3 229.1h3.0v3.0h-3.0zM244.0 232.2h3.0v3.0h-3.0zM244.6 231.8h3.0v3.0h-3.0zM245.2 217.1h3.0v3.0h-3.0zM245.8 218.9h3.0v3.0h-3.0zM246.5 211.2h3.0v3.0h-3.0zM247.1 216.9h3.0v3.0h-3.0zM247.7 213.2h3.0v3.0h-3.0zM248.3 209.4h3.0v3.0h-3.0zM249.0 205.2h3.0v3.0h-3.0zM249.6 204.4h3.0v3.0h-3.0zM250.2 200.3h3.0v3.0h-3.0zM250.8 205.1h3.0v3.0h-3.0zM251.5 208.3h3.0v3.0h-3.0zM252.1 188.3h3.0v3.0h-3.0zM252.7 196.1h3.0v3.0h-3.0zM253.3 192.7h3.0v3.0h-3.0zM254.0 195.8h3.0v3.0h-3.0zM254.6 186.5h3.0v3.0h-3.0zM255.2 189.0h3.0v3.0h-3.0zM255.8 182.6h3.0v3.0h-3.0zM256.5 189.9h3.0v3.0h-3.0zM257.1 185.0h3.0v3.0h-3.0zM257.7 181.8h3.0v3.0h-3.0zM258.3 182.8h3.0v3.0h-3.0zM259.0 177.9h3.0v3.0h-3.0zM259.6 169.4h3.0v3.0h-3.0zM260.2 179.3h3.0v3.0h-3.0zM260.8 176.3h3.0v3.0h-3.0zM261.5 172.8h3.0v3.0h-3.0zM262.1 177.6h3.0v3.0h-3.0zM262.7 177.7h3.0v3.0h-3.0zM263.3 164.4h3.0v3.0h-3.0zM264.0 165.0h3.0v3.0h-3.0zM264.6 176.3h3.0v3.0h-3.0zM265.2 174.7h3.0v3.0h-3.0zM265.8 162.5h3.0v3.0h-3.0zM266.5 159.3h3.0v3.0h-3.0zM267.1 161.4h3.0v3.0h-3.0zM267.7 161.4h3.0v3.0h-3.0zM268.3 155.0h3.0v3.0h-3.0zM269.0 162.9h3.0v3.0h-3.0zM269.6 155.3h3.0v3.0h-3.0zM270.2 155.1h3.0v3.0h-3.0zM270.8 165.8h3.0v3.0h-3.0zM271.4 156.9h3.0v3.0h-3.0zM272.1 159.7h3.0v3.0h-3.0zM272.7 163.0h3.0v3.0h-3.0zM273.3 163.6h3.0v3.0h-3.0zM273.9 157.1h3.0v3.0h-3.0zM274.6 158.9h3.0v3.0h-3.0zM275.2 154.2h3.0v3.0h-3.0zM275.8 167.9h3.0v3.0h-3.0zM276.4 163.1h3.0v3.0h-3.0zM277.1 155.6h3.0v3.0h-3.0zM277.7 163.6h3.0v3.0h-3.0zM278.3 169.6h3.0v3.0h-3.0zM278.9 170.7h3.0v3.0h-3.0zM279.6 180.7h3.0v3.0h-3.0zM280.2 181.5h3.0v3.0h-3.0zM280.8 174.7h3.0v3.0h-3.0zM281.4 180.5h3.0v3.0h-3.0zM282.1 177.9h3.0v3.0h-3.0zM282.7 189.3h3.0v3.0h-3.0zM283.3 191.3h3.0v3.0h-3.0zM283.9 206.7h3.0v3.0h-3.0zM284.6 194.7h3.0v3.0h-3.0zM285.2 184.8h3.0v3.0h-3.0zM285.8 194.1h3.0v3.0h-3.0zM286.4 200.3h3.0v3.0h-3.0zM287.1 195.6h3.0v3.0h-3.0zM287.7 201.0h3.0v3.0h-3.0zM288.3 207.6h3.0v3.0h-3.0zM288.9 215.6h3.0v3.0h-3.0zM289.6 217.0h3.0v3.0h-3.0zM290.2 217.5h3.0v3.0h-3.0zM290.8 230.9h3.0v3.0h-3.0zM291.4 228.3h3.0v3.0h-3.0zM292.1 232.5h3.0v3.0h-3.0zM292.7 231.2h3.0v3.0h-3.0zM293.3 237.4h3.0v3.0h-3.0zM293.9 247.8h3.0v3.0h-3.0zM294.6 238.5h3.0v3.0h-3.0zM295.2 249.0h3.0v3.0h-3.0zM295.8 255.3h3.0v3.0h-3.0zM296.4 251.6h3.0v3.0h-3.0zM297.1 256.8h3.0v3.0h-3.0zM297.7 251.4h3.0v3.0h-3.0zM298.3 265.9h3.0v3.0h-3.0zM298.9 267.0h3.0v3.0h-3.0zM299.6 263.6h3.0v3.0h-3.0zM300.2 253.8h3.0v3.0h-3.0zM300.8 259.3h3.0v3.0h-3.0zM301.4 272.4h3.0v3.0h-3.0zM302.1 278.1h3.0v3.0h-3.0zM302.7 271.3h3.0v3.0h-3.0zM303.3 278.1h3.0v3.0h-3.0zM303.9 268.8h3.0v3.0h-3.0zM304.6 272.5h3.0v3.0h-3.0zM305.2 274.9h3.0v3.0h-3.0zM305.8 278.5h3.0v3.0h-3.0zM306.4 268.6h3.0v3.0h-3.0zM307.0 284.1h3.0v3.0h-3.0zM307.7 287.5h3.0v3.0h-3.0zM308.3 274.5h3.0v3.0h-3.0zM308.9 274.4h3.0v3.0h-3.0zM309.5 285.1h3.0v3.0h-3.0zM310.2 280.1h3.0v3.0h-3.0zM310.8 271.0h3.0v3.0h-3.0zM311.4 289.9h3.0v3.0h-3.0zM312.0 286.9h3.0v3.0h-3.0zM312.7 283.9h3.0v3.0h-3.0zM313.3 299.3h3.0v3.0h-3.0zM313.9 288.6h3.0v3.0h-3.0zM314.5 284.0h3.0v3.0h-3.0zM315.2 289.4h3.0v3.0h-3.0zM315.8 283.3h3.0v3.0h-3.0zM316.4 285.4h3.0v3.0h-3.0zM317.0 292.4h3.0v3.0h-3.0zM317.7 287.4h3.0v3.0h-3.0zM318.3 288.4h3.0v3.0h-3.0zM318.9 300.9h3.0v3.0h-3.0zM319.5 296.7h3.0v3.0h-3.0zM320.2 296.7h3.0v3.0h-3.0zM320.8 295.5h3.0v3.0h-3.0zM321.4 295.5h3.0v3.0h-3.0zM322.0 301.4h3.0v3.0h-3.0zM322.7 293.3h3.0v3.0h-3.0zM323.3 304.3h3.0v3.0h-3.0zM323.9 288.1h3.0v3.0h-3.0zM324.5 292.7h3.0v3.0h-3.0zM325.2 286.0h3.0v3.0h-3.0zM325.8 292.7h3.0v3.0h-3.0zM326.4 298.3h3.0v3.0h-3.0zM327.0 304.3h3.0v3.0h-3.0zM327.7 291.5h3.0v3.0h-3.0zM328.3 295.9h3.0v3.0h-3.0zM328.9 294.0h3.0v3.0h-3.0zM329.5 291.9h3.0v3.0h-3.0zM330.2 289.4h3.0v3.0h-3.0zM330.8 297.3h3.0v3.0h-3.0zM331.4 286.5h3.0v3.0h-3.0zM332.0 298.1h3.0v3.0h-3.0zM332.7 297.8h3.0v3.0h-3.0zM333.3 293.9h3.0v3.0h-3.0zM333.9 292.0h3.0v3.0h-3.0zM334.5 289.9h3.0v3.0h-3.0zM335.2 310.2h3.0v3.0h-3.0zM335.8 290.6h3.0v3.0h-3.0zM336.4 308.7h3.0v3.0h-3.0zM337.0 303.1h3.0v3.0h-3.0zM337.7 297.4h3.0v3.0h-3.0zM338.3 292.8h3.0v3.0h-3.0zM338.9 306.6h3.0v3.0h-3.0zM339.5 311.1h3.0v3.0h-3.0zM340.1 295.0h3.0v3.0h-3.0zM340.8 299.2h3.0v3.0h-3.0zM341.4 307.8h3.0v3.0h-3.0zM342.0 303.6h3.0v3.0h-3.0zM342.6 314.2h3.0v3.0h-3.0zM343.3 298.6h3.0v3.0h-3.0zM343.9 305.8h3.0v3.0h-3.0zM344.5 295.0h3.0v3.0h-3.0zM345.1 315.9h3.0v3.0h-3.0zM345.8 298.8h3.0v3.0h-3.0zM346.4 290.0h3.0v3.0h-3.0zM347.0 303.1h3.0v3.0h-3.0zM347.6 303.3h3.0v3.0h-3.0zM348.3 316.2h3.0v3.0h-3.0zM348.9 302.6h3.0v3.0h-3.0zM349.5 304.9h3.0v3.0h-3.0zM350.1 308.9h3.0v3.0h-3.0zM350.8 315.3h3.0v3.0h-3.0zM351.4 305.4h3.0v3.0h-3.0zM352.0 312.5h3.0v3.0h-3.0zM352.6 309.6h3.0v3.0h-3.0zM353.3 304.8h3.0v3.0h-3.0zM353.9 307.4h3.0v3.0h-3.0zM354.5 307.4h3.0v3.0h-3.0zM355.1 301.8h3.0v3.0h-3.0zM355.8 315.2h3.0v3.0h-3.0zM356.4 299.4h3.0v3.0h-3.0zM357.0 315.3h3.0v3.0h-3.0zM357.6 314.2h3.0v3.0h-3.0zM358.3 307.9h3.0v3.0h-3.0zM358.9 303.9h3.0v3.0h-3.0zM359.5 307.3h3.0v3.0h-3.0zM360.1 311.8h3.0v3.0h-3.0zM360.8 313.5h3.0v3.0h-3.0zM361.4 310.8h3.0v3.0h-3.0zM362.0 315.3h3.0v3.0h-3.0zM362.6 305.9h3.0v3.0h-3.0zM363.3 310.8h3.0v3.0h-3.0zM363.9 299.8h3.0v3.0h-3.0zM364.5 314.3h3.0v3.0h-3.0zM365.1 310.6h3.0v3.0h-3.0zM365.8 307.2h3.0v3.0h-3.0zM366.4 317.0h3.0v3.0h-3.0zM367.0 314.1h3.0v3.0h-3.0zM367.6 293.3h3.0v3.0h-3.0zM368.3 310.2h3.0v3.0h-3.0zM368.9 301.1h3.0v3.0h-3.0zM369.5 316.6h3.0v3.0h-3.0zM370.1 325.5h3.0v3.0h-3.0zM370.8 307.0h3.0v3.0h-3.0zM371.4 310.7h3.0v3.0h-3.0zM372.0 308.7h3.0v3.0h-3.0zM372.6 312.5h3.0v3.0h-3.0zM373.2 314.3h3.0v3.0h-3.0zM373.9 318.3h3.0v3.0h-3.0zM374.5 304.3h3.0v3.0h-3.0zM375.1 320.1h3.0v3.0h-3.0zM375.7 304.7h3.0v3.0h-3.0zM376.4 312.2h3.0v3.0h-3.0zM377.0 317.6h3.0v3.0h-3.0zM377.6 314.9h3.0v3.0h-3.0zM378.2 304.7h3.0v3.0h-3.0zM378.9 306.2h3.0v3.0h-3.0zM379.5 307.6h3.0v3.0h-3.0zM380.1 310.2h3.0v3.0h-3.0zM380.7 317.5h3.0v3.0h-3.0zM381.4 302.5h3.0v3.0h-3.0zM382.0 313.3h3.0v3.0h-3.0zM382.6 314.1h3.0v3.0h-3.0zM383.2 313.7h3.0v3.0h-3.0zM383.9 313.1h3.0v3.0h-3.0zM384.5 319.5h3.0v3.0h-3.0zM385.1 313.1h3.0v3.0h-3.0zM385.7 315.3h3.0v3.0h-3.0zM386.4 313.4h3.0v3.0h-3.0zM387.0 320.9h3.0v3.0h-3.0zM387.6 298.0h3.0v3.0h-3.0zM388.2 317.5h3.0v3.0h-3.0zM388.9 307.9h3.0v3.0h-3.0zM389.5 307.7h3.0v3.0h-3.0zM390.1 303.3h3.0v3.0h-3.0zM390.7 297.6h3.0v3.0h-3.0zM391.4 306.6h3.0v3.0h-3.0zM392.0 304.6h3.0v3.0h-3.0zM392.6 311.8h3.0v3.0h-3.0zM393.2 299.5h3.0v3.0h-3.0zM393.9 317.2h3.0v3.0h-3.0zM394.5 309.8h3.0v3.0h-3.0zM395.1 306.3h3.0v3.0h-3.0zM395.7 303.1h3.0v3.0h-3.0zM396.4 302.1h3.0v3.0h-3.0zM397.0 299.5h3.0v3.0h-3.0zM397.6 302.6h3.0v3.0h-3.0zM398.2 305.5h3.0v3.0h-3.0zM398.9 303.8h3.0v3.0h-3.0zM399.5 295.6h3.0v3.0h-3.0zM400.1 302.2h3.0v3.0h-3.0zM400.7 297.8h3.0v3.0h-3.0zM401.4 303.8h3.0v3.0h-3.0zM402.0 313.7h3.0v3.0h-3.0zM402.6 305.5h3.0v3.0h-3.0zM403.2 299.1h3.0v3.0h-3.0zM403.9 290.4h3.0v3.0h-3.0zM404.5 291.0h3.0v3.0h-3.0zM405.1 288.7h3.0v3.0h-3.0zM405.7 303.0h3.0v3.0h-3.0zM406.3 293.3h3.0v3.0h-3.0zM407.0 297.9h3.0v3.0h-3.0zM407.6 293.2h3.0v3.0h-3.0zM408.2 297.2h3.0v3.0h-3.0zM408.8 305.0h3.0v3.0h-3.0zM409.5 291.8h3.0v3.0h-3.0zM410.1 293.7h3.0v3.0h-3.0zM410.7 290.5h3.0v3.0h-3.0zM411.3 300.7h3.0v3.0h-3.0zM412.0 288.7h3.0v3.0h-3.0zM412.6 287.9h3.0v3.0h-3.0zM413.2 286.1h3.0v3.0h-3.0zM413.8 285.8h3.0v3.0h-3.0zM414.5 297.2h3.0v3.0h-3.0zM415.1 309.9h3.0v3.0h-3.0zM415.7 287.8h3.0v3.0h-3.0zM416.3 299.6h3.0v3.0h-3.0zM417.0 295.1h3.0v3.0h-3.0zM417.6 286.5h3.0v3.0h-3.0zM418.2 291.4h3.0v3.0h-3.0zM418.8 291.4h3.0v3.0h-3.0zM419.5 288.4h3.0v3.0h-3.0zM420.1 304.3h3.0v3.0h-3.0zM420.7 280.5h3.0v3.0h-3.0zM421.3 294.4h3.0v3.0h-3.0zM422.0 293.9h3.0v3.0h-3.0zM422.6 288.1h3.0v3.0h-3.0zM423.2 292.3h3.0v3.0h-3.0zM423.8 296.6h3.0v3.0h-3.0zM424.5 291.9h3.0v3.0h-3.0zM425.1 293.4h3.0v3.0h-3.0zM425.7 294.8h3.0v3.0h-3.0zM426.3 277.8h3.0v3.0h-3.0zM427.0 299.2h3.0v3.0h-3.0zM427.6 303.9h3.0v3.0h-3.0zM428.2 295.7h3.0v3.0h-3.0zM428.8 295.6h3.0v3.0h-3.0zM429.5 280.4h3.0v3.0h-3.0zM430.1 288.1h3.0v3.0h-3.0zM430.7 283.5h3.0v3.0h-3.0zM431.3 284.7h3.0v3.0h-3.0zM432.0 293.9h3.0v3.0h-3.0zM432.6 282.7h3.0v3.0h-3.0zM433.2 286.6h3.0v3.0h-3.0zM433.8 275.3h3.0v3.0h-3.0zM434.5 285.8h3.0v3.0h-3.0zM435.1 287.0h3.0v3.0h-3.0zM435.7 281.7h3.0v3.0h-3.0zM436.3 281.3h3.0v3.0h-3.0zM437.0 295.0h3.0v3.0h-3.0zM437.6 275.4h3.0v3.0h-3.0zM438.2 276.3h3.0v3.0h-3.0zM438.8 277.9h3.0v3.0h-3.0zM439.4 290.0h3.0v3.0h-3.0zM440.1 294.2h3.0v3.0h-3.0zM440.7 284.7h3.0v3.0h-3.0zM441.3 276.8h3.0v3.0h-3.0zM441.9 278.6h3.0v3.0h-3.0zM442.6 287.0h3.0v3.0h-3.0zM443.2 273.8h3.0v3.0h-3.0zM443.8 288.0h3.0v3.0h-3.0zM444.4 287.4h3.0v3.0h-3.0zM445.1 280.1h3.0v3.0h-3.0zM445.7 282.7h3.0v3.0h-3.0zM446.3 282.8h3.0v3.0h-3.0zM446.9 286.5h3.0v3.0h-3.0zM447.6 269.8h3.0v3.0h-3.0zM448.2 283.8h3.0v3.0h-3.0zM448.8 274.4h3.0v3.0h-3.0zM449.4 271.1h3.0v3.0h-3.0zM450.1 277.6h3.0v3.0h-3.0zM450.7 275.3h3.0v3.0h-3.0zM451.3 269.1h3.0v3.0h-3.0zM451.9 264.3h3.0v3.0h-3.0zM452.6 269.5h3.0v3.0h-3.0zM453.2 284.4h3.0v3.0h-3.0zM453.8 287.1h3.0v3.0h-3.0zM454.4 280.4h3.0v3.0h-3.0zM455.1 283.2h3.0v3.0h-3.0zM455.7 273.0h3.0v3.0h-3.0zM456.3 276.5h3.0v3.0h-3.0zM456.9 278.6h3.0v3.0h-3.0zM457.6 268.6h3.0v3.0h-3.0zM458.2 269.4h3.0v3.0h-3.0zM458.8 277.8h3.0v3.0h-3.0zM459.4 274.8h3.0v3.0h-3.0zM460.1 268.9h3.0v3.0h-3.0zM460.7 279.4h3.0v3.0h-3.0zM461.3 275.4h3.0v3.0h-3.0zM461.9 282.7h3.0v3.0h-3.0zM462.6 277.5h3.0v3.0h-3.0zM463.2 275.2h3.0v3.0h-3.0zM463.8 278.3h3.0v3.0h-3.0zM464.4 276.3h3.0v3.0h-3.0zM465.1 272.4h3.0v3.0h-3.0zM465.7 274.6h3.0v3.0h-3.0zM466.3 281.7h3.0v3.0h-3.0zM466.9 281.2h3.0v3.0h-3.0zM467.6 284.5h3.0v3.0h-3.0zM468.2 264.5h3.0v3.0h-3.0zM468.8 274.9h3.0v3.0h-3.0zM469.4 274.8h3.0v3.0h-3.0zM470.1 279.0h3.0v3.0h-3.0zM470.7 274.5h3.0v3.0h-3.0zM471.3 274.1h3.0v3.0h-3.0zM471.9 282.2h3.0v3.0h-3.0zM472.5 279.2h3.0v3.0h-3.0zM473.2 269.0h3.0v3.0h-3.0zM473.8 285.2h3.0v3.0h-3.0zM474.4 283.5h3.0v3.0h-3.0zM475.0 273.9h3.0v3.0h-3.0zM475.7 282.7h3.0v3.0h-3.0zM476.3 272.7h3.0v3.0h-3.0zM476.9 284.3h3.0v3.0h-3.0zM477.5 276.9h3.0v3.0h-3.0zM478.2 272.3h3.0v3.0h-3.0zM478.8 275.8h3.0v3.0h-3.0zM479.4 272.8h3.0v3.0h-3.0zM480.0 279.9h3.0v3.0h-3.0zM480.7 279.9h3.0v3.0h-3.0zM481.3 279.3h3.0v3.0h-3.0zM481.9 274.8h3.0v3.0h-3.0zM482.5 257.8h3.0v3.0h-3.0zM483.2 279.9h3.0v3.0h-3.0zM483.8 264.4h3.0v3.0h-3.0zM484.4 281.0h3.0v3.0h-3.0zM485.0 285.9h3.0v3.0h-3.0zM485.7 281.9h3.0v3.0h-3.0zM486.3 277.8h3.0v3.0h-3.0zM486.9 279.9h3.0v3.0h-3.0zM487.5 280.7h3.0v3.0h-3.0zM488.2 277.9h3.0v3.0h-3.0zM488.8 278.0h3.0v3.0h-3.0zM489.4 275.8h3.0v3.0h-3.0zM490.0 289.7h3.0v3.0h-3.0zM490.7 284.1h3.0v3.0h-3.0zM491.3 289.6h3.0v3.0h-3.0zM491.9 283.3h3.0v3.0h-3.0zM492.5 286.2h3.0v3.0h-3.0zM493.2 285.0h3.0v3.0h-3.0zM493.8 289.3h3.0v3.0h-3.0zM494.4 291.6h3.0v3.0h-3.0zM495.0 289.1h3.0v3.0h-3.0zM495.7 283.0h3.0v3.0h-3.0zM496.3 282.6h3.0v3.0h-3.0zM496.9 297.7h3.0v3.0h-3.0zM497.5 287.5h3.0v3.0h-3.0zM498.2 287.8h3.0v3.0h-3.0zM498.8 299.0h3.0v3.0h-3.0zM499.4 297.2h3.0v3.0h-3.0zM500.0 294.5h3.0v3.0h-3.0zM500.7 289.6h3.0v3.0h-3.0zM501.3 305.8h3.0v3.0h-3.0zM501.9 295.0h3.0v3.0h-3.0zM502.5 296.3h3.0v3.0h-3.0zM503.2 292.6h3.0v3.0h-3.0zM503.8 285.9h3.0v3.0h-3.0zM504.4 286.8h3.0v3.0h-3.0zM505.0 297.2h3.0v3.0h-3.0zM505.6 297.5h3.0v3.0h-3.0zM506.3 294.3h3.0v3.0h-3.0zM506.9 289.4h3.0v3.0h-3.0zM507.5 288.4h3.0v3.0h-3.0zM508.1 295.3h3.0v3.0h-3.0zM508.8 289.4h3.0v3.0h-3.0zM509.4 303.5h3.0v3.0h-3.0zM510.0 305.8h3.0v3.0h-3.0zM510.6 315.7h3.0v3.0h-3.0zM511.3 306.6h3.0v3.0h-3.0zM511.9 299.6h3.0v3.0h-3.0zM512.5 299.4h3.0v3.0h-3.0zM513.1 290.2h3.0v3.0h-3.0zM513.8 303.3h3.0v3.0h-3.0zM514.4 306.4h3.0v3.0h-3.0zM515.0 313.4h3.0v3.0h-3.0zM515.6 311.8h3.0v3.0h-3.0zM516.3 312.1h3.0v3.0h-3.0zM516.9 310.4h3.0v3.0h-3.0zM517.5 313.3h3.0v3.0h-3.0zM518.1 318.2h3.0v3.0h-3.0zM518.8 304.1h3.0v3.0h-3.0zM519.4 307.9h3.0v3.0h-3.0zM520.0 302.8h3.0v3.0h-3.0zM520.6 320.3h3.0v3.0h-3.0zM521.3 318.6h3.0v3.0h-3.0zM521.9 315.6h3.0v3.0h-3.0zM522.5 304.6h3.0v3.0h-3.0zM523.1 312.5h3.0v3.0h-3.0zM523.8 310.2h3.0v3.0h-3.0zM524.4 311.9h3.0v3.0h-3.0zM525.0 310.3h3.0v3.0h-3.0zM525.6 314.3h3.0v3.0h-3.0zM526.3 309.0h3.0v3.0h-3.0zM526.9 316.0h3.0v3.0h-3.0zM527.5 312.4h3.0v3.0h-3.0zM528.1 309.2h3.0v3.0h-3.0zM528.8 310.1h3.0v3.0h-3.0zM529.4 308.0h3.0v3.0h-3.0zM530.0 315.1h3.0v3.0h-3.0zM530.6 308.7h3.0v3.0h-3.0zM531.3 311.7h3.0v3.0h-3.0zM531.9 307.7h3.0v3.0h-3.0zM532.5 301.2h3.0v3.0h-3.0zM533.1 314.8h3.0v3.0h-3.0zM533.8 303.4h3.0v3.0h-3.0zM534.4 313.2h3.0v3.0h-3.0zM535.0 311.5h3.0v3.0h-3.0zM535.6 299.5h3.0v3.0h-3.0zM536.3 303.4h3.0v3.0h-3.0zM536.9 305.7h3.0v3.0h-3.0zM537.5 303.8h3.0v3.0h-3.0z" fill="#12127a"/>
<path d="M40.0 300.2 L40.6 309.9 L41.2 305.4 L41.9 308.8 L42.5 305.0 L43.1 308.9 L43.7 303.9 L44.4 307.7 L45.0 310.9 L45.6 308.4 L46.2 306.1 L46.9 303.2 L47.5 309.4 L48.1 310.4 L48.7 307.6 L49.4 305.1 L50.0 311.6 L50.6 321.1 L51.2 307.5 L51.9 310.6 L52.5 310.8 L53.1 296.3 L53.7 309.4 L54.4 305.2 L55.0 315.3 L55.6 307.2 L56.2 304.4 L56.9 307.0 L57.5 308.7 L58.1 304.9 L58.7 307.2 L59.4 300.6 L60.0 305.9 L60.6 310.6 L61.2 316.2 L61.9 309.8 L62.5 307.5 L63.1 311.8 L63.7 310.8 L64.4 313.8 L65.0 310.8 L65.6 304.8 L66.2 306.5 L66.9 306.0 L67.5 306.5 L68.1 305.9 L68.7 301.0 L69.4 294.4 L70.0 301.3 L70.6 294.6 L71.2 304.7 L71.9 304.3 L72.5 298.3 L73.1 306.5 L73.7 307.0 L74.3 304.2 L75.0 309.6 L75.6 310.2 L76.2 299.3 L76.8 307.0 L77.5 304.8 L78.1 304.6 L78.7 306.2 L79.3 300.3 L80.0 300.5 L80.6 299.5 L81.2 299.4 L81.8 301.5 L82.5 296.4 L83.1 297.5 L83.7 302.9 L84.3 300.3 L85.0 301.6 L85.6 293.3 L86.2 296.9 L86.8 297.4 L87.5 299.2 L88.1 296.8 L88.7 301.9 L89.3 298.2 L90.0 298.3 L90.6 298.2 L91.2 300.5 L91.8 296.4 L92.5 301.9 L93.1 299.6 L93.7 298.5 L94.3 298.1 L95.0 299.8 L95.6 301.6 L96.2 301.3 L96.8 299.3 L97.5 301.1 L98.1 298.4 L98.7 302.4 L99.3 297.9 L100.0 290.7 L100.6 302.7 L101.2 298.4 L101.8 293.9 L102.5 297.3 L103.1 294.9 L103.7 305.4 L104.3 299.8 L105.0 292.7 L105.6 300.2 L106.2 297.1 L106.8 305.3 L107.4 295.2 L108.1 291.2 L108.7 299.5 L109.3 298.3 L109.9 298.3 L110.6 292.5 L111.2 301.8 L111.8 306.4 L112.4 294.1 L113.1 305.1 L113.7 299.3 L114.3 309.8 L114.9 303.4 L115.6 301.6 L116.2 306.4 L116.8 304.8 L117.4 301.2 L118.1 306.1 L118.7 302.1 L119.3 297.9 L119.9 311.6 L120.6 303.5 L121.2 302.8 L121.8 306.4 L122.4 300.0 L123.1 301.0 L123.7 304.2 L124.3 304.3 L124.9 306.6 L125.6 310.5 L126.2 305.1 L126.8 308.7 L127.4 309.3 L128.1 303.6 L128.7 308.3 L129.3 304.4 L129.9 311.5 L130.6 309.5 L131.2 308.1 L131.8 303.4 L132.4 308.6 L133.1 305.6 L133.7 310.9 L134.3 308.1 L134.9 305.8 L135.6 311.9 L136.2 311.3 L136.8 306.8 L137.4 313.0 L138.1 307.9 L138.7 307.9 L139.3 309.4 L139.9 306.4 L140.5 307.5 L141.2 308.4 L141.8 314.3 L142.4 314.2 L143.0 308.0 L143.7 314.5 L144.3 308.7 L144.9 310.1 L145.5 311.9 L146.2 309.8 L146.8 317.1 L147.4 309.5 L148.0 304.4 L148.7 313.1 L149.3 307.0 L149.9 307.3 L150.5 298.9 L151.2 311.7 L151.8 311.0 L152.4 310.8 L153.0 311.3 L153.7 313.7 L154.3 307.5 L154.9 310.8 L155.5 304.8 L156.2 306.0 L156.8 310.8 L157.4 308.4 L158.0 302.2 L158.7 308.0 L159.3 306.0 L159.9 303.7 L160.5 307.9 L161.2 304.9 L161.8 300.7 L162.4 302.2 L163.0 312.1 L163.7 300.5 L164.3 306.4 L164.9 307.7 L165.5 307.6 L166.2 301.0 L166.8 304.0 L167.4 305.5 L168.0 307.7 L168.7 302.5 L169.3 300.6 L169.9 308.1 L170.5 308.3 L171.2 305.7 L171.8 302.2 L172.4 305.6 L173.0 304.5 L173.6 307.0 L174.3 299.7 L174.9 304.4 L175.5 303.4 L176.1 300.1 L176.8 304.7 L177.4 304.0 L178.0 302.5 L178.6 305.3 L179.3 298.9 L179.9 303.7 L180.5 305.3 L181.1 304.8 L181.8 307.6 L182.4 299.6 L183.0 298.5 L183.6 304.6 L184.3 305.4 L184.9 311.2 L185.5 305.9 L186.1 300.7 L186.8 306.5 L187.4 300.7 L188.0 298.5 L188.6 312.8 L189.3 304.8 L189.9 306.2 L190.5 305.6 L191.1 310.0 L191.8 304.6 L192.4 307.9 L193.0 300.0 L193.6 298.7 L194.3 308.5 L194.9 308.7 L195.5 305.3 L196.1 304.2 L196.8 304.0 L197.4 300.9 L198.0 308.7 L198.6 305.5 L199.3 304.9 L199.9 304.4 L200.5 306.7 L201.1 304.7 L201.8 305.5 L202.4 298.7 L203.0 304.5 L203.6 310.2 L204.3 300.7 L204.9 301.9 L205.5 305.4 L206.1 305.5 L206.7 304.3 L207.4 296.3 L208.0 303.6 L208.6 297.6 L209.2 298.7 L209.9 303.4 L210.5 300.4 L211.1 304.1 L211.7 310.6 L212.4 303.8 L213.0 303.4 L213.6 297.6 L214.2 298.4 L214.9 296.7 L215.5 298.4 L216.1 296.3 L216.7 297.6 L217.4 299.0 L218.0 296.1 L218.6 294.5 L219.2 294.5 L219.9 300.6 L220.5 299.1 L221.1 302.2 L221.7 302.1 L222.4 297.0 L223.0 300.4 L223.6 292.7 L224.2 305.5 L224.9 301.5 L225.5 296.3 L226.1 292.7 L226.7 297.9 L227.4 289.7 L228.0 293.2 L228.6 298.3 L229.2 295.6 L229.9 293.4 L230.5 298.1 L231.1 290.8 L231.7 295.0 L232.4 291.9 L233.0 290.3 L233.6 294.5 L234.2 289.0 L234.9 298.7 L235.5 289.5 L236.1 298.1 L236.7 286.8 L237.4 292.2 L238.0 285.4 L238.6 284.4 L239.2 289.1 L239.8 290.3 L240.5 282.9 L241.1 290.9 L241.7 283.3 L242.3 285.9 L243.0 286.1 L243.6 286.1 L244.2 277.0 L244.8 288.3 L245.5 283.9 L246.1 279.7 L246.7 276.9 L247.3 273.8 L248.0 274.3 L248.6 280.2 L249.2 276.4 L249.8 272.9 L250.5 274.2 L251.1 280.8 L251.7 273.4 L252.3 271.7 L253.0 277.7 L253.6 273.8 L254.2 271.6 L254.8 268.5 L255.5 264.4 L256.1 265.0 L256.7 266.7 L257.3 266.8 L258.0 268.1 L258.6 268.1 L259.2 266.2 L259.8 265.5 L260.5 260.5 L261.1 255.8 L261.7 260.8 L262.3 258.5 L263.0 258.9 L263.6 259.5 L264.2 255.4 L264.8 255.1 L265.5 257.9 L266.1 257.8 L266.7 254.4 L267.3 257.6 L268.0 254.3 L268.6 250.7 L269.2 253.7 L269.8 259.3 L270.5 249.6 L271.1 255.3 L271.7 255.2 L272.3 254.7 L272.9 245.6 L273.6 254.6 L274.2 247.1 L274.8 245.1 L275.4 244.6 L276.1 247.2 L276.7 245.2 L277.3 244.9 L277.9 251.1 L278.6 245.4 L279.2 245.7 L279.8 253.4 L280.4 254.3 L281.1 256.8 L281.7 250.5 L282.3 259.3 L282.9 258.4 L283.6 264.2 L284.2 254.9 L284.8 261.3 L285.4 260.9 L286.1 257.6 L286.7 261.9 L287.3 269.6 L287.9 265.3 L288.6 265.6 L289.2 272.5 L289.8 274.2 L290.4 275.4 L291.1 270.4 L291.7 274.2 L292.3 279.2 L292.9 274.5 L293.6 275.4 L294.2 282.1 L294.8 285.8 L295.4 277.4 L296.1 273.4 L296.7 278.5 L297.3 280.9 L297.9 284.9 L298.6 288.4 L299.2 286.6 L299.8 285.6 L300.4 289.4 L301.1 286.3 L301.7 290.3 L302.3 289.0 L302.9 301.3 L303.6 295.4 L304.2 290.1 L304.8 290.1 L305.4 292.4 L306.1 288.6 L306.7 292.1 L307.3 292.4 L307.9 298.4 L308.5 294.1 L309.2 293.2 L309.8 291.5 L310.4 292.4 L311.0 296.5 L311.7 296.3 L312.3 301.3 L312.9 295.3 L313.5 301.5 L314.2 298.9 L314.8 298.2 L315.4 291.4 L316.0 294.1 L316.7 301.4 L317.3 303.8 L317.9 299.8 L318.5 301.9 L319.2 298.0 L319.8 298.2 L320.4 297.3 L321.0 303.2 L321.7 301.0 L322.3 299.1 L322.9 298.8 L323.5 302.0 L324.2 301.2 L324.8 297.2 L325.4 306.2 L326.0 301.1 L326.7 300.3 L327.3 305.5 L327.9 303.9 L328.5 300.1 L329.2 302.3 L329.8 296.7 L330.4 298.2 L331.0 292.6 L331.7 304.8 L332.3 293.9 L332.9 303.0 L333.5 297.7 L334.2 297.2 L334.8 300.0 L335.4 301.6 L336.0 302.9 L336.7 307.0 L337.3 302.1 L337.9 303.9 L338.5 298.8 L339.2 303.4 L339.8 301.5 L340.4 299.4 L341.0 300.8 L341.6 301.0 L342.3 301.9 L342.9 302.8 L343.5 299.7 L344.1 299.0 L344.8 304.3 L345.4 295.8 L346.0 299.7 L346.6 307.4 L347.3 292.7 L347.9 299.8 L348.5 304.8 L349.1 296.7 L349.8 311.7 L350.4 293.7 L351.0 307.9 L351.6 308.4 L352.3 306.3 L352.9 302.4 L353.5 304.5 L354.1 300.2 L354.8 306.3 L355.4 299.6 L356.0 302.7 L356.6 307.2 L357.3 299.9 L357.9 302.6 L358.5 304.5 L359.1 299.3 L359.8 308.2 L360.4 305.4 L361.0 299.0 L361.6 304.2 L362.3 301.7 L362.9 302.2 L363.5 304.9 L364.1 302.2 L364.8 308.1 L365.4 302.3 L366.0 308.3 L366.6 304.8 L367.3 308.0 L367.9 303.2 L368.5 303.4 L369.1 301.2 L369.8 307.3 L370.4 308.6 L371.0 312.8 L371.6 309.9 L372.3 306.3 L372.9 304.7 L373.5 306.8 L374.1 305.4 L374.7 310.7 L375.4 308.9 L376.0 302.6 L376.6 303.2 L377.2 310.4 L377.9 306.7 L378.5 304.9 L379.1 309.8 L379.7 304.4 L380.4 304.8 L381.0 304.1 L381.6 298.9 L382.2 308.8 L382.9 301.6 L383.5 303.8 L384.1 303.2 L384.7 308.4 L385.4 305.6 L386.0 305.9 L386.6 300.0 L387.2 305.6 L387.9 300.8 L388.5 307.0 L389.1 307.2 L389.7 305.9 L390.4 313.1 L391.0 307.8 L391.6 308.1 L392.2 306.5 L392.9 305.3 L393.5 309.4 L394.1 309.9 L394.7 301.4 L395.4 309.7 L396.0 307.8 L396.6 309.4 L397.2 307.6 L397.9 301.6 L398.5 301.9 L399.1 312.4 L399.7 306.9 L400.4 301.0 L401.0 307.2 L401.6 304.7 L402.2 299.5 L402.9 298.0 L403.5 300.4 L404.1 307.0 L404.7 305.8 L405.4 305.1 L406.0 307.0 L406.6 308.1 L407.2 298.6 L407.8 304.9 L408.5 303.1 L409.1 301.7 L409.7 304.1 L410.3 305.6 L411.0 305.1 L411.6 300.9 L412.2 304.3 L412.8 313.1 L413.5 302.3 L414.1 300.1 L414.7 307.0 L415.3 308.1 L416.0 307.6 L416.6 302.1 L417.2 309.5 L417.8 303.3 L418.5 302.0 L419.1 303.9 L419.7 305.6 L420.3 308.5 L421.0 308.2 L421.6 305.9 L422.2 309.3 L422.8 306.3 L423.5 309.1 L424.1 301.1 L424.7 300.5 L425.3 308.7 L426.0 301.1 L426.6 304.9 L427.2 305.6 L427.8 304.2 L428.5 304.3 L429.1 310.8 L429.7 297.0 L430.3 308.9 L431.0 313.9 L431.6 305.9 L432.2 305.7 L432.8 308.3 L433.5 312.2 L434.1 301.6 L434.7 306.0 L435.3 305.0 L436.0 307.6 L436.6 306.2 L437.2 307.9 L437.8 304.1 L438.5 305.7 L439.1 303.2 L439.7 303.2 L440.3 305.0 L440.9 304.9 L441.6 301.3 L442.2 310.9 L442.8 304.9 L443.4 300.5 L444.1 309.2 L444.7 302.6 L445.3 307.0 L445.9 305.1 L446.6 306.1 L447.2 305.7 L447.8 303.1 L448.4 305.2 L449.1 312.2 L449.7 297.2 L450.3 305.2 L450.9 306.5 L451.6 301.2 L452.2 300.1 L452.8 312.4 L453.4 303.4 L454.1 312.0 L454.7 306.5 L455.3 304.8 L455.9 306.2 L456.6 306.6 L457.2 308.5 L457.8 305.8 L458.4 304.7 L459.1 304.7 L459.7 308.8 L460.3 306.8 L460.9 300.4 L461.6 301.6 L462.2 304.9 L462.8 301.5 L463.4 302.3 L464.1 300.2 L464.7 302.5 L465.3 304.9 L465.9 306.8 L466.6 303.3 L467.2 310.5 L467.8 302.9 L468.4 312.5 L469.1 306.6 L469.7 304.8 L470.3 301.2 L470.9 293.5 L471.6 302.4 L472.2 303.5 L472.8 309.6 L473.4 298.0 L474.0 309.5 L474.7 301.9 L475.3 305.3 L475.9 293.8 L476.5 303.2 L477.2 301.5 L477.8 305.0 L478.4 302.9 L479.0 298.6 L479.7 305.9 L480.3 305.0 L480.9 304.6 L481.5 306.1 L482.2 306.4 L482.8 302.4 L483.4 297.8 L484.0 297.7 L484.7 307.2 L485.3 305.0 L485.9 302.9 L486.5 301.0 L487.2 302.7 L487.8 302.7 L488.4 301.6 L489.0 300.4 L489.7 310.5 L490.3 303.8 L490.9 301.0 L491.5 298.7 L492.2 300.8 L492.8 306.0 L493.4 306.3 L494.0 303.0 L494.7 304.1 L495.3 303.0 L495.9 300.3 L496.5 308.9 L497.2 305.8 L497.8 313.3 L498.4 302.1 L499.0 304.4 L499.7 308.0 L500.3 304.2 L500.9 300.3 L501.5 301.9 L502.2 305.7 L502.8 306.7 L503.4 305.3 L504.0 309.2 L504.7 309.3 L505.3 307.1 L505.9 306.2 L506.5 305.3 L507.1 308.3 L507.8 309.7 L508.4 306.8 L509.0 308.3 L509.6 305.7 L510.3 302.0 L510.9 303.6 L511.5 309.8 L512.1 308.8 L512.8 312.9 L513.4 307.7 L514.0 310.6 L514.6 312.3 L515.3 311.2 L515.9 305.6 L516.5 307.2 L517.1 308.3 L517.8 304.5 L518.4 309.6 L519.0 311.6 L519.6 306.3 L520.3 314.9 L520.9 307.0 L521.5 307.2 L522.1 307.1 L522.8 305.3 L523.4 309.2 L524.0 307.7 L524.6 313.4 L525.3 309.6 L525.9 309.2 L526.5 306.4 L527.1 302.1 L527.8 306.6 L528.4 303.8 L529.0 310.0 L529.6 306.5 L530.3 312.3 L530.9 308.9 L531.5 309.2 L532.1 307.0 L532.8 306.9 L533.4 308.4 L534.0 309.3 L534.6 303.5 L535.3 307.7 L535.9 315.2 L536.5 305.7 L537.1 305.1 L537.8 303.6 L538.4 300.9 L539.0 310.2" fill="none" stroke="#efbd78" stroke-width="0.7"/>
<path d="M40.0 298.1l1.93 3.32h-3.85zM40.6 307.8l1.93 3.32h-3.85zM41.2 303.3l1.93 3.32h-3.85zM41.9 306.7l1.93 3.32h-3.85zM42.5 302.9l1.93 3.32h-3.85zM43.1 306.8l1.93 3.32h-3.85zM43.7 301.8l1.93 3.32h-3.85zM44.4 305.6l1.93 3.32h-3.85zM45.0 308.8l1.93 3.32h-3.85zM45.6 306.3l1.93 3.32h-3.85zM46.2 304.0l1.93 3.32h-3.85zM46.9 301.1l1.93 3.32h-3.85zM47.5 307.3l1.93 3.32h-3.85zM48.1 308.3l1.93 3.32h-3.85zM48.7 305.5l1.93 3.32h-3.85zM49.4 303.0l1.93 3.32h-3.85zM50.0 309.5l1.93 3.32h-3.85zM50.6 319.0l1.93 3.32h-3.85zM51.2 305.4l1.93 3.32h-3.85zM51.9 308.5l1.93 3.32h-3.85zM52.5 308.7l1.93 3.32h-3.85zM53.1 294.2l1.93 3.32h-3.85zM53.7 307.3l1.93 3.32h-3.85zM54.4 303.1l1.93 3.32h-3.85zM55.0 313.2l1.93 3.32h-3.85zM55.6 305.1l1.93 3.32h-3.85zM56.2 302.3l1.93 3.32h-3.85zM56.9 304.9l1.93 3.32h-3.85zM57.5 306.6l1.93 3.32h-3.85zM58.1 302.8l1.93 3.32h-3.85zM58.7 305.1l1.93 3.32h-3.85zM59.4 298.5l1.93 3.32h-3.85zM60.0 303.8l1.93 3.32h-3.85zM60.6 308.5l1.93 3.32h-3.85zM61.2 314.1l1.93 3.32h-3.85zM61.9 307.7l1.93 3.32h-3.85zM62.5 305.4l1.93 3.32h-3.85zM63.1 309.7l1.93 3.32h-3.85zM63.7 308.7l1.93 3.32h-3.85zM64.4 311.7l1.93 3.32h-3.85zM65.0 308.7l1.93 3.32h-3.85zM65.6 302.7l1.93 3.32h-3.85zM66.2 304.4l1.93 3.32h-3.85zM66.9 303.9l1.93 3.32h-3.85zM67.5 304.4l1.93 3.32h-3.85zM68.1 303.8l1.93 3.32h-3.85zM68.7 298.9l1.93 3.32h-3.85zM69.4 292.3l1.93 3.32h-3.85zM70.0 299.2l1.93 3.32h-3.85zM70.6 292.5l1.93 3.32h-3.85zM71.2 302.6l1.93 3.32h-3.85zM71.9 302.2l1.93 3.32h-3.85zM72.5 296.2l1.93 3.32h-3.85zM73.1 304.4l1.93 3.32h-3.85zM73.7 304.9l1.93 3.32h-3.85zM74.3 302.1l1.93 3.32h-3.85zM75.0 307.5l1.93 3.32h-3.85zM75.6 308.1l1.93 3.32h-3.85zM76.2 297.2l1.93 3.32h-3.85zM76.8 304.9l1.93 3.32h-3.85zM77.5 302.7l1.93 3.32h-3.85zM78.1 302.5l1.93 3.32h-3.85zM78.7 304.1l1.93 3.32h-3.85zM79.3 298.2l1.93 3.32h-3.85zM80.0 298.4l1.93 3.32h-3.85zM80.6 297.4l1.93 3.32h-3.85zM81.2 297.3l1.93 3.32h-3.85zM81.8 299.4l1.93 3.32h-3.85zM82.5 294.3l1.93 3.32h-3.85zM83.1 295.4l1.93 3.32h-3.85zM83.7 300.8l1.93 3.32h-3.85zM84.3 298.2l1.93 3.32h-3.85zM85.0 299.5l1.93 3.32h-3.85zM85.6 291.2l1.93 3.32h-3.85zM86.2 294.8l1.93 3.32h-3.85zM86.8 295.3l1.93 3.32h-3.85zM87.5 297.1l1.93 3.32h-3.85zM88.1 294.7l1.93 3.32h-3.85zM88.7 299.8l1.93 3.32h-3.85zM89.3 296.1l1.93 3.32h-3.85zM90.0 296.2l1.93 3.32h-3.85zM90.6 296.1l1.93 3.32h-3.85zM91.2 298.4l1.93 3.32h-3.85zM91.8 294.3l1.93 3.32h-3.85zM92.5 299.8l1.93 3.32h-3.85zM93.1 297.5l1.93 3.32h-3.85zM93.7 296.4l1.93 3.32h-3.85zM94.3 296.0l1.93 3.32h-3.85zM95.0 297.7l1.93 3.32h-3.85zM95.6 299.5l1.93 3.32h-3.85zM96.2 299.2l1.93 3.32h-3.85zM96.8 297.2l1.93 3.32h-3.85zM97.5 299.0l1.93 3.32h-3.85zM98.1 296.3l1.93 3.32h-3.85zM98.7 300.3l1.93 3.32h-3.85zM99.3 295.8l1.93 3.32h-3.85zM100.0 288.6l1.93 3.32h-3.85zM100.6 300.6l1.93 3.32h-3.85zM101.2 296.3l1.93 3.32h-3.85zM101.8 291.8l1.93 3.32h-3.85zM102.5 295.2l1.93 3.32h-3.85zM103.1 292.8l1.93 3.32h-3.85zM103.7 303.3l1.93 3.32h-3.85zM104.3 297.7l1.93 3.32h-3.85zM105.0 290.6l1.93 3.32h-3.85zM105.6 298.1l1.93 3.32h-3.85zM106.2 295.0l1.93 3.32h-3.85zM106.8 303.2l1.93 3.32h-3.85zM107.4 293.1l1.93 3.32h-3.85zM108.1 289.1l1.93 3.32h-3.85zM108.7 297.4l1.93 3.32h-3.85zM109.3 296.2l1.93 3.32h-3.85zM109.9 296.2l1.93 3.32h-3.85zM110.6 290.4l1.93 3.32h-3.85zM111.2 299.7l1.93 3.32h-3.85zM111.8 304.3l1.93 3.32h-3.85zM112.4 292.0l1.93 3.32h-3.85zM113.1 303.0l1.93 3.32h-3.85zM113.7 297.2l1.93 3.32h-3.85zM114.3 307.7l1.93 3.32h-3.85zM114.9 301.3l1.93 3.32h-3.85zM115.6 299.5l1.93 3.32h-3.85zM116.2 304.3l1.93 3.32h-3.85zM116.8 302.7l1.93 3.32h-3.85zM117.4 299.1l1.93 3.32h-3.85zM118.1 304.0l1.93 3.32h-3.85zM118.7 300.0l1.93 3.32h-3.85zM119.3 295.8l1.93 3.32h-3.85zM119.9 309.5l1.93 3.32h-3.85zM120.6 301.4l1.93 3.32h-3.85zM121.2 300.7l1.93 3.32h-3.85zM121.8 304.3l1.93 3.32h-3.85zM122.4 297.9l1.93 3.32h-3.85zM123.1 298.9l1.93 3.32h-3.85zM123.7 302.1l1.93 3.32h-3.85zM124.3 302.2l1.93 3.32h-3.85zM124.9 304.5l1.93 3.32h-3.85zM125.6 308.4l1.93 3.32h-3.85zM126.2 303.0l1.93 3.32h-3.85zM126.8 306.6l1.93 3.32h-3.85zM127.4 307.2l1.93 3.32h-3.85zM128.1 301.5l1.93 3.32h-3.85zM128.7 306.2l1.93 3.32h-3.85zM129.3 302.3l1.93 3.32h-3.85zM129.9 309.4l1.93 3.32h-3.85zM130.6 307.4l1.93 3.32h-3.85zM131.2 306.0l1.93 3.32h-3.85zM131.8 301.3l1.93 3.32h-3.85zM132.4 306.5l1.93 3.32h-3.85zM133.1 303.5l1.93 3.32h-3.85zM133.7 308.8l1.93 3.32h-3.85zM134.3 306.0l1.93 3.32h-3.85zM134.9 303.7l1.93 3.32h-3.85zM135.6 309.8l1.93 3.32h-3.85zM136.2 309.2l1.93 3.32h-3.85zM136.8 304.7l1.93 3.32h-3.85zM137.4 310.9l1.93 3.32h-3.85zM138.1 305.8l1.93 3.32h-3.85zM138.7 305.8l1.93 3.32h-3.85zM139.3 307.3l1.93 3.32h-3.85zM139.9 304.3l1.93 3.32h-3.85zM140.5 305.4l1.93 3.32h-3.85zM141.2 306.3l1.93 3.32h-3.85zM141.8 312.2l1.93 3.32h-3.85zM142.4 312.1l1.93 3.32h-3.85zM143.0 305.9l1.93 3.32h-3.85zM143.7 312.4l1.93 3.32h-3.85zM144.3 306.6l1.93 3.32h-3.85zM144.9 308.0l1.93 3.32h-3.85zM145.5 309.8l1.93 3.32h-3.85zM146.2 307.7l1.93 3.32h-3.85zM146.8 315.0l1.93 3.32h-3.85zM147.4 307.4l1.93 3.32h-3.85zM148.0 302.3l1.93 3.32h-3.85zM148.7 311.0l1.93 3.32h-3.85zM149.3 304.9l1.93 3.32h-3.85zM149.9 305.2l1.93 3.32h-3.85zM150.5 296.8l1.93 3.32h-3.85zM151.2 309.6l1.93 3.32h-3.85zM151.8 308.9l1.93 3.32h-3.85zM152.4 308.7l1.93 3.32h-3.85zM153.0 309.2l1.93 3.32h-3.85zM153.7 311.6l1.93 3.32h-3.85zM154.3 305.4l1.93 3.32h-3.85zM154.9 308.7l1.93 3.32h-3.85zM155.5 302.7l1.93 3.32h-3.85zM156.2 303.9l1.93 3.32h-3.85zM156.8 308.7l1.93 3.32h-3.85zM157.4 306.3l1.93 3.32h-3.85zM158.0 300.1l1.93 3.32h-3.85zM158.7 305.9l1.93 3.32h-3.85zM159.3 303.9l1.93 3.32h-3.85zM159.9 301.6l1.93 3.32h-3.85zM160.5 305.8l1.93 3.32h-3.85zM161.2 302.8l1.93 3.32h-3.85zM161.8 298.6l1.93 3.32h-3.85zM162.4 300.1l1.93 3.32h-3.85zM163.0 310.0l1.93 3.32h-3.85zM163.7 298.4l1.93 3.32h-3.85zM164.3 304.3l1.93 3.32h-3.85zM164.9 305.6l1.93 3.32h-3.85zM165.5 305.5l1.93 3.32h-3.85zM166.2 298.9l1.93 3.32h-3.85zM166.8 301.9l1.93 3.32h-3.85zM167.4 303.4l1.93 3.32h-3.85zM168.0 305.6l1.93 3.32h-3.85zM168.7 300.4l1.93 3.32h-3.85zM169.3 298.5l1.93 3.32h-3.85zM169.9 306.0l1.93 3.32h-3.85zM170.5 306.2l1.93 3.32h-3.85zM171.2 303.6l1.93 3.32h-3.85zM171.8 300.1l1.93 3.32h-3.85zM172.4 303.5l1.93 3.32h-3.85zM173.0 302.4l1.93 3.32h-3.85zM173.6 304.9l1.93 3.32h-3.85zM174.3 297.6l1.93 3.32h-3.85zM174.9 302.3l1.93 3.32h-3.85zM175.5 301.3l1.93 3.32h-3.85zM176.1 298.0l1.93 3.32h-3.85zM176.8 302.6l1.93 3.32h-3.85zM177.4 301.9l1.93 3.32h-3.85zM178.0 300.4l1.93 3.32h-3.85zM178.6 303.2l1.93 3.32h-3.85zM179.3 296.8l1.93 3.32h-3.85zM179.9 301.6l1.93 3.32h-3.85zM180.5 303.2l1.93 3.32h-3.85zM181.1 302.7l1.93 3.32h-3.85zM181.8 305.5l1.93 3.32h-3.85zM182.4 297.5l1.93 3.32h-3.85zM183.0 296.4l1.93 3.32h-3.85zM183.6 302.5l1.93 3.32h-3.85zM184.3 303.3l1.93 3.32h-3.85zM184.9 309.1l1.93 3.32h-3.85zM185.5 303.8l1.93 3.32h-3.85zM186.1 298.6l1.93 3.32h-3.85zM186.8 304.4l1.93 3.32h-3.85zM187.4 298.6l1.93 3.32h-3.85zM188.0 296.4l1.93 3.32h-3.85zM188.6 310.7l1.93 3.32h-3.85zM189.3 302.7l1.93 3.32h-3.85zM189.9 304.1l1.93 3.32h-3.85zM190.5 303.5l1.93 3.32h-3.85zM191.1 307.9l1.93 3.32h-3.85zM191.8 302.5l1.93 3.32h-3.85zM192.4 305.8l1.93 3.32h-3.85zM193.0 297.9l1.93 3.32h-3.85zM193.6 296.6l1.93 3.32h-3.85zM194.3 306.4l1.93 3.32h-3.85zM194.9 306.6l1.93 3.32h-3.85zM195.5 303.2l1.93 3.32h-3.85zM196.1 302.1l1.93 3.32h-3.85zM196.8 301.9l1.93 3.32h-3.85zM197.4 298.8l1.93 3.32h-3.85zM198.0 306.6l1.93 3.32h-3.85zM198.6 303.4l1.93 3.32h-3.85zM199.3 302.8l1.93 3.32h-3.85zM199.9 302.3l1.93 3.32h-3.85zM200.5 304.6l1.93 3.32h-3.85zM201.1 302.6l1.93 3.32h-3.85zM201.8 303.4l1.93 3.32h-3.85zM202.4 296.6l1.93 3.32h-3.85zM203.0 302.4l1.93 3.32h-3.85zM203.6 308.1l1.93 3.32h-3.85zM204.3 298.6l1.93 3.32h-3.85zM204.9 299.8l1.93 3.32h-3.85zM205.5 303.3l1.93 3.32h-3.85zM206.1 303.4l1.93 3.32h-3.85zM206.7 302.2l1.93 3.32h-3.85zM207.4 294.2l1.93 3.32h-3.85zM208.0 301.5l1.93 3.32h-3.85zM208.6 295.5l1.93 3.32h-3.85zM209.2 296.6l1.93 3.32h-3.85zM209.9 301.3l1.93 3.32h-3.85zM210.5 298.3l1.93 3.32h-3.85zM211.1 302.0l1.93 3.32h-3.85zM211.7 308.5l1.93 3.32h-3.85zM212.4 301.7l1.93 3.32h-3.85zM213.0 301.3l1.93 3.32h-3.85zM213.6 295.5l1.93 3.32h-3.85zM214.2 296.3l1.93 3.32h-3.85zM214.9 294.6l1.93 3.32h-3.85zM215.5 296.3l1.93 3.32h-3.85zM216.1 294.2l1.93 3.32h-3.85zM216.7 295.5l1.93 3.32h-3.85zM217.4 296.9l1.93 3.32h-3.85zM218.0 294.0l1.93 3.32h-3.85zM218.6 292.4l1.93 3.32h-3.85zM219.2 292.4l1.93 3.32h-3.85zM219.9 298.5l1.93 3.32h-3.85zM220.5 297.0l1.93 3.32h-3.85zM221.1 300.1l1.93 3.32h-3.85zM221.7 300.0l1.93 3.32h-3.85zM222.4 294.9l1.93 3.32h-3.85zM223.0 298.3l1.93 3.32h-3.85zM223.6 290.6l1.93 3.32h-3.85zM224.2 303.4l1.93 3.32h-3.85zM224.9 299.4l1.93 3.32h-3.85zM225.5 294.2l1.93 3.32h-3.85zM226.1 290.6l1.93 3.32h-3.85zM226.7 295.8l1.93 3.32h-3.85zM227.4 287.6l1.93 3.32h-3.85zM228.0 291.1l1.93 3.32h-3.85zM228.6 296.2l1.93 3.32h-3.85zM229.2 293.5l1.93 3.32h-3.85zM229.9 291.3l1.93 3.32h-3.85zM230.5 296.0l1.93 3.32h-3.85zM231.1 288.7l1.93 3.32h-3.85zM231.7 292.9l1.93 3.32h-3.85zM232.4 289.8l1.93 3.32h-3.85zM233.0 288.2l1.93 3.32h-3.85zM233.6 292.4l1.93 3.32h-3.85zM234.2 286.9l1.93 3.32h-3.85zM234.9 296.6l1.93 3.32h-3.85zM235.5 287.4l1.93 3.32h-3.85zM236.1 296.0l1.93 3.32h-3.85zM236.7 284.7l1.93 3.32h-3.85zM237.4 290.1l1.93 3.32h-3.85zM238.0 283.3l1.93 3.32h-3.85zM238.6 282.3l1.93 3.32h-3.85zM239.2 287.0l1.93 3.32h-3.85zM239.8 288.2l1.93 3.32h-3.85zM240.5 280.8l1.93 3.32h-3.85zM241.1 288.8l1.93 3.32h-3.85zM241.7 281.2l1.93 3.32h-3.85zM242.3 283.8l1.93 3.32h-3.85zM243.0 284.0l1.93 3.32h-3.85zM243.6 284.0l1.93 3.32h-3.85zM244.2 274.9l1.93 3.32h-3.85zM244.8 286.2l1.93 3.32h-3.85zM245.5 281.8l1.93 3.32h-3.85zM246.1 277.6l1.93 3.32h-3.85zM246.7 274.8l1.93 3.32h-3.85zM247.3 271.7l1.93 3.32h-3.85zM248.0 272.2l1.93 3.32h-3.85zM248.6 278.1l1.93 3.32h-3.85zM249.2 274.3l1.93 3.32h-3.85zM249.8 270.8l1.93 3.32h-3.85zM250.5 272.1l1.93 3.32h-3.85zM251.1 278.7l1.93 3.32h-3.85zM251.7 271.3l1.93 3.32h-3.85zM252.3 269.6l1.93 3.32h-3.85zM253.0 275.6l1.93 3.32h-3.85zM253.6 271.7l1.93 3.32h-3.85zM254.2 269.5l1.93 3.32h-3.85zM254.8 266.4l1.93 3.32h-3.85zM255.5 262.3l1.93 3.32h-3.85zM256.1 262.9l1.93 3.32h-3.85zM256.7 264.6l1.93 3.32h-3.85zM257.3 264.7l1.93 3.32h-3.85zM258.0 266.0l1.93 3.32h-3.85zM258.6 266.0l1.93 3.32h-3.85zM259.2 264.1l1.93 3.32h-3.85zM259.8 263.4l1.93 3.32h-3.85zM260.5 258.4l1.93 3.32h-3.85zM261.1 253.7l1.93 3.32h-3.85zM261.7 258.7l1.93 3.32h-3.85zM262.3 256.4l1.93 3.32h-3.85zM263.0 256.8l1.93 3.32h-3.85zM263.6 257.4l1.93 3.32h-3.85zM264.2 253.3l1.93 3.32h-3.85zM264.8 253.0l1.93 3.32h-3.85zM265.5 255.8l1.93 3.32h-3.85zM266.1 255.7l1.93 3.32h-3.85zM266.7 252.3l1.93 3.32h-3.85zM267.3 255.5l1.93 3.32h-3.85zM268.0 252.2l1.93 3.32h-3.85zM268.6 248.6l1.93 3.32h-3.85zM269.2 251.6l1.93 3.32h-3.85zM269.8 257.2l1.93 3.32h-3.85zM270.5 247.5l1.93 3.32h-3.85zM271.1 253.2l1.93 3.32h-3.85zM271.7 253.1l1.93 3.32h-3.85zM272.3 252.6l1.93 3.32h-3.85zM272.9 243.5l1.93 3.32h-3.85zM273.6 252.5l1.93 3.32h-3.85zM274.2 245.0l1.93 3.32h-3.85zM274.8 243.0l1.93 3.32h-3.85zM275.4 242.5l1.93 3.32h-3.85zM276.1 245.1l1.93 3.32h-3.85zM276.7 243.1l1.93 3.32h-3.85zM277.3 242.8l1.93 3.32h-3.85zM277.9 249.0l1.93 3.32h-3.85zM278.6 243.3l1.93 3.32h-3.85zM279.2 243.6l1.93 3.32h-3.85zM279.8 251.3l1.93 3.32h-3.85zM280.4 252.2l1.93 3.32h-3.85zM281.1 254.7l1.93 3.32h-3.85zM281.7 248.4l1.93 3.32h-3.85zM282.3 257.2l1.93 3.32h-3.85zM282.9 256.3l1.93 3.32h-3.85zM283.6 262.1l1.93 3.32h-3.85zM284.2 252.8l1.93 3.32h-3.85zM284.8 259.2l1.93 3.32h-3.85zM285.4 258.8l1.93 3.32h-3.85zM286.1 255.5l1.93 3.32h-3.85zM286.7 259.8l1.93 3.32h-3.85zM287.3 267.5l1.93 3.32h-3.85zM287.9 263.2l1.93 3.32h-3.85zM288.6 263.5l1.93 3.32h-3.85zM289.2 270.4l1.93 3.32h-3.85zM289.8 272.1l1.93 3.32h-3.85zM290.4 273.3l1.93 3.32h-3.85zM291.1 268.3l1.93 3.32h-3.85zM291.7 272.1l1.93 3.32h-3.85zM292.3 277.1l1.93 3.32h-3.85zM292.9 272.4l1.93 3.32h-3.85zM293.6 273.3l1.93 3.32h-3.85zM294.2 280.0l1.93 3.32h-3.85zM294.8 283.7l1.93 3.32h-3.85zM295.4 275.3l1.93 3.32h-3.85zM296.1 271.3l1.93 3.32h-3.85zM296.7 276.4l1.93 3.32h-3.85zM297.3 278.8l1.93 3.32h-3.85zM297.9 282.8l1.93 3.32h-3.85zM298.6 286.3l1.93 3.32h-3.85zM299.2 284.5l1.93 3.32h-3.85zM299.8 283.5l1.93 3.32h-3.85zM300.4 287.3l1.93 3.32h-3.85zM301.1 284.2l1.93 3.32h-3.85zM301.7 288.2l1.93 3.32h-3.85zM302.3 286.9l1.93 3.32h-3.85zM302.9 299.2l1.93 3.32h-3.85zM303.6 293.3l1.93 3.32h-3.85zM304.2 288.0l1.93 3.32h-3.85zM304.8 288.0l1.93 3.32h-3.85zM305.4 290.3l1.93 3.32h-3.85zM306.1 286.5l1.93 3.32h-3.85zM306.7 290.0l1.93 3.32h-3.85zM307.3 290.3l1.93 3.32h-3.85zM307.9 296.3l1.93 3.32h-3.85zM308.5 292.0l1.93 3.32h-3.85zM309.2 291.1l1.93 3.32h-3.85zM309.8 289.4l1.93 3.32h-3.85zM310.4 290.3l1.93 3.32h-3.85zM311.0 294.4l1.93 3.32h-3.85zM311.7 294.2l1.93 3.32h-3.85zM312.3 299.2l1.93 3.32h-3.85zM312.9 293.2l1.93 3.32h-3.85zM313.5 299.4l1.93 3.32h-3.85zM314.2 296.8l1.93 3.32h-3.85zM314.8 296.1l1.93 3.32h-3.85zM315.4 289.3l1.93 3.32h-3.85zM316.0 292.0l1.93 3.32h-3.85zM316.7 299.3l1.93 3.32h-3.85zM317.3 301.7l1.93 3.32h-3.85zM317.9 297.7l1.93 3.32h-3.85zM318.5 299.8l1.93 3.32h-3.85zM319.2 295.9l1.93 3.32h-3.85zM319.8 296.1l1.93 3.32h-3.85zM320.4 295.2l1.93 3.32h-3.85zM321.0 301.1l1.93 3.32h-3.85zM321.7 298.9l1.93 3.32h-3.85zM322.3 297.0l1.93 3.32h-3.85zM322.9 296.7l1.93 3.32h-3.85zM323.5 299.9l1.93 3.32h-3.85zM324.2 299.1l1.93 3.32h-3.85zM324.8 295.1l1.93 3.32h-3.85zM325.4 304.1l1.93 3.32h-3.85zM326.0 299.0l1.93 3.32h-3.85zM326.7 298.2l1.93 3.32h-3.85zM327.3 303.4l1.93 3.32h-3.85zM327.9 301.8l1.93 3.32h-3.85zM328.5 298.0l1.93 3.32h-3.85zM329.2 300.2l1.93 3.32h-3.85zM329.8 294.6l1.93 3.32h-3.85zM330.4 296.1l1.93 3.32h-3.85zM331.0 290.5l1.93 3.32h-3.85zM331.7 302.7l1.93 3.32h-3.85zM332.3 291.8l1.93 3.32h-3.85zM332.9 300.9l1.93 3.32h-3.85zM333.5 295.6l1.93 3.32h-3.85zM334.2 295.1l1.93 3.32h-3.85zM334.8 297.9l1.93 3.32h-3.85zM335.4 299.5l1.93 3.32h-3.85zM336.0 300.8l1.93 3.32h-3.85zM336.7 304.9l1.93 3.32h-3.85zM337.3 300.0l1.93 3.32h-3.85zM337.9 301.8l1.93 3.32h-3.85zM338.5 296.7l1.93 3.32h-3.85zM339.2 301.3l1.93 3.32h-3.85zM339.8 299.4l1.93 3.32h-3.85zM340.4 297.3l1.93 3.32h-3.85zM341.0 298.7l1.93 3.32h-3.85zM341.6 298.9l1.93 3.32h-3.85zM342.3 299.8l1.93 3.32h-3.85zM342.9 300.7l1.93 3.32h-3.85zM343.5 297.6l1.93 3.32h-3.85zM344.1 296.9l1.93 3.32h-3.85zM344.8 302.2l1.93 3.32h-3.85zM345.4 293.7l1.93 3.32h-3.85zM346.0 297.6l1.93 3.32h-3.85zM346.6 305.3l1.93 3.32h-3.85zM347.3 290.6l1.93 3.32h-3.85zM347.9 297.7l1.93 3.32h-3.85zM348.5 302.7l1.93 3.32h-3.85zM349.1 294.6l1.93 3.32h-3.85zM349.8 309.6l1.93 3.32h-3.85zM350.4 291.6l1.93 3.32h-3.85zM351.0 305.8l1.93 3.32h-3.85zM351.6 306.3l1.93 3.32h-3.85zM352.3 304.2l1.93 3.32h-3.85zM352.9 300.3l1.93 3.32h-3.85zM353.5 302.4l1.93 3.32h-3.85zM354.1 298.1l1.93 3.32h-3.85zM354.8 304.2l1.93 3.32h-3.85zM355.4 297.5l1.93 3.32h-3.85zM356.0 300.6l1.93 3.32h-3.85zM356.6 305.1l1.93 3.32h-3.85zM357.3 297.8l1.93 3.32h-3.85zM357.9 300.5l1.93 3.32h-3.85zM358.5 302.4l1.93 3.32h-3.85zM359.1 297.2l1.93 3.32h-3.85zM359.8 306.1l1.93 3.32h-3.85zM360.4 303.3l1.93 3.32h-3.85zM361.0 296.9l1.93 3.32h-3.85zM361.6 302.1l1.93 3.32h-3.85zM362.3 299.6l1.93 3.32h-3.85zM362.9 300.1l1.93 3.32h-3.85zM363.5 302.8l1.93 3.32h-3.85zM364.1 300.1l1.93 3.32h-3.85zM364.8 306.0l1.93 3.32h-3.85zM365.4 300.2l1.93 3.32h-3.85zM366.0 306.2l1.93 3.32h-3.85zM366.6 302.7l1.93 3.32h-3.85zM367.3 305.9l1.93 3.32h-3.85zM367.9 301.1l1.93 3.32h-3.85zM368.5 301.3l1.93 3.32h-3.85zM369.1 299.1l1.93 3.32h-3.85zM369.8 305.2l1.93 3.32h-3.85zM370.4 306.5l1.93 3.32h-3.85zM371.0 310.7l1.93 3.32h-3.85zM371.6 307.8l1.93 3.32h-3.85zM372.3 304.2l1.93 3.32h-3.85zM372.9 302.6l1.93 3.32h-3.85zM373.5 304.7l1.93 3.32h-3.85zM374.1 303.3l1.93 3.32h-3.85zM374.7 308.6l1.93 3.32h-3.85zM375.4 306.8l1.93 3.32h-3.85zM376.0 300.5l1.93 3.32h-3.85zM376.6 301.1l1.93 3.32h-3.85zM377.2 308.3l1.93 3.32h-3.85zM377.9 304.6l1.93 3.32h-3.85zM378.5 302.8l1.93 3.32h-3.85zM379.1 307.7l1.93 3.32h-3.85zM379.7 302.3l1.93 3.32h-3.85zM380.4 302.7l1.93 3.32h-3.85zM381.0 302.0l1.93 3.32h-3.85zM381.6 296.8l1.93 3.32h-3.85zM382.2 306.7l1.93 3.32h-3.85zM382.9 299.5l1.93 3.32h-3.85zM383.5 301.7l1.93 3.32h-3.85zM384.1 301.1l1.93 3.32h-3.85zM384.7 306.3l1.93 3.32h-3.85zM385.4 303.5l1.93 3.32h-3.85zM386.0 303.8l1.93 3.32h-3.85zM386.6 297.9l1.93 3.32h-3.85zM387.2 303.5l1.93 3.32h-3.85zM387.9 298.7l1.93 3.32h-3.85zM388.5 304.9l1.93 3.32h-3.85zM389.1 305.1l1.93 3.32h-3.85zM389.7 303.8l1.93 3.32h-3.85zM390.4 311.0l1.93 3.32h-3.85zM391.0 305.7l1.93 3.32h-3.85zM391.6 306.0l1.93 3.32h-3.85zM392.2 304.4l1.93 3.32h-3.85zM392.9 303.2l1.93 3.32h-3.85zM393.5 307.3l1.93 3.32h-3.85zM394.1 307.8l1.93 3.32h-3.85zM394.7 299.3l1.93 3.32h-3.85zM395.4 307.6l1.93 3.32h-3.85zM396.0 305.7l1.93 3.32h-3.85zM396.6 307.3l1.93 3.32h-3.85zM397.2 305.5l1.93 3.32h-3.85zM397.9 299.5l1.93 3.32h-3.85zM398.5 299.8l1.93 3.32h-3.85zM399.1 310.3l1.93 3.32h-3.85zM399.7 304.8l1.93 3.32h-3.85zM400.4 298.9l1.93 3.32h-3.85zM401.0 305.1l1.93 3.32h-3.85zM401.6 302.6l1.93 3.32h-3.85zM402.2 297.4l1.93 3.32h-3.85zM402.9 295.9l1.93 3.32h-3.85zM403.5 298.3l1.93 3.32h-3.85zM404.1 304.9l1.93 3.32h-3.85zM404.7 303.7l1.93 3.32h-3.85zM405.4 303.0l1.93 3.32h-3.85zM406.0 304.9l1.93 3.32h-3.85zM406.6 306.0l1.93 3.32h-3.85zM407.2 296.5l1.93 3.32h-3.85zM407.8 302.8l1.93 3.32h-3.85zM408.5 301.0l1.93 3.32h-3.85zM409.1 299.6l1.93 3.32h-3.85zM409.7 302.0l1.93 3.32h-3.85zM410.3 303.5l1.93 3.32h-3.85zM411.0 303.0l1.93 3.32h-3.85zM411.6 298.8l1.93 3.32h-3.85zM412.2 302.2l1.93 3.32h-3.85zM412.8 311.0l1.93 3.32h-3.85zM413.5 300.2l1.93 3.32h-3.85zM414.1 298.0l1.93 3.32h-3.85zM414.7 304.9l1.93 3.32h-3.85zM415.3 306.0l1.93 3.32h-3.85zM416.0 305.5l1.93 3.32h-3.85zM416.6 300.0l1.93 3.32h-3.85zM417.2 307.4l1.93 3.32h-3.85zM417.8 301.2l1.93 3.32h-3.85zM418.5 299.9l1.93 3.32h-3.85zM419.1 301.8l1.93 3.32h-3.85zM419.7 303.5l1.93 3.32h-3.85zM420.3 306.4l1.93 3.32h-3.85zM421.0 306.1l1.93 3.32h-3.85zM421.6 303.8l1.93 3.32h-3.85zM422.2 307.2l1.93 3.32h-3.85zM422.8 304.2l1.93 3.32h-3.85zM423.5 307.0l1.93 3.32h-3.85zM424.1 299.0l1.93 3.32h-3.85zM424.7 298.4l1.93 3.32h-3.85zM425.3 306.6l1.93 3.32h-3.85zM426.0 299.0l1.93 3.32h-3.85zM426.6 302.8l1.93 3.32h-3.85zM427.2 303.5l1.93 3.32h-3.85zM427.8 302.1l1.93 3.32h-3.85zM428.5 302.2l1.93 3.32h-3.85zM429.1 308.7l1.93 3.32h-3.85zM429.7 294.9l1.93 3.32h-3.85zM430.3 306.8l1.93 3.32h-3.85zM431.0 311.8l1.93 3.32h-3.85zM431.6 303.8l1.93 3.32h-3.85zM432.2 303.6l1.93 3.32h-3.85zM432.8 306.2l1.93 3.32h-3.85zM433.5 310.1l1.93 3.32h-3.85zM434.1 299.5l1.93 3.32h-3.85zM434.7 303.9l1.93 3.32h-3.85zM435.3 302.9l1.93 3.32h-3.85zM436.0 305.5l1.93 3.32h-3.85zM436.6 304.1l1.93 3.32h-3.85zM437.2 305.8l1.93 3.32h-3.85zM437.8 302.0l1.93 3.32h-3.85zM438.5 303.6l1.93 3.32h-3.85zM439.1 301.1l1.93 3.32h-3.85zM439.7 301.1l1.93 3.32h-3.85zM440.3 302.9l1.93 3.32h-3.85zM440.9 302.8l1.93 3.32h-3.85zM441.6 299.2l1.93 3.32h-3.85zM442.2 308.8l1.93 3.32h-3.85zM442.8 302.8l1.93 3.32h-3.85zM443.4 298.4l1.93 3.32h-3.85zM444.1 307.1l1.93 3.32h-3.85zM444.7 300.5l1.93 3.32h-3.85zM445.3 304.9l1.93 3.32h-3.85zM445.9 303.0l1.93 3.32h-3.85zM446.6 304.0l1.93 3.32h-3.85zM447.2 303.6l1.93 3.32h-3.85zM447.8 301.0l1.93 3.32h-3.85zM448.4 303.1l1.93 3.32h-3.85zM449.1 310.1l1.93 3.32h-3.85zM449.7 295.1l1.93 3.32h-3.85zM450.3 303.1l1.93 3.32h-3.85zM450.9 304.4l1.93 3.32h-3.85zM451.6 299.1l1.93 3.32h-3.85zM452.2 298.0l1.93 3.32h-3.85zM452.8 310.3l1.93 3.32h-3.85zM453.4 301.3l1.93 3.32h-3.85zM454.1 309.9l1.93 3.32h-3.85zM454.7 304.4l1.93 3.32h-3.85zM455.3 302.7l1.93 3.32h-3.85zM455.9 304.1l1.93 3.32h-3.85zM456.6 304.5l1.93 3.32h-3.85zM457.2 306.4l1.93 3.32h-3.85zM457.8 303.7l1.93 3.32h-3.85zM458.4 302.6l1.93 3.32h-3.85zM459.1 302.6l1.93 3.32h-3.85zM459.7 306.7l1.93 3.32h-3.85zM460.3 304.7l1.93 3.32h-3.85zM460.9 298.3l1.93 3.32h-3.85zM461.6 299.5l1.93 3.32h-3.85zM462.2 302.8l1.93 3.32h-3.85zM462.8 299.4l1.93 3.32h-3.85zM463.4 300.2l1.93 3.32h-3.85zM464.1 298.1l1.93 3.32h-3.85zM464.7 300.4l1.93 3.32h-3.85zM465.3 302.8l1.93 3.32h-3.85zM465.9 304.7l1.93 3.32h-3.85zM466.6 301.2l1.93 3.32h-3.85zM467.2 308.4l1.93 3.32h-3.85zM467.8 300.8l1.93 3.32h-3.85zM468.4 310.4l1.93 3.32h-3.85zM469.1 304.5l1.93 3.32h-3.85zM469.7 302.7l1.93 3.32h-3.85zM470.3 299.1l1.93 3.32h-3.85zM470.9 291.4l1.93 3.32h-3.85zM471.6 300.3l1.93 3.32h-3.85zM472.2 301.4l1.93 3.32h-3.85zM472.8 307.5l1.93 3.32h-3.85zM473.4 295.9l1.93 3.32h-3.85zM474.0 307.4l1.93 3.32h-3.85zM474.7 299.8l1.93 3.32h-3.85zM475.3 303.2l1.93 3.32h-3.85zM475.9 291.7l1.93 3.32h-3.85zM476.5 301.1l1.93 3.32h-3.85zM477.2 299.4l1.93 3.32h-3.85zM477.8 302.9l1.93 3.32h-3.85zM478.4 300.8l1.93 3.32h-3.85zM479.0 296.5l1.93 3.32h-3.85zM479.7 303.8l1.93 3.32h-3.85zM480.3 302.9l1.93 3.32h-3.85zM480.9 302.5l1.93 3.32h-3.85zM481.5 304.0l1.93 3.32h-3.85zM482.2 304.3l1.93 3.32h-3.85zM482.8 300.3l1.93 3.32h-3.85zM483.4 295.7l1.93 3.32h-3.85zM484.0 295.6l1.93 3.32h-3.85zM484.7 305.1l1.93 3.32h-3.85zM485.3 302.9l1.93 3.32h-3.85zM485.9 300.8l1.93 3.32h-3.85zM486.5 298.9l1.93 3.32h-3.85zM487.2 300.6l1.93 3.32h-3.85zM487.8 300.6l1.93 3.32h-3.85zM488.4 299.5l1.93 3.32h-3.85zM489.0 298.3l1.93 3.32h-3.85zM489.7 308.4l1.93 3.32h-3.85zM490.3 301.7l1.93 3.32h-3.85zM490.9 298.9l1.93 3.32h-3.85zM491.5 296.6l1.93 3.32h-3.85zM492.2 298.7l1.93 3.32h-3.85zM492.8 303.9l1.93 3.32h-3.85zM493.4 304.2l1.93 3.32h-3.85zM494.0 300.9l1.93 3.32h-3.85zM494.7 302.0l1.93 3.32h-3.85zM495.3 300.9l1.93 3.32h-3.85zM495.9 298.2l1.93 3.32h-3.85zM496.5 306.8l1.93 3.32h-3.85zM497.2 303.7l1.93 3.32h-3.85zM497.8 311.2l1.93 3.32h-3.85zM498.4 300.0l1.93 3.32h-3.85zM499.0 302.3l1.93 3.32h-3.85zM499.7 305.9l1.93 3.32h-3.85zM500.3 302.1l1.93 3.32h-3.85zM500.9 298.2l1.93 3.32h-3.85zM501.5 299.8l1.93 3.32h-3.85zM502.2 303.6l1.93 3.32h-3.85zM502.8 304.6l1.93 3.32h-3.85zM503.4 303.2l1.93 3.32h-3.85zM504.0 307.1l1.93 3.32h-3.85zM504.7 307.2l1.93 3.32h-3.85zM505.3 305.0l1.93 3.32h-3.85zM505.9 304.1l1.93 3.32h-3.85zM506.5 303.2l1.93 3.32h-3.85zM507.1 306.2l1.93 3.32h-3.85zM507.8 307.6l1.93 3.32h-3.85zM508.4 304.7l1.93 3.32h-3.85zM509.0 306.2l1.93 3.32h-3.85zM509.6 303.6l1.93 3.32h-3.85zM510.3 299.9l1.93 3.32h-3.85zM510.9 301.5l1.93 3.32h-3.85zM511.5 307.7l1.93 3.32h-3.85zM512.1 306.7l1.93 3.32h-3.85zM512.8 310.8l1.93 3.32h-3.85zM513.4 305.6l1.93 3.32h-3.85zM514.0 308.5l1.93 3.32h-3.85zM514.6 310.2l1.93 3.32h-3.85zM515.3 309.1l1.93 3.32h-3.85zM515.9 303.5l1.93 3.32h-3.85zM516.5 305.1l1.93 3.32h-3.85zM517.1 306.2l1.93 3.32h-3.85zM517.8 302.4l1.93 3.32h-3.85zM518.4 307.5l1.93 3.32h-3.85zM519.0 309.5l1.93 3.32h-3.85zM519.6 304.2l1.93 3.32h-3.85zM520.3 312.8l1.93 3.32h-3.85zM520.9 304.9l1.93 3.32h-3.85zM521.5 305.1l1.93 3.32h-3.85zM522.1 305.0l1.93 3.32h-3.85zM522.8 303.2l1.93 3.32h-3.85zM523.4 307.1l1.93 3.32h-3.85zM524.0 305.6l1.93 3.32h-3.85zM524.6 311.3l1.93 3.32h-3.85zM525.3 307.5l1.93 3.32h-3.85zM525.9 307.1l1.93 3.32h-3.85zM526.5 304.3l1.93 3.32h-3.85zM527.1 300.0l1.93 3.32h-3.85zM527.8 304.5l1.93 3.32h-3.85zM528.4 301.7l1.93 3.32h-3.85zM529.0 307.9l1.93 3.32h-3.85zM529.6 304.4l1.93 3.32h-3.85zM530.3 310.2l1.93 3.32h-3.85zM530.9 306.8l1.93 3.32h-3.85zM531.5 307.1l1.93 3.32h-3.85zM532.1 304.9l1.93 3.32h-3.85zM532.8 304.8l1.93 3.32h-3.85zM533.4 306.3l1.93 3.32h-3.85zM534.0 307.2l1.93 3.32h-3.85zM534.6 301.4l1.93 3.32h-3.85zM535.3 305.6l1.93 3.32h-3.85zM535.9 313.1l1.93 3.32h-3.85zM536.5 303.6l1.93 3.32h-3.85zM537.1 303.0l1.93 3.32h-3.85zM537.8 301.5l1.93 3.32h-3.85zM538.4 298.8l1.93 3.32h-3.85zM539.0 308.1l1.93 3.32h-3.85z" fill="#f7931e"/>
</g>
<g id="axes">
<rect x="40.0" y="15.3" width="499.0" height="366.7" fill="none" stroke="#1c1c1c" stroke-width="1.5" stroke-linejoin="round"/>
<path d="M102.4 382.0v-5 M102.4 15.3v4 M227.1 382.0v-5 M227.1 15.3v4 M351.9 382.0v-5 M351.9 15.3v4 M476.6 382.0v-5 M476.6 15.3v4 M164.8 382.0v-2.5 M164.8 15.3v2.5 M289.5 382.0v-2.5 M289.5 15.3v2.5 M414.2 382.0v-2.5 M414.2 15.3v2.5" stroke="#222" stroke-width="1.2" fill="none"/>
</g>
<g id="ticklabels">
<text x="102.4" y="399.5" text-anchor="middle" font-size="16.3">200</text>
<text x="227.1" y="399.5" text-anchor="middle" font-size="16.3">400</text>
<text x="351.9" y="399.5" text-anchor="middle" font-size="16.3">600</text>
<text x="476.6" y="399.5" text-anchor="middle" font-size="16.3">800</text>
</g>
<text id="xlabel" x="227.5" y="429.8" font-size="18.65">Frequency (cm<tspan font-size="9.6" dy="-8.3">−1</tspan><tspan dy="8.3" dx="1.2">)</tspan></text>
<text id="ylabel" transform="translate(23.6 285.2) rotate(-90)" font-size="19.8">Intensity (arb. units)</text>
<g id="legend">
<path d="M379.3 30.6H409.6" stroke="#6e6e78" stroke-width="0.8"/>
<rect x="393.5" y="29.6" width="2.0" height="2.0" fill="#000000"/>
<text x="413" y="35.2" font-size="13.55">42 nm unannealed</text>
<path d="M379.3 46.6H409.6" stroke="#b0b67c" stroke-width="0.8"/>
<circle cx="394.5" cy="46.6" r="1.1" fill="#7d8c1c"/>
<text x="413" y="51.2" font-size="13.55">66 nm unannealed</text>
<path d="M379.3 63.4H409.6" stroke="#5050a8" stroke-width="0.8"/>
<rect x="393.5" y="62.4" width="2.0" height="2.0" fill="#12127a"/>
<text x="410.2" y="68.0" font-size="13.38">131 nm unannealed</text>
<path d="M379.3 79.4H409.6" stroke="#efbd78" stroke-width="0.8"/>
<path d="M394.5 77.9l1.3 2.4h-2.6z" fill="#f7931e"/>
<text x="413" y="84.0" font-size="13.55">Corning 7059</text>
</g>
</svg>
</body></html>
